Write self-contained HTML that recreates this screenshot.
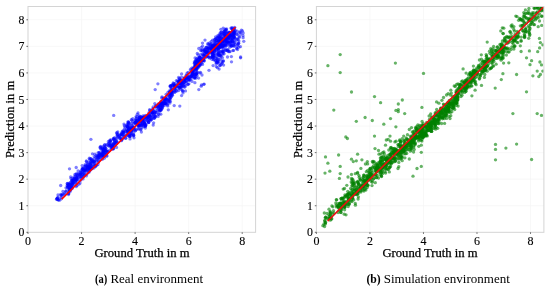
<!DOCTYPE html><html><head><meta charset="utf-8"><title>Prediction vs Ground Truth</title><style>html,body{margin:0;padding:0;background:#fff}svg{display:block}text{font-family:"Liberation Serif",serif;fill:#000;stroke:#000;stroke-width:0.25px}</style></head><body>
<svg width="550" height="289" viewBox="0 0 550 289">
<rect width="550" height="289" fill="#fff"/>
<line x1="81.55" y1="6.5" x2="81.55" y2="232.3" stroke="#f5f5f5" stroke-width="0.7"/>
<line x1="135.11" y1="6.5" x2="135.11" y2="232.3" stroke="#f5f5f5" stroke-width="0.7"/>
<line x1="188.66" y1="6.5" x2="188.66" y2="232.3" stroke="#f5f5f5" stroke-width="0.7"/>
<line x1="242.21" y1="6.5" x2="242.21" y2="232.3" stroke="#f5f5f5" stroke-width="0.7"/>
<line x1="28" y1="205.74" x2="255.6" y2="205.74" stroke="#f5f5f5" stroke-width="0.7"/>
<line x1="28" y1="179.17" x2="255.6" y2="179.17" stroke="#f5f5f5" stroke-width="0.7"/>
<line x1="28" y1="152.61" x2="255.6" y2="152.61" stroke="#f5f5f5" stroke-width="0.7"/>
<line x1="28" y1="126.04" x2="255.6" y2="126.04" stroke="#f5f5f5" stroke-width="0.7"/>
<line x1="28" y1="99.48" x2="255.6" y2="99.48" stroke="#f5f5f5" stroke-width="0.7"/>
<line x1="28" y1="72.91" x2="255.6" y2="72.91" stroke="#f5f5f5" stroke-width="0.7"/>
<line x1="28" y1="46.35" x2="255.6" y2="46.35" stroke="#f5f5f5" stroke-width="0.7"/>
<line x1="28" y1="19.78" x2="255.6" y2="19.78" stroke="#f5f5f5" stroke-width="0.7"/>
<clipPath id="c28"><rect x="28" y="6.5" width="227.6" height="225.8"/></clipPath>
<g clip-path="url(#c28)" fill="#0000ff" fill-opacity="0.5">
<circle cx="58.0" cy="194.9" r="1.65"/>
<circle cx="65.0" cy="193.0" r="1.65"/>
<circle cx="58.3" cy="199.7" r="1.65"/>
<circle cx="57.2" cy="199.5" r="1.65"/>
<circle cx="70.1" cy="191.5" r="1.65"/>
<circle cx="61.5" cy="195.3" r="1.65"/>
<circle cx="65.9" cy="191.1" r="1.65"/>
<circle cx="58.1" cy="197.2" r="1.65"/>
<circle cx="66.0" cy="191.2" r="1.65"/>
<circle cx="68.1" cy="186.7" r="1.65"/>
<circle cx="70.6" cy="190.1" r="1.65"/>
<circle cx="64.3" cy="194.1" r="1.65"/>
<circle cx="61.3" cy="197.4" r="1.65"/>
<circle cx="59.6" cy="200.2" r="1.65"/>
<circle cx="68.9" cy="187.7" r="1.65"/>
<circle cx="63.0" cy="194.2" r="1.65"/>
<circle cx="57.3" cy="198.2" r="1.65"/>
<circle cx="62.4" cy="194.9" r="1.65"/>
<circle cx="66.0" cy="187.8" r="1.65"/>
<circle cx="69.4" cy="189.4" r="1.65"/>
<circle cx="56.6" cy="199.3" r="1.65"/>
<circle cx="61.2" cy="198.8" r="1.65"/>
<circle cx="69.5" cy="189.4" r="1.65"/>
<circle cx="61.1" cy="195.1" r="1.65"/>
<circle cx="58.5" cy="200.0" r="1.65"/>
<circle cx="62.9" cy="191.5" r="1.65"/>
<circle cx="56.9" cy="198.6" r="1.65"/>
<circle cx="68.6" cy="191.6" r="1.65"/>
<circle cx="60.7" cy="194.3" r="1.65"/>
<circle cx="57.4" cy="198.2" r="1.65"/>
<circle cx="68.4" cy="184.4" r="1.65"/>
<circle cx="96.2" cy="160.0" r="1.65"/>
<circle cx="113.3" cy="138.7" r="1.65"/>
<circle cx="70.7" cy="182.7" r="1.65"/>
<circle cx="123.2" cy="131.1" r="1.65"/>
<circle cx="117.5" cy="134.4" r="1.65"/>
<circle cx="72.7" cy="183.9" r="1.65"/>
<circle cx="85.3" cy="165.7" r="1.65"/>
<circle cx="97.9" cy="164.5" r="1.65"/>
<circle cx="80.5" cy="173.6" r="1.65"/>
<circle cx="83.1" cy="176.9" r="1.65"/>
<circle cx="126.0" cy="135.3" r="1.65"/>
<circle cx="94.3" cy="156.6" r="1.65"/>
<circle cx="113.8" cy="143.6" r="1.65"/>
<circle cx="71.1" cy="183.8" r="1.65"/>
<circle cx="82.2" cy="165.6" r="1.65"/>
<circle cx="113.5" cy="145.0" r="1.65"/>
<circle cx="108.4" cy="141.4" r="1.65"/>
<circle cx="116.0" cy="143.2" r="1.65"/>
<circle cx="76.2" cy="179.7" r="1.65"/>
<circle cx="75.9" cy="183.0" r="1.65"/>
<circle cx="116.3" cy="138.7" r="1.65"/>
<circle cx="114.6" cy="142.5" r="1.65"/>
<circle cx="89.4" cy="168.5" r="1.65"/>
<circle cx="129.7" cy="127.4" r="1.65"/>
<circle cx="82.2" cy="168.4" r="1.65"/>
<circle cx="70.7" cy="176.8" r="1.65"/>
<circle cx="106.9" cy="151.1" r="1.65"/>
<circle cx="98.2" cy="152.6" r="1.65"/>
<circle cx="105.3" cy="154.1" r="1.65"/>
<circle cx="69.3" cy="184.2" r="1.65"/>
<circle cx="101.8" cy="155.4" r="1.65"/>
<circle cx="87.3" cy="168.0" r="1.65"/>
<circle cx="89.0" cy="166.9" r="1.65"/>
<circle cx="86.7" cy="171.0" r="1.65"/>
<circle cx="72.2" cy="180.4" r="1.65"/>
<circle cx="127.4" cy="126.5" r="1.65"/>
<circle cx="110.9" cy="140.0" r="1.65"/>
<circle cx="117.6" cy="134.6" r="1.65"/>
<circle cx="75.9" cy="182.8" r="1.65"/>
<circle cx="69.9" cy="187.9" r="1.65"/>
<circle cx="112.0" cy="146.3" r="1.65"/>
<circle cx="114.7" cy="140.5" r="1.65"/>
<circle cx="116.5" cy="147.4" r="1.65"/>
<circle cx="75.5" cy="179.5" r="1.65"/>
<circle cx="98.2" cy="155.6" r="1.65"/>
<circle cx="104.9" cy="154.1" r="1.65"/>
<circle cx="81.9" cy="171.0" r="1.65"/>
<circle cx="89.3" cy="158.2" r="1.65"/>
<circle cx="85.1" cy="169.3" r="1.65"/>
<circle cx="92.9" cy="160.9" r="1.65"/>
<circle cx="109.2" cy="146.2" r="1.65"/>
<circle cx="83.0" cy="178.9" r="1.65"/>
<circle cx="72.9" cy="178.5" r="1.65"/>
<circle cx="101.4" cy="154.2" r="1.65"/>
<circle cx="76.6" cy="176.9" r="1.65"/>
<circle cx="116.1" cy="138.8" r="1.65"/>
<circle cx="123.6" cy="132.3" r="1.65"/>
<circle cx="85.6" cy="171.0" r="1.65"/>
<circle cx="88.2" cy="166.2" r="1.65"/>
<circle cx="122.0" cy="132.0" r="1.65"/>
<circle cx="113.7" cy="139.0" r="1.65"/>
<circle cx="116.1" cy="143.0" r="1.65"/>
<circle cx="102.4" cy="155.9" r="1.65"/>
<circle cx="101.8" cy="156.6" r="1.65"/>
<circle cx="111.2" cy="148.3" r="1.65"/>
<circle cx="98.0" cy="157.9" r="1.65"/>
<circle cx="73.6" cy="182.2" r="1.65"/>
<circle cx="90.2" cy="158.7" r="1.65"/>
<circle cx="105.8" cy="148.4" r="1.65"/>
<circle cx="93.8" cy="168.0" r="1.65"/>
<circle cx="75.5" cy="176.4" r="1.65"/>
<circle cx="92.9" cy="162.1" r="1.65"/>
<circle cx="98.3" cy="157.5" r="1.65"/>
<circle cx="99.0" cy="155.7" r="1.65"/>
<circle cx="67.5" cy="185.8" r="1.65"/>
<circle cx="95.8" cy="157.1" r="1.65"/>
<circle cx="69.6" cy="190.6" r="1.65"/>
<circle cx="100.6" cy="148.8" r="1.65"/>
<circle cx="93.2" cy="164.9" r="1.65"/>
<circle cx="111.8" cy="146.2" r="1.65"/>
<circle cx="84.9" cy="170.7" r="1.65"/>
<circle cx="121.4" cy="134.1" r="1.65"/>
<circle cx="94.3" cy="164.5" r="1.65"/>
<circle cx="113.2" cy="149.0" r="1.65"/>
<circle cx="71.8" cy="180.7" r="1.65"/>
<circle cx="89.6" cy="166.5" r="1.65"/>
<circle cx="71.3" cy="185.6" r="1.65"/>
<circle cx="80.6" cy="174.7" r="1.65"/>
<circle cx="113.3" cy="144.6" r="1.65"/>
<circle cx="68.7" cy="184.9" r="1.65"/>
<circle cx="95.3" cy="166.7" r="1.65"/>
<circle cx="122.7" cy="134.4" r="1.65"/>
<circle cx="92.4" cy="159.7" r="1.65"/>
<circle cx="89.8" cy="167.9" r="1.65"/>
<circle cx="103.0" cy="149.3" r="1.65"/>
<circle cx="108.6" cy="143.4" r="1.65"/>
<circle cx="124.4" cy="128.9" r="1.65"/>
<circle cx="74.2" cy="178.5" r="1.65"/>
<circle cx="104.2" cy="149.5" r="1.65"/>
<circle cx="90.3" cy="164.2" r="1.65"/>
<circle cx="85.2" cy="164.6" r="1.65"/>
<circle cx="87.3" cy="166.7" r="1.65"/>
<circle cx="98.4" cy="162.4" r="1.65"/>
<circle cx="127.7" cy="127.2" r="1.65"/>
<circle cx="97.5" cy="156.2" r="1.65"/>
<circle cx="125.8" cy="138.1" r="1.65"/>
<circle cx="87.7" cy="167.2" r="1.65"/>
<circle cx="104.2" cy="151.3" r="1.65"/>
<circle cx="74.8" cy="179.2" r="1.65"/>
<circle cx="91.4" cy="159.9" r="1.65"/>
<circle cx="99.5" cy="155.4" r="1.65"/>
<circle cx="124.2" cy="136.3" r="1.65"/>
<circle cx="117.1" cy="133.0" r="1.65"/>
<circle cx="99.8" cy="157.4" r="1.65"/>
<circle cx="92.0" cy="166.0" r="1.65"/>
<circle cx="117.1" cy="141.8" r="1.65"/>
<circle cx="68.7" cy="193.5" r="1.65"/>
<circle cx="112.0" cy="146.2" r="1.65"/>
<circle cx="89.7" cy="167.2" r="1.65"/>
<circle cx="77.1" cy="178.2" r="1.65"/>
<circle cx="104.1" cy="150.4" r="1.65"/>
<circle cx="121.3" cy="140.0" r="1.65"/>
<circle cx="116.3" cy="141.2" r="1.65"/>
<circle cx="68.5" cy="194.5" r="1.65"/>
<circle cx="81.1" cy="173.0" r="1.65"/>
<circle cx="74.9" cy="174.5" r="1.65"/>
<circle cx="102.3" cy="153.1" r="1.65"/>
<circle cx="89.8" cy="169.2" r="1.65"/>
<circle cx="103.2" cy="153.1" r="1.65"/>
<circle cx="91.0" cy="161.6" r="1.65"/>
<circle cx="91.2" cy="167.8" r="1.65"/>
<circle cx="108.1" cy="151.5" r="1.65"/>
<circle cx="80.4" cy="176.3" r="1.65"/>
<circle cx="113.8" cy="138.7" r="1.65"/>
<circle cx="118.5" cy="137.0" r="1.65"/>
<circle cx="74.9" cy="179.7" r="1.65"/>
<circle cx="79.3" cy="174.5" r="1.65"/>
<circle cx="110.1" cy="141.0" r="1.65"/>
<circle cx="99.1" cy="157.3" r="1.65"/>
<circle cx="71.3" cy="186.8" r="1.65"/>
<circle cx="109.8" cy="144.1" r="1.65"/>
<circle cx="85.4" cy="166.4" r="1.65"/>
<circle cx="84.1" cy="170.4" r="1.65"/>
<circle cx="82.4" cy="174.5" r="1.65"/>
<circle cx="117.8" cy="132.0" r="1.65"/>
<circle cx="128.1" cy="122.5" r="1.65"/>
<circle cx="86.2" cy="169.6" r="1.65"/>
<circle cx="73.4" cy="183.0" r="1.65"/>
<circle cx="68.4" cy="193.4" r="1.65"/>
<circle cx="124.1" cy="134.0" r="1.65"/>
<circle cx="83.9" cy="170.3" r="1.65"/>
<circle cx="122.4" cy="132.6" r="1.65"/>
<circle cx="90.5" cy="162.5" r="1.65"/>
<circle cx="116.7" cy="141.7" r="1.65"/>
<circle cx="78.1" cy="170.9" r="1.65"/>
<circle cx="114.5" cy="137.7" r="1.65"/>
<circle cx="123.2" cy="135.3" r="1.65"/>
<circle cx="93.3" cy="162.2" r="1.65"/>
<circle cx="122.9" cy="131.0" r="1.65"/>
<circle cx="103.1" cy="155.4" r="1.65"/>
<circle cx="91.1" cy="158.6" r="1.65"/>
<circle cx="103.0" cy="151.3" r="1.65"/>
<circle cx="111.4" cy="143.0" r="1.65"/>
<circle cx="120.1" cy="134.7" r="1.65"/>
<circle cx="90.3" cy="164.3" r="1.65"/>
<circle cx="91.7" cy="162.9" r="1.65"/>
<circle cx="72.7" cy="181.0" r="1.65"/>
<circle cx="99.3" cy="160.0" r="1.65"/>
<circle cx="122.0" cy="135.1" r="1.65"/>
<circle cx="105.7" cy="150.6" r="1.65"/>
<circle cx="76.4" cy="173.7" r="1.65"/>
<circle cx="101.7" cy="149.4" r="1.65"/>
<circle cx="78.5" cy="177.8" r="1.65"/>
<circle cx="87.2" cy="169.9" r="1.65"/>
<circle cx="105.1" cy="150.6" r="1.65"/>
<circle cx="87.3" cy="168.9" r="1.65"/>
<circle cx="90.2" cy="165.1" r="1.65"/>
<circle cx="95.9" cy="165.2" r="1.65"/>
<circle cx="83.1" cy="173.2" r="1.65"/>
<circle cx="126.8" cy="126.5" r="1.65"/>
<circle cx="121.5" cy="140.7" r="1.65"/>
<circle cx="128.5" cy="130.5" r="1.65"/>
<circle cx="126.1" cy="130.9" r="1.65"/>
<circle cx="102.6" cy="148.4" r="1.65"/>
<circle cx="112.3" cy="146.9" r="1.65"/>
<circle cx="106.8" cy="155.4" r="1.65"/>
<circle cx="68.2" cy="183.9" r="1.65"/>
<circle cx="96.7" cy="161.1" r="1.65"/>
<circle cx="83.4" cy="168.3" r="1.65"/>
<circle cx="128.9" cy="129.2" r="1.65"/>
<circle cx="127.5" cy="127.0" r="1.65"/>
<circle cx="77.2" cy="179.9" r="1.65"/>
<circle cx="89.6" cy="159.7" r="1.65"/>
<circle cx="76.3" cy="180.4" r="1.65"/>
<circle cx="125.6" cy="138.3" r="1.65"/>
<circle cx="106.2" cy="154.1" r="1.65"/>
<circle cx="113.6" cy="139.7" r="1.65"/>
<circle cx="90.9" cy="165.9" r="1.65"/>
<circle cx="73.0" cy="180.1" r="1.65"/>
<circle cx="80.8" cy="178.0" r="1.65"/>
<circle cx="87.2" cy="165.9" r="1.65"/>
<circle cx="87.8" cy="164.5" r="1.65"/>
<circle cx="119.1" cy="136.2" r="1.65"/>
<circle cx="67.2" cy="185.5" r="1.65"/>
<circle cx="121.3" cy="134.6" r="1.65"/>
<circle cx="112.6" cy="148.5" r="1.65"/>
<circle cx="80.5" cy="177.1" r="1.65"/>
<circle cx="82.1" cy="174.3" r="1.65"/>
<circle cx="109.7" cy="145.2" r="1.65"/>
<circle cx="82.4" cy="169.3" r="1.65"/>
<circle cx="69.7" cy="184.7" r="1.65"/>
<circle cx="128.6" cy="129.0" r="1.65"/>
<circle cx="103.5" cy="151.8" r="1.65"/>
<circle cx="123.6" cy="137.7" r="1.65"/>
<circle cx="128.5" cy="124.9" r="1.65"/>
<circle cx="76.8" cy="178.1" r="1.65"/>
<circle cx="104.2" cy="156.0" r="1.65"/>
<circle cx="109.0" cy="145.7" r="1.65"/>
<circle cx="107.0" cy="152.1" r="1.65"/>
<circle cx="109.0" cy="144.0" r="1.65"/>
<circle cx="99.0" cy="152.9" r="1.65"/>
<circle cx="75.7" cy="180.7" r="1.65"/>
<circle cx="94.3" cy="161.9" r="1.65"/>
<circle cx="87.0" cy="174.0" r="1.65"/>
<circle cx="111.6" cy="147.7" r="1.65"/>
<circle cx="127.9" cy="135.2" r="1.65"/>
<circle cx="73.2" cy="180.2" r="1.65"/>
<circle cx="126.9" cy="125.1" r="1.65"/>
<circle cx="86.3" cy="175.9" r="1.65"/>
<circle cx="95.0" cy="162.9" r="1.65"/>
<circle cx="96.3" cy="155.3" r="1.65"/>
<circle cx="84.0" cy="172.1" r="1.65"/>
<circle cx="85.0" cy="174.8" r="1.65"/>
<circle cx="88.8" cy="170.7" r="1.65"/>
<circle cx="76.9" cy="177.7" r="1.65"/>
<circle cx="125.1" cy="126.9" r="1.65"/>
<circle cx="119.9" cy="138.6" r="1.65"/>
<circle cx="122.7" cy="138.9" r="1.65"/>
<circle cx="78.2" cy="173.7" r="1.65"/>
<circle cx="129.1" cy="122.9" r="1.65"/>
<circle cx="114.2" cy="142.9" r="1.65"/>
<circle cx="128.9" cy="128.9" r="1.65"/>
<circle cx="75.9" cy="174.7" r="1.65"/>
<circle cx="91.7" cy="166.7" r="1.65"/>
<circle cx="98.3" cy="155.3" r="1.65"/>
<circle cx="68.0" cy="187.2" r="1.65"/>
<circle cx="104.3" cy="158.2" r="1.65"/>
<circle cx="126.0" cy="129.6" r="1.65"/>
<circle cx="113.0" cy="148.5" r="1.65"/>
<circle cx="72.0" cy="187.6" r="1.65"/>
<circle cx="114.7" cy="145.6" r="1.65"/>
<circle cx="116.5" cy="132.9" r="1.65"/>
<circle cx="67.3" cy="183.5" r="1.65"/>
<circle cx="94.7" cy="165.8" r="1.65"/>
<circle cx="83.3" cy="176.6" r="1.65"/>
<circle cx="88.6" cy="172.0" r="1.65"/>
<circle cx="77.4" cy="176.3" r="1.65"/>
<circle cx="105.0" cy="148.0" r="1.65"/>
<circle cx="74.1" cy="185.0" r="1.65"/>
<circle cx="78.9" cy="184.2" r="1.65"/>
<circle cx="77.1" cy="185.5" r="1.65"/>
<circle cx="80.0" cy="183.0" r="1.65"/>
<circle cx="97.0" cy="157.5" r="1.65"/>
<circle cx="89.7" cy="168.7" r="1.65"/>
<circle cx="72.8" cy="182.6" r="1.65"/>
<circle cx="77.6" cy="175.9" r="1.65"/>
<circle cx="121.6" cy="139.5" r="1.65"/>
<circle cx="79.6" cy="174.9" r="1.65"/>
<circle cx="71.1" cy="178.3" r="1.65"/>
<circle cx="89.7" cy="170.1" r="1.65"/>
<circle cx="72.1" cy="183.5" r="1.65"/>
<circle cx="110.0" cy="140.2" r="1.65"/>
<circle cx="99.3" cy="155.5" r="1.65"/>
<circle cx="74.0" cy="176.8" r="1.65"/>
<circle cx="102.4" cy="159.3" r="1.65"/>
<circle cx="128.5" cy="123.3" r="1.65"/>
<circle cx="103.8" cy="151.7" r="1.65"/>
<circle cx="110.7" cy="146.2" r="1.65"/>
<circle cx="104.7" cy="144.9" r="1.65"/>
<circle cx="89.4" cy="167.1" r="1.65"/>
<circle cx="67.4" cy="183.7" r="1.65"/>
<circle cx="111.9" cy="144.4" r="1.65"/>
<circle cx="84.9" cy="168.9" r="1.65"/>
<circle cx="77.9" cy="179.9" r="1.65"/>
<circle cx="119.6" cy="138.1" r="1.65"/>
<circle cx="125.6" cy="131.1" r="1.65"/>
<circle cx="111.0" cy="145.3" r="1.65"/>
<circle cx="100.6" cy="146.5" r="1.65"/>
<circle cx="100.8" cy="154.0" r="1.65"/>
<circle cx="111.6" cy="149.3" r="1.65"/>
<circle cx="92.5" cy="153.8" r="1.65"/>
<circle cx="84.6" cy="166.6" r="1.65"/>
<circle cx="128.0" cy="121.8" r="1.65"/>
<circle cx="80.5" cy="174.6" r="1.65"/>
<circle cx="110.6" cy="141.1" r="1.65"/>
<circle cx="126.9" cy="124.8" r="1.65"/>
<circle cx="112.8" cy="146.5" r="1.65"/>
<circle cx="80.3" cy="172.3" r="1.65"/>
<circle cx="87.5" cy="165.0" r="1.65"/>
<circle cx="70.0" cy="182.7" r="1.65"/>
<circle cx="106.7" cy="151.2" r="1.65"/>
<circle cx="119.8" cy="135.5" r="1.65"/>
<circle cx="120.2" cy="137.2" r="1.65"/>
<circle cx="83.4" cy="169.9" r="1.65"/>
<circle cx="95.0" cy="154.2" r="1.65"/>
<circle cx="91.7" cy="168.9" r="1.65"/>
<circle cx="103.3" cy="146.2" r="1.65"/>
<circle cx="91.4" cy="168.2" r="1.65"/>
<circle cx="98.4" cy="160.4" r="1.65"/>
<circle cx="124.4" cy="125.7" r="1.65"/>
<circle cx="94.2" cy="161.3" r="1.65"/>
<circle cx="124.2" cy="132.3" r="1.65"/>
<circle cx="117.1" cy="135.6" r="1.65"/>
<circle cx="94.3" cy="161.3" r="1.65"/>
<circle cx="82.3" cy="172.0" r="1.65"/>
<circle cx="100.7" cy="147.2" r="1.65"/>
<circle cx="90.5" cy="169.9" r="1.65"/>
<circle cx="109.2" cy="150.6" r="1.65"/>
<circle cx="68.6" cy="185.9" r="1.65"/>
<circle cx="115.2" cy="144.1" r="1.65"/>
<circle cx="100.6" cy="157.8" r="1.65"/>
<circle cx="102.7" cy="156.3" r="1.65"/>
<circle cx="124.0" cy="124.1" r="1.65"/>
<circle cx="102.4" cy="147.8" r="1.65"/>
<circle cx="103.5" cy="153.3" r="1.65"/>
<circle cx="74.3" cy="179.8" r="1.65"/>
<circle cx="77.5" cy="174.5" r="1.65"/>
<circle cx="106.8" cy="144.5" r="1.65"/>
<circle cx="104.0" cy="156.3" r="1.65"/>
<circle cx="72.8" cy="182.4" r="1.65"/>
<circle cx="71.8" cy="185.3" r="1.65"/>
<circle cx="71.8" cy="180.2" r="1.65"/>
<circle cx="73.4" cy="182.2" r="1.65"/>
<circle cx="114.8" cy="142.1" r="1.65"/>
<circle cx="113.5" cy="148.5" r="1.65"/>
<circle cx="84.9" cy="174.8" r="1.65"/>
<circle cx="71.5" cy="186.7" r="1.65"/>
<circle cx="103.5" cy="149.6" r="1.65"/>
<circle cx="70.4" cy="188.2" r="1.65"/>
<circle cx="102.7" cy="155.3" r="1.65"/>
<circle cx="70.0" cy="185.3" r="1.65"/>
<circle cx="84.3" cy="173.0" r="1.65"/>
<circle cx="100.7" cy="154.5" r="1.65"/>
<circle cx="104.7" cy="145.0" r="1.65"/>
<circle cx="81.4" cy="176.8" r="1.65"/>
<circle cx="103.1" cy="152.1" r="1.65"/>
<circle cx="106.3" cy="152.1" r="1.65"/>
<circle cx="88.0" cy="167.2" r="1.65"/>
<circle cx="72.1" cy="187.4" r="1.65"/>
<circle cx="95.3" cy="165.2" r="1.65"/>
<circle cx="102.6" cy="151.5" r="1.65"/>
<circle cx="74.7" cy="178.4" r="1.65"/>
<circle cx="70.7" cy="189.2" r="1.65"/>
<circle cx="72.0" cy="188.7" r="1.65"/>
<circle cx="95.0" cy="166.7" r="1.65"/>
<circle cx="68.9" cy="189.6" r="1.65"/>
<circle cx="80.8" cy="180.1" r="1.65"/>
<circle cx="89.0" cy="162.3" r="1.65"/>
<circle cx="96.7" cy="165.3" r="1.65"/>
<circle cx="104.5" cy="147.2" r="1.65"/>
<circle cx="83.7" cy="175.5" r="1.65"/>
<circle cx="82.8" cy="168.4" r="1.65"/>
<circle cx="105.0" cy="152.6" r="1.65"/>
<circle cx="86.4" cy="160.9" r="1.65"/>
<circle cx="104.4" cy="148.0" r="1.65"/>
<circle cx="99.4" cy="154.1" r="1.65"/>
<circle cx="106.0" cy="149.0" r="1.65"/>
<circle cx="89.2" cy="172.1" r="1.65"/>
<circle cx="72.5" cy="184.7" r="1.65"/>
<circle cx="94.3" cy="159.0" r="1.65"/>
<circle cx="91.6" cy="168.2" r="1.65"/>
<circle cx="102.2" cy="154.4" r="1.65"/>
<circle cx="121.2" cy="138.7" r="1.65"/>
<circle cx="90.3" cy="163.7" r="1.65"/>
<circle cx="100.0" cy="147.5" r="1.65"/>
<circle cx="69.6" cy="187.0" r="1.65"/>
<circle cx="92.4" cy="161.6" r="1.65"/>
<circle cx="112.8" cy="145.5" r="1.65"/>
<circle cx="67.6" cy="187.5" r="1.65"/>
<circle cx="92.4" cy="168.1" r="1.65"/>
<circle cx="106.5" cy="145.7" r="1.65"/>
<circle cx="86.1" cy="167.9" r="1.65"/>
<circle cx="91.6" cy="160.3" r="1.65"/>
<circle cx="96.9" cy="159.0" r="1.65"/>
<circle cx="99.6" cy="152.3" r="1.65"/>
<circle cx="121.3" cy="133.7" r="1.65"/>
<circle cx="123.4" cy="132.5" r="1.65"/>
<circle cx="109.6" cy="142.1" r="1.65"/>
<circle cx="76.2" cy="186.5" r="1.65"/>
<circle cx="106.7" cy="156.3" r="1.65"/>
<circle cx="87.0" cy="168.9" r="1.65"/>
<circle cx="80.6" cy="171.1" r="1.65"/>
<circle cx="129.5" cy="125.8" r="1.65"/>
<circle cx="87.3" cy="162.9" r="1.65"/>
<circle cx="127.8" cy="127.6" r="1.65"/>
<circle cx="75.3" cy="180.8" r="1.65"/>
<circle cx="82.5" cy="169.3" r="1.65"/>
<circle cx="117.5" cy="136.6" r="1.65"/>
<circle cx="114.7" cy="140.5" r="1.65"/>
<circle cx="131.9" cy="120.2" r="1.65"/>
<circle cx="132.4" cy="127.2" r="1.65"/>
<circle cx="129.6" cy="128.5" r="1.65"/>
<circle cx="127.5" cy="131.4" r="1.65"/>
<circle cx="129.8" cy="136.7" r="1.65"/>
<circle cx="129.1" cy="136.3" r="1.65"/>
<circle cx="131.4" cy="133.9" r="1.65"/>
<circle cx="140.1" cy="120.8" r="1.65"/>
<circle cx="139.0" cy="119.3" r="1.65"/>
<circle cx="135.8" cy="119.2" r="1.65"/>
<circle cx="130.0" cy="138.9" r="1.65"/>
<circle cx="133.6" cy="128.0" r="1.65"/>
<circle cx="128.2" cy="123.8" r="1.65"/>
<circle cx="128.7" cy="122.0" r="1.65"/>
<circle cx="138.9" cy="118.4" r="1.65"/>
<circle cx="138.0" cy="112.9" r="1.65"/>
<circle cx="133.3" cy="129.2" r="1.65"/>
<circle cx="135.3" cy="130.8" r="1.65"/>
<circle cx="138.3" cy="122.7" r="1.65"/>
<circle cx="140.1" cy="119.0" r="1.65"/>
<circle cx="134.9" cy="120.4" r="1.65"/>
<circle cx="136.3" cy="120.8" r="1.65"/>
<circle cx="138.8" cy="120.3" r="1.65"/>
<circle cx="142.2" cy="118.2" r="1.65"/>
<circle cx="133.8" cy="135.5" r="1.65"/>
<circle cx="140.4" cy="119.9" r="1.65"/>
<circle cx="130.0" cy="136.4" r="1.65"/>
<circle cx="138.9" cy="125.2" r="1.65"/>
<circle cx="131.3" cy="131.7" r="1.65"/>
<circle cx="140.6" cy="116.6" r="1.65"/>
<circle cx="135.9" cy="121.7" r="1.65"/>
<circle cx="130.6" cy="129.7" r="1.65"/>
<circle cx="141.3" cy="125.0" r="1.65"/>
<circle cx="138.1" cy="122.1" r="1.65"/>
<circle cx="136.4" cy="118.5" r="1.65"/>
<circle cx="136.1" cy="121.0" r="1.65"/>
<circle cx="134.9" cy="122.8" r="1.65"/>
<circle cx="134.4" cy="127.7" r="1.65"/>
<circle cx="138.7" cy="125.0" r="1.65"/>
<circle cx="139.4" cy="119.6" r="1.65"/>
<circle cx="128.4" cy="126.9" r="1.65"/>
<circle cx="132.3" cy="129.0" r="1.65"/>
<circle cx="132.4" cy="126.1" r="1.65"/>
<circle cx="139.4" cy="115.8" r="1.65"/>
<circle cx="138.2" cy="125.4" r="1.65"/>
<circle cx="140.7" cy="120.9" r="1.65"/>
<circle cx="138.0" cy="128.7" r="1.65"/>
<circle cx="139.1" cy="125.2" r="1.65"/>
<circle cx="139.0" cy="129.2" r="1.65"/>
<circle cx="129.0" cy="132.1" r="1.65"/>
<circle cx="139.3" cy="116.9" r="1.65"/>
<circle cx="141.5" cy="117.0" r="1.65"/>
<circle cx="140.5" cy="119.4" r="1.65"/>
<circle cx="128.0" cy="130.5" r="1.65"/>
<circle cx="135.5" cy="130.6" r="1.65"/>
<circle cx="130.8" cy="133.8" r="1.65"/>
<circle cx="143.0" cy="116.0" r="1.65"/>
<circle cx="133.6" cy="135.0" r="1.65"/>
<circle cx="143.1" cy="120.1" r="1.65"/>
<circle cx="138.2" cy="124.8" r="1.65"/>
<circle cx="133.5" cy="127.7" r="1.65"/>
<circle cx="134.6" cy="129.5" r="1.65"/>
<circle cx="133.4" cy="126.9" r="1.65"/>
<circle cx="137.3" cy="114.3" r="1.65"/>
<circle cx="136.1" cy="124.0" r="1.65"/>
<circle cx="142.5" cy="119.6" r="1.65"/>
<circle cx="127.8" cy="130.5" r="1.65"/>
<circle cx="131.3" cy="127.7" r="1.65"/>
<circle cx="133.3" cy="134.8" r="1.65"/>
<circle cx="132.8" cy="118.6" r="1.65"/>
<circle cx="131.7" cy="129.1" r="1.65"/>
<circle cx="130.5" cy="135.1" r="1.65"/>
<circle cx="134.0" cy="137.8" r="1.65"/>
<circle cx="139.6" cy="117.6" r="1.65"/>
<circle cx="135.3" cy="122.3" r="1.65"/>
<circle cx="131.3" cy="119.7" r="1.65"/>
<circle cx="136.3" cy="129.7" r="1.65"/>
<circle cx="131.5" cy="123.4" r="1.65"/>
<circle cx="131.3" cy="125.1" r="1.65"/>
<circle cx="139.8" cy="125.5" r="1.65"/>
<circle cx="132.7" cy="121.7" r="1.65"/>
<circle cx="140.9" cy="121.5" r="1.65"/>
<circle cx="138.7" cy="126.6" r="1.65"/>
<circle cx="139.6" cy="118.7" r="1.65"/>
<circle cx="133.6" cy="132.7" r="1.65"/>
<circle cx="127.6" cy="132.9" r="1.65"/>
<circle cx="137.2" cy="123.5" r="1.65"/>
<circle cx="135.4" cy="122.8" r="1.65"/>
<circle cx="127.5" cy="132.1" r="1.65"/>
<circle cx="128.0" cy="131.0" r="1.65"/>
<circle cx="133.3" cy="135.8" r="1.65"/>
<circle cx="128.1" cy="133.5" r="1.65"/>
<circle cx="142.1" cy="119.2" r="1.65"/>
<circle cx="131.2" cy="128.5" r="1.65"/>
<circle cx="127.1" cy="135.3" r="1.65"/>
<circle cx="136.8" cy="116.5" r="1.65"/>
<circle cx="136.9" cy="125.1" r="1.65"/>
<circle cx="136.9" cy="122.2" r="1.65"/>
<circle cx="137.6" cy="120.0" r="1.65"/>
<circle cx="130.6" cy="128.8" r="1.65"/>
<circle cx="130.9" cy="133.7" r="1.65"/>
<circle cx="131.6" cy="130.5" r="1.65"/>
<circle cx="139.9" cy="119.6" r="1.65"/>
<circle cx="140.8" cy="122.7" r="1.65"/>
<circle cx="133.8" cy="123.9" r="1.65"/>
<circle cx="136.0" cy="116.8" r="1.65"/>
<circle cx="142.3" cy="117.5" r="1.65"/>
<circle cx="139.4" cy="120.4" r="1.65"/>
<circle cx="130.1" cy="135.9" r="1.65"/>
<circle cx="131.1" cy="130.2" r="1.65"/>
<circle cx="141.8" cy="120.6" r="1.65"/>
<circle cx="134.9" cy="122.9" r="1.65"/>
<circle cx="142.8" cy="120.3" r="1.65"/>
<circle cx="130.0" cy="131.7" r="1.65"/>
<circle cx="131.7" cy="130.3" r="1.65"/>
<circle cx="139.3" cy="117.5" r="1.65"/>
<circle cx="129.3" cy="135.2" r="1.65"/>
<circle cx="132.3" cy="130.9" r="1.65"/>
<circle cx="139.4" cy="125.9" r="1.65"/>
<circle cx="137.3" cy="120.5" r="1.65"/>
<circle cx="168.7" cy="101.4" r="1.65"/>
<circle cx="163.4" cy="102.8" r="1.65"/>
<circle cx="169.6" cy="94.0" r="1.65"/>
<circle cx="145.5" cy="126.0" r="1.65"/>
<circle cx="152.4" cy="113.1" r="1.65"/>
<circle cx="166.3" cy="99.3" r="1.65"/>
<circle cx="162.3" cy="105.5" r="1.65"/>
<circle cx="145.0" cy="117.7" r="1.65"/>
<circle cx="153.2" cy="125.1" r="1.65"/>
<circle cx="161.3" cy="104.1" r="1.65"/>
<circle cx="160.5" cy="103.6" r="1.65"/>
<circle cx="172.5" cy="89.0" r="1.65"/>
<circle cx="168.1" cy="95.1" r="1.65"/>
<circle cx="164.3" cy="99.3" r="1.65"/>
<circle cx="143.0" cy="125.5" r="1.65"/>
<circle cx="170.1" cy="95.1" r="1.65"/>
<circle cx="150.3" cy="116.8" r="1.65"/>
<circle cx="160.9" cy="105.0" r="1.65"/>
<circle cx="166.1" cy="98.5" r="1.65"/>
<circle cx="164.4" cy="103.4" r="1.65"/>
<circle cx="162.6" cy="105.8" r="1.65"/>
<circle cx="160.5" cy="108.8" r="1.65"/>
<circle cx="163.3" cy="103.3" r="1.65"/>
<circle cx="140.7" cy="125.5" r="1.65"/>
<circle cx="160.5" cy="110.3" r="1.65"/>
<circle cx="158.2" cy="114.1" r="1.65"/>
<circle cx="149.9" cy="116.1" r="1.65"/>
<circle cx="148.2" cy="117.6" r="1.65"/>
<circle cx="150.4" cy="120.6" r="1.65"/>
<circle cx="168.9" cy="99.3" r="1.65"/>
<circle cx="144.4" cy="122.8" r="1.65"/>
<circle cx="143.8" cy="117.8" r="1.65"/>
<circle cx="167.9" cy="92.5" r="1.65"/>
<circle cx="156.5" cy="112.4" r="1.65"/>
<circle cx="149.6" cy="109.7" r="1.65"/>
<circle cx="171.9" cy="93.2" r="1.65"/>
<circle cx="157.9" cy="105.4" r="1.65"/>
<circle cx="142.5" cy="117.6" r="1.65"/>
<circle cx="145.5" cy="125.7" r="1.65"/>
<circle cx="164.5" cy="103.7" r="1.65"/>
<circle cx="159.6" cy="105.6" r="1.65"/>
<circle cx="165.0" cy="103.0" r="1.65"/>
<circle cx="162.6" cy="105.1" r="1.65"/>
<circle cx="158.9" cy="114.3" r="1.65"/>
<circle cx="167.3" cy="104.9" r="1.65"/>
<circle cx="165.2" cy="103.8" r="1.65"/>
<circle cx="154.9" cy="115.7" r="1.65"/>
<circle cx="151.4" cy="116.0" r="1.65"/>
<circle cx="162.9" cy="106.3" r="1.65"/>
<circle cx="153.6" cy="117.0" r="1.65"/>
<circle cx="172.4" cy="95.3" r="1.65"/>
<circle cx="153.9" cy="118.3" r="1.65"/>
<circle cx="148.5" cy="122.6" r="1.65"/>
<circle cx="164.7" cy="100.7" r="1.65"/>
<circle cx="149.8" cy="115.1" r="1.65"/>
<circle cx="170.0" cy="93.5" r="1.65"/>
<circle cx="169.8" cy="95.7" r="1.65"/>
<circle cx="164.3" cy="103.6" r="1.65"/>
<circle cx="143.0" cy="121.2" r="1.65"/>
<circle cx="148.3" cy="121.7" r="1.65"/>
<circle cx="170.5" cy="93.1" r="1.65"/>
<circle cx="160.8" cy="114.2" r="1.65"/>
<circle cx="162.0" cy="97.0" r="1.65"/>
<circle cx="144.4" cy="124.3" r="1.65"/>
<circle cx="156.7" cy="108.1" r="1.65"/>
<circle cx="150.1" cy="116.3" r="1.65"/>
<circle cx="151.5" cy="112.4" r="1.65"/>
<circle cx="170.4" cy="101.4" r="1.65"/>
<circle cx="153.1" cy="112.5" r="1.65"/>
<circle cx="148.6" cy="116.1" r="1.65"/>
<circle cx="170.9" cy="93.9" r="1.65"/>
<circle cx="145.2" cy="126.4" r="1.65"/>
<circle cx="145.9" cy="115.5" r="1.65"/>
<circle cx="156.0" cy="110.8" r="1.65"/>
<circle cx="152.7" cy="108.6" r="1.65"/>
<circle cx="152.4" cy="113.0" r="1.65"/>
<circle cx="162.6" cy="107.0" r="1.65"/>
<circle cx="141.9" cy="127.7" r="1.65"/>
<circle cx="142.7" cy="124.3" r="1.65"/>
<circle cx="158.1" cy="116.4" r="1.65"/>
<circle cx="146.6" cy="118.8" r="1.65"/>
<circle cx="144.6" cy="123.4" r="1.65"/>
<circle cx="161.5" cy="102.7" r="1.65"/>
<circle cx="159.3" cy="110.4" r="1.65"/>
<circle cx="144.5" cy="123.3" r="1.65"/>
<circle cx="154.1" cy="118.2" r="1.65"/>
<circle cx="140.8" cy="129.0" r="1.65"/>
<circle cx="160.4" cy="106.7" r="1.65"/>
<circle cx="153.4" cy="114.7" r="1.65"/>
<circle cx="151.5" cy="118.6" r="1.65"/>
<circle cx="145.1" cy="124.4" r="1.65"/>
<circle cx="165.4" cy="101.5" r="1.65"/>
<circle cx="155.6" cy="116.3" r="1.65"/>
<circle cx="144.6" cy="116.0" r="1.65"/>
<circle cx="146.9" cy="120.4" r="1.65"/>
<circle cx="153.6" cy="122.8" r="1.65"/>
<circle cx="161.0" cy="101.4" r="1.65"/>
<circle cx="141.4" cy="132.0" r="1.65"/>
<circle cx="170.9" cy="95.6" r="1.65"/>
<circle cx="167.2" cy="96.2" r="1.65"/>
<circle cx="162.1" cy="103.1" r="1.65"/>
<circle cx="164.0" cy="98.6" r="1.65"/>
<circle cx="145.2" cy="117.4" r="1.65"/>
<circle cx="154.6" cy="113.1" r="1.65"/>
<circle cx="164.9" cy="105.2" r="1.65"/>
<circle cx="172.2" cy="95.1" r="1.65"/>
<circle cx="160.9" cy="109.9" r="1.65"/>
<circle cx="144.1" cy="122.2" r="1.65"/>
<circle cx="149.5" cy="120.0" r="1.65"/>
<circle cx="147.8" cy="115.9" r="1.65"/>
<circle cx="154.2" cy="112.9" r="1.65"/>
<circle cx="169.4" cy="98.4" r="1.65"/>
<circle cx="165.2" cy="103.4" r="1.65"/>
<circle cx="164.1" cy="99.7" r="1.65"/>
<circle cx="171.4" cy="96.7" r="1.65"/>
<circle cx="169.3" cy="96.5" r="1.65"/>
<circle cx="151.3" cy="110.8" r="1.65"/>
<circle cx="153.3" cy="110.5" r="1.65"/>
<circle cx="166.4" cy="103.4" r="1.65"/>
<circle cx="147.9" cy="117.4" r="1.65"/>
<circle cx="142.9" cy="119.4" r="1.65"/>
<circle cx="141.8" cy="125.1" r="1.65"/>
<circle cx="145.3" cy="128.0" r="1.65"/>
<circle cx="170.0" cy="99.2" r="1.65"/>
<circle cx="168.5" cy="100.7" r="1.65"/>
<circle cx="163.3" cy="103.3" r="1.65"/>
<circle cx="154.8" cy="103.6" r="1.65"/>
<circle cx="151.7" cy="112.6" r="1.65"/>
<circle cx="159.4" cy="109.3" r="1.65"/>
<circle cx="172.5" cy="90.4" r="1.65"/>
<circle cx="148.7" cy="122.4" r="1.65"/>
<circle cx="147.0" cy="121.0" r="1.65"/>
<circle cx="148.5" cy="116.0" r="1.65"/>
<circle cx="144.1" cy="123.5" r="1.65"/>
<circle cx="149.9" cy="110.5" r="1.65"/>
<circle cx="156.0" cy="105.3" r="1.65"/>
<circle cx="154.8" cy="117.8" r="1.65"/>
<circle cx="158.6" cy="106.8" r="1.65"/>
<circle cx="140.8" cy="129.8" r="1.65"/>
<circle cx="159.3" cy="111.5" r="1.65"/>
<circle cx="148.6" cy="122.4" r="1.65"/>
<circle cx="150.4" cy="118.5" r="1.65"/>
<circle cx="160.3" cy="107.5" r="1.65"/>
<circle cx="149.0" cy="112.6" r="1.65"/>
<circle cx="157.7" cy="106.7" r="1.65"/>
<circle cx="142.2" cy="123.1" r="1.65"/>
<circle cx="141.4" cy="124.5" r="1.65"/>
<circle cx="145.8" cy="124.6" r="1.65"/>
<circle cx="165.4" cy="103.1" r="1.65"/>
<circle cx="159.1" cy="104.2" r="1.65"/>
<circle cx="163.2" cy="101.1" r="1.65"/>
<circle cx="161.4" cy="103.5" r="1.65"/>
<circle cx="155.4" cy="116.7" r="1.65"/>
<circle cx="147.6" cy="117.3" r="1.65"/>
<circle cx="167.8" cy="105.9" r="1.65"/>
<circle cx="146.0" cy="124.9" r="1.65"/>
<circle cx="149.5" cy="114.8" r="1.65"/>
<circle cx="155.7" cy="112.3" r="1.65"/>
<circle cx="155.6" cy="106.7" r="1.65"/>
<circle cx="169.9" cy="103.0" r="1.65"/>
<circle cx="165.7" cy="98.7" r="1.65"/>
<circle cx="144.2" cy="117.0" r="1.65"/>
<circle cx="142.2" cy="118.0" r="1.65"/>
<circle cx="160.4" cy="105.5" r="1.65"/>
<circle cx="169.3" cy="91.0" r="1.65"/>
<circle cx="168.3" cy="109.8" r="1.65"/>
<circle cx="160.5" cy="109.5" r="1.65"/>
<circle cx="167.7" cy="100.8" r="1.65"/>
<circle cx="140.7" cy="123.4" r="1.65"/>
<circle cx="161.7" cy="108.5" r="1.65"/>
<circle cx="144.5" cy="120.6" r="1.65"/>
<circle cx="160.6" cy="103.4" r="1.65"/>
<circle cx="161.7" cy="97.9" r="1.65"/>
<circle cx="161.5" cy="103.7" r="1.65"/>
<circle cx="154.9" cy="115.0" r="1.65"/>
<circle cx="164.1" cy="101.7" r="1.65"/>
<circle cx="163.6" cy="98.0" r="1.65"/>
<circle cx="169.5" cy="101.2" r="1.65"/>
<circle cx="142.1" cy="121.2" r="1.65"/>
<circle cx="152.5" cy="112.8" r="1.65"/>
<circle cx="155.8" cy="106.4" r="1.65"/>
<circle cx="166.1" cy="98.4" r="1.65"/>
<circle cx="147.0" cy="116.7" r="1.65"/>
<circle cx="171.6" cy="91.1" r="1.65"/>
<circle cx="143.3" cy="118.8" r="1.65"/>
<circle cx="160.3" cy="109.8" r="1.65"/>
<circle cx="146.8" cy="117.2" r="1.65"/>
<circle cx="166.2" cy="99.9" r="1.65"/>
<circle cx="153.3" cy="111.1" r="1.65"/>
<circle cx="166.1" cy="94.3" r="1.65"/>
<circle cx="152.6" cy="113.2" r="1.65"/>
<circle cx="167.9" cy="103.7" r="1.65"/>
<circle cx="151.5" cy="119.5" r="1.65"/>
<circle cx="152.9" cy="109.8" r="1.65"/>
<circle cx="166.0" cy="102.5" r="1.65"/>
<circle cx="166.9" cy="99.3" r="1.65"/>
<circle cx="158.8" cy="106.2" r="1.65"/>
<circle cx="163.2" cy="102.2" r="1.65"/>
<circle cx="158.5" cy="108.0" r="1.65"/>
<circle cx="153.2" cy="106.8" r="1.65"/>
<circle cx="160.7" cy="103.0" r="1.65"/>
<circle cx="148.6" cy="119.7" r="1.65"/>
<circle cx="161.7" cy="108.0" r="1.65"/>
<circle cx="152.6" cy="116.3" r="1.65"/>
<circle cx="158.3" cy="103.8" r="1.65"/>
<circle cx="169.9" cy="92.6" r="1.65"/>
<circle cx="149.6" cy="113.8" r="1.65"/>
<circle cx="143.8" cy="122.2" r="1.65"/>
<circle cx="171.9" cy="91.7" r="1.65"/>
<circle cx="158.9" cy="106.9" r="1.65"/>
<circle cx="151.1" cy="119.8" r="1.65"/>
<circle cx="146.0" cy="119.0" r="1.65"/>
<circle cx="170.3" cy="98.0" r="1.65"/>
<circle cx="158.0" cy="110.0" r="1.65"/>
<circle cx="160.9" cy="110.3" r="1.65"/>
<circle cx="155.0" cy="112.0" r="1.65"/>
<circle cx="143.7" cy="126.5" r="1.65"/>
<circle cx="162.1" cy="108.5" r="1.65"/>
<circle cx="149.4" cy="118.9" r="1.65"/>
<circle cx="144.8" cy="125.5" r="1.65"/>
<circle cx="179.8" cy="80.6" r="1.65"/>
<circle cx="180.9" cy="82.8" r="1.65"/>
<circle cx="179.8" cy="81.7" r="1.65"/>
<circle cx="170.2" cy="86.4" r="1.65"/>
<circle cx="180.9" cy="79.8" r="1.65"/>
<circle cx="174.8" cy="88.1" r="1.65"/>
<circle cx="171.2" cy="88.4" r="1.65"/>
<circle cx="177.7" cy="84.2" r="1.65"/>
<circle cx="169.9" cy="92.1" r="1.65"/>
<circle cx="179.8" cy="81.3" r="1.65"/>
<circle cx="170.8" cy="91.4" r="1.65"/>
<circle cx="170.9" cy="92.5" r="1.65"/>
<circle cx="179.8" cy="83.3" r="1.65"/>
<circle cx="174.8" cy="85.6" r="1.65"/>
<circle cx="174.7" cy="88.9" r="1.65"/>
<circle cx="176.4" cy="80.6" r="1.65"/>
<circle cx="179.5" cy="81.1" r="1.65"/>
<circle cx="174.2" cy="85.9" r="1.65"/>
<circle cx="178.4" cy="82.1" r="1.65"/>
<circle cx="181.6" cy="73.9" r="1.65"/>
<circle cx="174.0" cy="84.0" r="1.65"/>
<circle cx="170.7" cy="97.6" r="1.65"/>
<circle cx="173.4" cy="83.8" r="1.65"/>
<circle cx="181.8" cy="86.2" r="1.65"/>
<circle cx="172.2" cy="94.0" r="1.65"/>
<circle cx="175.1" cy="89.3" r="1.65"/>
<circle cx="175.6" cy="86.2" r="1.65"/>
<circle cx="180.9" cy="82.5" r="1.65"/>
<circle cx="178.2" cy="81.6" r="1.65"/>
<circle cx="172.0" cy="85.1" r="1.65"/>
<circle cx="175.3" cy="87.8" r="1.65"/>
<circle cx="170.2" cy="86.1" r="1.65"/>
<circle cx="171.0" cy="90.2" r="1.65"/>
<circle cx="174.3" cy="85.7" r="1.65"/>
<circle cx="181.5" cy="77.1" r="1.65"/>
<circle cx="174.8" cy="85.2" r="1.65"/>
<circle cx="178.4" cy="83.9" r="1.65"/>
<circle cx="178.6" cy="90.5" r="1.65"/>
<circle cx="172.0" cy="85.2" r="1.65"/>
<circle cx="181.0" cy="83.5" r="1.65"/>
<circle cx="179.5" cy="79.0" r="1.65"/>
<circle cx="179.5" cy="80.1" r="1.65"/>
<circle cx="176.7" cy="85.9" r="1.65"/>
<circle cx="177.5" cy="80.9" r="1.65"/>
<circle cx="170.6" cy="92.8" r="1.65"/>
<circle cx="179.8" cy="86.7" r="1.65"/>
<circle cx="173.8" cy="86.5" r="1.65"/>
<circle cx="171.5" cy="91.2" r="1.65"/>
<circle cx="173.0" cy="92.5" r="1.65"/>
<circle cx="178.9" cy="86.8" r="1.65"/>
<circle cx="174.8" cy="92.3" r="1.65"/>
<circle cx="170.7" cy="86.2" r="1.65"/>
<circle cx="171.5" cy="88.6" r="1.65"/>
<circle cx="178.6" cy="77.4" r="1.65"/>
<circle cx="176.0" cy="90.5" r="1.65"/>
<circle cx="176.7" cy="86.8" r="1.65"/>
<circle cx="175.4" cy="86.3" r="1.65"/>
<circle cx="170.1" cy="91.6" r="1.65"/>
<circle cx="179.8" cy="87.7" r="1.65"/>
<circle cx="179.6" cy="83.1" r="1.65"/>
<circle cx="177.7" cy="86.2" r="1.65"/>
<circle cx="178.7" cy="87.9" r="1.65"/>
<circle cx="174.1" cy="90.9" r="1.65"/>
<circle cx="179.3" cy="88.0" r="1.65"/>
<circle cx="171.1" cy="92.4" r="1.65"/>
<circle cx="170.1" cy="92.3" r="1.65"/>
<circle cx="180.9" cy="83.3" r="1.65"/>
<circle cx="179.0" cy="82.1" r="1.65"/>
<circle cx="173.2" cy="83.0" r="1.65"/>
<circle cx="180.6" cy="81.1" r="1.65"/>
<circle cx="175.2" cy="83.5" r="1.65"/>
<circle cx="176.8" cy="91.0" r="1.65"/>
<circle cx="178.6" cy="81.5" r="1.65"/>
<circle cx="179.5" cy="78.3" r="1.65"/>
<circle cx="180.5" cy="87.0" r="1.65"/>
<circle cx="170.4" cy="85.7" r="1.65"/>
<circle cx="175.0" cy="91.8" r="1.65"/>
<circle cx="172.4" cy="85.3" r="1.65"/>
<circle cx="179.7" cy="83.7" r="1.65"/>
<circle cx="181.0" cy="80.2" r="1.65"/>
<circle cx="191.0" cy="70.2" r="1.65"/>
<circle cx="198.7" cy="65.4" r="1.65"/>
<circle cx="190.0" cy="79.4" r="1.65"/>
<circle cx="189.7" cy="80.2" r="1.65"/>
<circle cx="186.4" cy="82.1" r="1.65"/>
<circle cx="183.1" cy="83.5" r="1.65"/>
<circle cx="198.9" cy="67.1" r="1.65"/>
<circle cx="199.7" cy="65.5" r="1.65"/>
<circle cx="180.9" cy="89.1" r="1.65"/>
<circle cx="191.3" cy="78.6" r="1.65"/>
<circle cx="198.5" cy="63.0" r="1.65"/>
<circle cx="197.8" cy="67.7" r="1.65"/>
<circle cx="195.3" cy="74.9" r="1.65"/>
<circle cx="186.6" cy="78.4" r="1.65"/>
<circle cx="186.1" cy="75.4" r="1.65"/>
<circle cx="192.6" cy="71.2" r="1.65"/>
<circle cx="184.1" cy="86.4" r="1.65"/>
<circle cx="191.3" cy="76.5" r="1.65"/>
<circle cx="194.9" cy="77.5" r="1.65"/>
<circle cx="194.2" cy="74.1" r="1.65"/>
<circle cx="196.8" cy="74.1" r="1.65"/>
<circle cx="192.0" cy="81.4" r="1.65"/>
<circle cx="189.2" cy="77.7" r="1.65"/>
<circle cx="184.5" cy="84.7" r="1.65"/>
<circle cx="197.1" cy="75.5" r="1.65"/>
<circle cx="189.3" cy="76.3" r="1.65"/>
<circle cx="184.3" cy="78.5" r="1.65"/>
<circle cx="189.0" cy="80.4" r="1.65"/>
<circle cx="193.0" cy="68.7" r="1.65"/>
<circle cx="197.9" cy="72.5" r="1.65"/>
<circle cx="181.0" cy="81.5" r="1.65"/>
<circle cx="183.0" cy="92.9" r="1.65"/>
<circle cx="183.4" cy="80.4" r="1.65"/>
<circle cx="187.1" cy="77.7" r="1.65"/>
<circle cx="195.8" cy="67.8" r="1.65"/>
<circle cx="184.1" cy="80.7" r="1.65"/>
<circle cx="199.6" cy="64.6" r="1.65"/>
<circle cx="186.4" cy="81.4" r="1.65"/>
<circle cx="182.0" cy="90.1" r="1.65"/>
<circle cx="193.0" cy="69.1" r="1.65"/>
<circle cx="196.9" cy="72.2" r="1.65"/>
<circle cx="192.1" cy="67.8" r="1.65"/>
<circle cx="196.6" cy="73.3" r="1.65"/>
<circle cx="195.9" cy="70.1" r="1.65"/>
<circle cx="196.2" cy="74.1" r="1.65"/>
<circle cx="192.3" cy="71.8" r="1.65"/>
<circle cx="188.9" cy="83.8" r="1.65"/>
<circle cx="184.0" cy="82.5" r="1.65"/>
<circle cx="191.8" cy="76.1" r="1.65"/>
<circle cx="188.9" cy="77.0" r="1.65"/>
<circle cx="194.9" cy="82.7" r="1.65"/>
<circle cx="188.0" cy="84.3" r="1.65"/>
<circle cx="196.4" cy="68.7" r="1.65"/>
<circle cx="191.9" cy="74.6" r="1.65"/>
<circle cx="192.1" cy="75.4" r="1.65"/>
<circle cx="184.5" cy="87.3" r="1.65"/>
<circle cx="184.9" cy="80.0" r="1.65"/>
<circle cx="184.6" cy="77.3" r="1.65"/>
<circle cx="197.2" cy="64.2" r="1.65"/>
<circle cx="185.5" cy="90.9" r="1.65"/>
<circle cx="181.6" cy="84.9" r="1.65"/>
<circle cx="192.2" cy="74.8" r="1.65"/>
<circle cx="198.8" cy="65.0" r="1.65"/>
<circle cx="195.8" cy="78.2" r="1.65"/>
<circle cx="188.2" cy="72.5" r="1.65"/>
<circle cx="193.0" cy="76.4" r="1.65"/>
<circle cx="185.7" cy="85.9" r="1.65"/>
<circle cx="194.2" cy="71.9" r="1.65"/>
<circle cx="182.2" cy="82.9" r="1.65"/>
<circle cx="194.4" cy="77.0" r="1.65"/>
<circle cx="195.7" cy="66.3" r="1.65"/>
<circle cx="186.3" cy="78.2" r="1.65"/>
<circle cx="192.8" cy="74.5" r="1.65"/>
<circle cx="192.5" cy="72.3" r="1.65"/>
<circle cx="200.1" cy="64.2" r="1.65"/>
<circle cx="184.8" cy="78.3" r="1.65"/>
<circle cx="184.9" cy="79.4" r="1.65"/>
<circle cx="192.1" cy="73.2" r="1.65"/>
<circle cx="194.9" cy="66.2" r="1.65"/>
<circle cx="193.3" cy="70.3" r="1.65"/>
<circle cx="186.6" cy="75.4" r="1.65"/>
<circle cx="188.6" cy="79.7" r="1.65"/>
<circle cx="183.3" cy="83.1" r="1.65"/>
<circle cx="181.0" cy="83.2" r="1.65"/>
<circle cx="194.1" cy="74.7" r="1.65"/>
<circle cx="196.0" cy="68.3" r="1.65"/>
<circle cx="192.7" cy="73.8" r="1.65"/>
<circle cx="199.4" cy="61.5" r="1.65"/>
<circle cx="200.1" cy="73.1" r="1.65"/>
<circle cx="193.4" cy="72.5" r="1.65"/>
<circle cx="182.5" cy="90.9" r="1.65"/>
<circle cx="184.9" cy="81.8" r="1.65"/>
<circle cx="189.9" cy="77.4" r="1.65"/>
<circle cx="180.9" cy="80.6" r="1.65"/>
<circle cx="193.4" cy="68.5" r="1.65"/>
<circle cx="188.3" cy="79.4" r="1.65"/>
<circle cx="181.1" cy="86.9" r="1.65"/>
<circle cx="196.0" cy="64.7" r="1.65"/>
<circle cx="200.5" cy="72.3" r="1.65"/>
<circle cx="195.7" cy="63.7" r="1.65"/>
<circle cx="194.5" cy="66.3" r="1.65"/>
<circle cx="183.0" cy="85.9" r="1.65"/>
<circle cx="198.6" cy="78.1" r="1.65"/>
<circle cx="183.7" cy="79.9" r="1.65"/>
<circle cx="183.1" cy="91.1" r="1.65"/>
<circle cx="187.8" cy="77.3" r="1.65"/>
<circle cx="187.7" cy="84.3" r="1.65"/>
<circle cx="189.6" cy="75.7" r="1.65"/>
<circle cx="194.3" cy="78.1" r="1.65"/>
<circle cx="191.4" cy="76.4" r="1.65"/>
<circle cx="196.1" cy="70.6" r="1.65"/>
<circle cx="195.3" cy="66.5" r="1.65"/>
<circle cx="198.4" cy="64.5" r="1.65"/>
<circle cx="195.5" cy="74.5" r="1.65"/>
<circle cx="194.7" cy="69.2" r="1.65"/>
<circle cx="200.1" cy="65.2" r="1.65"/>
<circle cx="184.2" cy="82.8" r="1.65"/>
<circle cx="192.1" cy="76.2" r="1.65"/>
<circle cx="186.4" cy="77.8" r="1.65"/>
<circle cx="187.1" cy="73.2" r="1.65"/>
<circle cx="182.9" cy="85.2" r="1.65"/>
<circle cx="194.7" cy="77.9" r="1.65"/>
<circle cx="193.8" cy="69.9" r="1.65"/>
<circle cx="196.1" cy="66.3" r="1.65"/>
<circle cx="181.9" cy="81.0" r="1.65"/>
<circle cx="191.3" cy="76.1" r="1.65"/>
<circle cx="196.5" cy="69.4" r="1.65"/>
<circle cx="195.9" cy="76.5" r="1.65"/>
<circle cx="187.3" cy="78.4" r="1.65"/>
<circle cx="181.2" cy="81.5" r="1.65"/>
<circle cx="181.6" cy="95.6" r="1.65"/>
<circle cx="193.2" cy="71.4" r="1.65"/>
<circle cx="181.5" cy="87.1" r="1.65"/>
<circle cx="191.0" cy="73.0" r="1.65"/>
<circle cx="180.9" cy="85.6" r="1.65"/>
<circle cx="196.2" cy="73.5" r="1.65"/>
<circle cx="195.0" cy="74.3" r="1.65"/>
<circle cx="186.0" cy="80.9" r="1.65"/>
<circle cx="184.6" cy="78.8" r="1.65"/>
<circle cx="190.6" cy="69.2" r="1.65"/>
<circle cx="200.0" cy="60.4" r="1.65"/>
<circle cx="198.2" cy="66.4" r="1.65"/>
<circle cx="194.4" cy="61.8" r="1.65"/>
<circle cx="195.2" cy="68.2" r="1.65"/>
<circle cx="208.0" cy="43.5" r="1.65"/>
<circle cx="208.7" cy="56.9" r="1.65"/>
<circle cx="197.5" cy="61.0" r="1.65"/>
<circle cx="212.2" cy="46.4" r="1.65"/>
<circle cx="202.7" cy="55.0" r="1.65"/>
<circle cx="206.9" cy="47.5" r="1.65"/>
<circle cx="199.7" cy="57.7" r="1.65"/>
<circle cx="200.4" cy="60.9" r="1.65"/>
<circle cx="197.5" cy="64.6" r="1.65"/>
<circle cx="210.6" cy="51.5" r="1.65"/>
<circle cx="196.4" cy="64.5" r="1.65"/>
<circle cx="200.7" cy="57.7" r="1.65"/>
<circle cx="201.4" cy="50.3" r="1.65"/>
<circle cx="207.8" cy="55.7" r="1.65"/>
<circle cx="212.6" cy="46.3" r="1.65"/>
<circle cx="204.8" cy="51.2" r="1.65"/>
<circle cx="202.2" cy="60.3" r="1.65"/>
<circle cx="198.6" cy="58.9" r="1.65"/>
<circle cx="196.5" cy="67.0" r="1.65"/>
<circle cx="202.2" cy="58.7" r="1.65"/>
<circle cx="198.3" cy="59.6" r="1.65"/>
<circle cx="204.0" cy="58.4" r="1.65"/>
<circle cx="205.6" cy="57.5" r="1.65"/>
<circle cx="200.3" cy="57.3" r="1.65"/>
<circle cx="196.8" cy="61.8" r="1.65"/>
<circle cx="204.0" cy="54.8" r="1.65"/>
<circle cx="197.2" cy="68.7" r="1.65"/>
<circle cx="206.8" cy="56.5" r="1.65"/>
<circle cx="196.6" cy="59.1" r="1.65"/>
<circle cx="198.8" cy="48.5" r="1.65"/>
<circle cx="198.4" cy="63.7" r="1.65"/>
<circle cx="205.9" cy="47.4" r="1.65"/>
<circle cx="201.8" cy="63.3" r="1.65"/>
<circle cx="202.8" cy="60.1" r="1.65"/>
<circle cx="196.9" cy="58.3" r="1.65"/>
<circle cx="195.3" cy="65.6" r="1.65"/>
<circle cx="211.2" cy="48.7" r="1.65"/>
<circle cx="197.1" cy="65.9" r="1.65"/>
<circle cx="196.6" cy="66.9" r="1.65"/>
<circle cx="200.8" cy="50.7" r="1.65"/>
<circle cx="200.4" cy="54.7" r="1.65"/>
<circle cx="206.7" cy="52.5" r="1.65"/>
<circle cx="203.9" cy="61.2" r="1.65"/>
<circle cx="197.2" cy="64.8" r="1.65"/>
<circle cx="208.4" cy="57.1" r="1.65"/>
<circle cx="204.8" cy="51.0" r="1.65"/>
<circle cx="206.7" cy="56.2" r="1.65"/>
<circle cx="209.2" cy="44.7" r="1.65"/>
<circle cx="196.9" cy="60.9" r="1.65"/>
<circle cx="201.2" cy="62.5" r="1.65"/>
<circle cx="209.5" cy="58.0" r="1.65"/>
<circle cx="210.7" cy="48.7" r="1.65"/>
<circle cx="212.5" cy="45.2" r="1.65"/>
<circle cx="197.5" cy="61.3" r="1.65"/>
<circle cx="199.8" cy="57.3" r="1.65"/>
<circle cx="211.6" cy="46.6" r="1.65"/>
<circle cx="210.3" cy="45.1" r="1.65"/>
<circle cx="195.1" cy="57.9" r="1.65"/>
<circle cx="208.6" cy="52.6" r="1.65"/>
<circle cx="199.5" cy="57.3" r="1.65"/>
<circle cx="202.9" cy="51.2" r="1.65"/>
<circle cx="194.4" cy="63.6" r="1.65"/>
<circle cx="205.3" cy="55.3" r="1.65"/>
<circle cx="210.9" cy="44.3" r="1.65"/>
<circle cx="212.3" cy="48.3" r="1.65"/>
<circle cx="201.8" cy="59.3" r="1.65"/>
<circle cx="210.7" cy="57.6" r="1.65"/>
<circle cx="200.2" cy="60.0" r="1.65"/>
<circle cx="194.4" cy="62.9" r="1.65"/>
<circle cx="202.6" cy="46.1" r="1.65"/>
<circle cx="205.9" cy="52.2" r="1.65"/>
<circle cx="207.2" cy="48.9" r="1.65"/>
<circle cx="199.5" cy="60.6" r="1.65"/>
<circle cx="204.0" cy="49.1" r="1.65"/>
<circle cx="194.2" cy="68.1" r="1.65"/>
<circle cx="209.8" cy="47.5" r="1.65"/>
<circle cx="201.2" cy="47.5" r="1.65"/>
<circle cx="203.7" cy="55.5" r="1.65"/>
<circle cx="195.4" cy="64.6" r="1.65"/>
<circle cx="204.4" cy="53.4" r="1.65"/>
<circle cx="211.2" cy="48.4" r="1.65"/>
<circle cx="208.5" cy="48.3" r="1.65"/>
<circle cx="204.3" cy="50.8" r="1.65"/>
<circle cx="199.1" cy="57.1" r="1.65"/>
<circle cx="196.7" cy="62.8" r="1.65"/>
<circle cx="202.5" cy="64.4" r="1.65"/>
<circle cx="205.0" cy="40.1" r="1.65"/>
<circle cx="202.2" cy="49.9" r="1.65"/>
<circle cx="205.6" cy="51.5" r="1.65"/>
<circle cx="207.9" cy="44.4" r="1.65"/>
<circle cx="212.1" cy="52.2" r="1.65"/>
<circle cx="212.1" cy="43.6" r="1.65"/>
<circle cx="206.3" cy="52.5" r="1.65"/>
<circle cx="206.0" cy="51.0" r="1.65"/>
<circle cx="207.2" cy="51.1" r="1.65"/>
<circle cx="212.6" cy="40.1" r="1.65"/>
<circle cx="212.8" cy="45.4" r="1.65"/>
<circle cx="203.0" cy="58.4" r="1.65"/>
<circle cx="198.9" cy="62.1" r="1.65"/>
<circle cx="206.4" cy="52.6" r="1.65"/>
<circle cx="211.2" cy="52.4" r="1.65"/>
<circle cx="212.1" cy="49.3" r="1.65"/>
<circle cx="205.4" cy="54.1" r="1.65"/>
<circle cx="195.6" cy="61.4" r="1.65"/>
<circle cx="209.4" cy="53.5" r="1.65"/>
<circle cx="211.3" cy="41.5" r="1.65"/>
<circle cx="200.9" cy="61.6" r="1.65"/>
<circle cx="203.7" cy="60.3" r="1.65"/>
<circle cx="212.5" cy="53.5" r="1.65"/>
<circle cx="208.6" cy="47.5" r="1.65"/>
<circle cx="197.8" cy="59.4" r="1.65"/>
<circle cx="195.4" cy="60.5" r="1.65"/>
<circle cx="212.1" cy="49.8" r="1.65"/>
<circle cx="211.3" cy="49.2" r="1.65"/>
<circle cx="196.7" cy="60.6" r="1.65"/>
<circle cx="209.8" cy="42.8" r="1.65"/>
<circle cx="204.1" cy="55.2" r="1.65"/>
<circle cx="208.8" cy="48.2" r="1.65"/>
<circle cx="199.7" cy="59.1" r="1.65"/>
<circle cx="195.6" cy="62.0" r="1.65"/>
<circle cx="211.9" cy="59.3" r="1.65"/>
<circle cx="208.7" cy="51.5" r="1.65"/>
<circle cx="196.4" cy="65.2" r="1.65"/>
<circle cx="212.7" cy="45.8" r="1.65"/>
<circle cx="202.6" cy="53.8" r="1.65"/>
<circle cx="197.3" cy="53.4" r="1.65"/>
<circle cx="198.4" cy="63.4" r="1.65"/>
<circle cx="204.2" cy="60.5" r="1.65"/>
<circle cx="207.9" cy="49.4" r="1.65"/>
<circle cx="209.2" cy="50.2" r="1.65"/>
<circle cx="196.7" cy="64.8" r="1.65"/>
<circle cx="202.5" cy="43.1" r="1.65"/>
<circle cx="205.1" cy="49.3" r="1.65"/>
<circle cx="203.7" cy="56.7" r="1.65"/>
<circle cx="196.2" cy="64.1" r="1.65"/>
<circle cx="207.9" cy="52.7" r="1.65"/>
<circle cx="208.2" cy="48.2" r="1.65"/>
<circle cx="210.4" cy="46.0" r="1.65"/>
<circle cx="206.8" cy="52.5" r="1.65"/>
<circle cx="203.2" cy="60.0" r="1.65"/>
<circle cx="198.0" cy="55.0" r="1.65"/>
<circle cx="204.8" cy="49.6" r="1.65"/>
<circle cx="207.4" cy="50.9" r="1.65"/>
<circle cx="198.1" cy="66.6" r="1.65"/>
<circle cx="206.4" cy="47.4" r="1.65"/>
<circle cx="196.3" cy="67.2" r="1.65"/>
<circle cx="230.0" cy="35.5" r="1.65"/>
<circle cx="216.8" cy="49.9" r="1.65"/>
<circle cx="229.0" cy="38.5" r="1.65"/>
<circle cx="234.4" cy="33.7" r="1.65"/>
<circle cx="217.3" cy="51.2" r="1.65"/>
<circle cx="228.9" cy="43.2" r="1.65"/>
<circle cx="224.8" cy="36.4" r="1.65"/>
<circle cx="234.6" cy="37.3" r="1.65"/>
<circle cx="214.9" cy="52.9" r="1.65"/>
<circle cx="217.9" cy="44.7" r="1.65"/>
<circle cx="229.8" cy="44.8" r="1.65"/>
<circle cx="217.9" cy="48.1" r="1.65"/>
<circle cx="225.3" cy="46.9" r="1.65"/>
<circle cx="231.2" cy="36.5" r="1.65"/>
<circle cx="215.3" cy="47.6" r="1.65"/>
<circle cx="227.1" cy="32.1" r="1.65"/>
<circle cx="216.9" cy="42.0" r="1.65"/>
<circle cx="213.8" cy="59.8" r="1.65"/>
<circle cx="234.2" cy="29.8" r="1.65"/>
<circle cx="226.0" cy="36.6" r="1.65"/>
<circle cx="227.4" cy="45.2" r="1.65"/>
<circle cx="232.1" cy="39.1" r="1.65"/>
<circle cx="225.8" cy="40.4" r="1.65"/>
<circle cx="221.6" cy="46.5" r="1.65"/>
<circle cx="232.4" cy="27.9" r="1.65"/>
<circle cx="221.0" cy="56.6" r="1.65"/>
<circle cx="212.6" cy="51.5" r="1.65"/>
<circle cx="226.7" cy="36.8" r="1.65"/>
<circle cx="231.6" cy="39.1" r="1.65"/>
<circle cx="233.9" cy="34.6" r="1.65"/>
<circle cx="215.5" cy="47.5" r="1.65"/>
<circle cx="212.8" cy="46.8" r="1.65"/>
<circle cx="216.3" cy="47.5" r="1.65"/>
<circle cx="212.6" cy="50.6" r="1.65"/>
<circle cx="215.8" cy="46.9" r="1.65"/>
<circle cx="212.7" cy="55.6" r="1.65"/>
<circle cx="230.0" cy="35.3" r="1.65"/>
<circle cx="214.2" cy="57.0" r="1.65"/>
<circle cx="220.4" cy="46.5" r="1.65"/>
<circle cx="231.4" cy="37.1" r="1.65"/>
<circle cx="217.3" cy="44.3" r="1.65"/>
<circle cx="231.6" cy="35.8" r="1.65"/>
<circle cx="226.7" cy="34.0" r="1.65"/>
<circle cx="228.1" cy="41.4" r="1.65"/>
<circle cx="216.9" cy="46.5" r="1.65"/>
<circle cx="231.8" cy="27.9" r="1.65"/>
<circle cx="214.7" cy="46.1" r="1.65"/>
<circle cx="224.1" cy="39.0" r="1.65"/>
<circle cx="213.9" cy="49.1" r="1.65"/>
<circle cx="220.4" cy="43.7" r="1.65"/>
<circle cx="217.4" cy="48.0" r="1.65"/>
<circle cx="219.1" cy="43.3" r="1.65"/>
<circle cx="228.8" cy="42.1" r="1.65"/>
<circle cx="213.2" cy="56.1" r="1.65"/>
<circle cx="212.5" cy="52.6" r="1.65"/>
<circle cx="233.0" cy="45.4" r="1.65"/>
<circle cx="225.9" cy="40.5" r="1.65"/>
<circle cx="219.4" cy="40.6" r="1.65"/>
<circle cx="230.9" cy="28.1" r="1.65"/>
<circle cx="228.4" cy="38.4" r="1.65"/>
<circle cx="220.3" cy="40.4" r="1.65"/>
<circle cx="221.8" cy="51.8" r="1.65"/>
<circle cx="212.9" cy="48.8" r="1.65"/>
<circle cx="211.8" cy="52.2" r="1.65"/>
<circle cx="212.5" cy="57.2" r="1.65"/>
<circle cx="211.9" cy="56.6" r="1.65"/>
<circle cx="223.2" cy="51.4" r="1.65"/>
<circle cx="213.1" cy="54.2" r="1.65"/>
<circle cx="217.8" cy="55.1" r="1.65"/>
<circle cx="228.8" cy="32.1" r="1.65"/>
<circle cx="220.7" cy="47.1" r="1.65"/>
<circle cx="235.2" cy="30.3" r="1.65"/>
<circle cx="212.4" cy="46.4" r="1.65"/>
<circle cx="232.5" cy="29.7" r="1.65"/>
<circle cx="212.5" cy="56.7" r="1.65"/>
<circle cx="225.2" cy="39.2" r="1.65"/>
<circle cx="217.8" cy="45.6" r="1.65"/>
<circle cx="220.2" cy="41.1" r="1.65"/>
<circle cx="219.0" cy="48.0" r="1.65"/>
<circle cx="229.3" cy="32.6" r="1.65"/>
<circle cx="214.5" cy="45.9" r="1.65"/>
<circle cx="225.4" cy="39.5" r="1.65"/>
<circle cx="230.5" cy="42.0" r="1.65"/>
<circle cx="219.6" cy="56.2" r="1.65"/>
<circle cx="220.2" cy="55.2" r="1.65"/>
<circle cx="217.6" cy="45.8" r="1.65"/>
<circle cx="228.6" cy="36.5" r="1.65"/>
<circle cx="218.6" cy="47.8" r="1.65"/>
<circle cx="218.4" cy="48.4" r="1.65"/>
<circle cx="220.6" cy="41.5" r="1.65"/>
<circle cx="212.3" cy="51.0" r="1.65"/>
<circle cx="215.7" cy="56.9" r="1.65"/>
<circle cx="223.6" cy="37.6" r="1.65"/>
<circle cx="225.3" cy="35.4" r="1.65"/>
<circle cx="215.7" cy="46.1" r="1.65"/>
<circle cx="223.7" cy="39.7" r="1.65"/>
<circle cx="234.7" cy="38.2" r="1.65"/>
<circle cx="227.8" cy="42.7" r="1.65"/>
<circle cx="226.4" cy="37.0" r="1.65"/>
<circle cx="222.5" cy="41.6" r="1.65"/>
<circle cx="227.5" cy="41.5" r="1.65"/>
<circle cx="221.7" cy="45.3" r="1.65"/>
<circle cx="223.1" cy="40.9" r="1.65"/>
<circle cx="214.9" cy="51.2" r="1.65"/>
<circle cx="223.6" cy="41.3" r="1.65"/>
<circle cx="230.7" cy="33.0" r="1.65"/>
<circle cx="222.0" cy="47.8" r="1.65"/>
<circle cx="231.8" cy="35.7" r="1.65"/>
<circle cx="216.5" cy="44.9" r="1.65"/>
<circle cx="214.5" cy="50.9" r="1.65"/>
<circle cx="232.9" cy="30.8" r="1.65"/>
<circle cx="226.0" cy="38.0" r="1.65"/>
<circle cx="222.4" cy="45.3" r="1.65"/>
<circle cx="221.7" cy="45.0" r="1.65"/>
<circle cx="224.1" cy="45.7" r="1.65"/>
<circle cx="217.1" cy="45.4" r="1.65"/>
<circle cx="226.2" cy="36.3" r="1.65"/>
<circle cx="227.8" cy="35.5" r="1.65"/>
<circle cx="217.4" cy="42.5" r="1.65"/>
<circle cx="214.5" cy="49.0" r="1.65"/>
<circle cx="219.6" cy="47.6" r="1.65"/>
<circle cx="228.2" cy="39.2" r="1.65"/>
<circle cx="212.3" cy="54.8" r="1.65"/>
<circle cx="234.4" cy="28.4" r="1.65"/>
<circle cx="233.8" cy="34.4" r="1.65"/>
<circle cx="230.3" cy="33.0" r="1.65"/>
<circle cx="214.2" cy="53.7" r="1.65"/>
<circle cx="226.3" cy="42.1" r="1.65"/>
<circle cx="232.5" cy="35.5" r="1.65"/>
<circle cx="214.5" cy="55.4" r="1.65"/>
<circle cx="219.7" cy="55.1" r="1.65"/>
<circle cx="211.8" cy="57.0" r="1.65"/>
<circle cx="234.4" cy="32.6" r="1.65"/>
<circle cx="214.6" cy="46.2" r="1.65"/>
<circle cx="214.3" cy="50.9" r="1.65"/>
<circle cx="217.2" cy="48.1" r="1.65"/>
<circle cx="214.9" cy="49.8" r="1.65"/>
<circle cx="225.1" cy="34.7" r="1.65"/>
<circle cx="224.0" cy="40.0" r="1.65"/>
<circle cx="231.9" cy="28.8" r="1.65"/>
<circle cx="229.1" cy="33.2" r="1.65"/>
<circle cx="233.3" cy="30.7" r="1.65"/>
<circle cx="233.7" cy="35.8" r="1.65"/>
<circle cx="222.7" cy="42.1" r="1.65"/>
<circle cx="221.4" cy="44.9" r="1.65"/>
<circle cx="224.2" cy="40.6" r="1.65"/>
<circle cx="222.7" cy="46.7" r="1.65"/>
<circle cx="215.2" cy="45.5" r="1.65"/>
<circle cx="222.8" cy="46.9" r="1.65"/>
<circle cx="225.7" cy="38.6" r="1.65"/>
<circle cx="218.7" cy="48.8" r="1.65"/>
<circle cx="226.9" cy="38.4" r="1.65"/>
<circle cx="213.0" cy="52.6" r="1.65"/>
<circle cx="229.4" cy="35.5" r="1.65"/>
<circle cx="212.1" cy="47.8" r="1.65"/>
<circle cx="219.6" cy="46.6" r="1.65"/>
<circle cx="220.4" cy="42.5" r="1.65"/>
<circle cx="213.1" cy="65.6" r="1.65"/>
<circle cx="225.6" cy="37.8" r="1.65"/>
<circle cx="215.7" cy="60.7" r="1.65"/>
<circle cx="229.3" cy="35.4" r="1.65"/>
<circle cx="223.2" cy="38.3" r="1.65"/>
<circle cx="234.1" cy="46.3" r="1.65"/>
<circle cx="218.7" cy="46.7" r="1.65"/>
<circle cx="223.3" cy="39.6" r="1.65"/>
<circle cx="220.6" cy="43.1" r="1.65"/>
<circle cx="218.9" cy="44.4" r="1.65"/>
<circle cx="220.8" cy="51.2" r="1.65"/>
<circle cx="225.3" cy="38.9" r="1.65"/>
<circle cx="217.0" cy="47.3" r="1.65"/>
<circle cx="220.5" cy="47.1" r="1.65"/>
<circle cx="218.9" cy="46.4" r="1.65"/>
<circle cx="228.4" cy="38.4" r="1.65"/>
<circle cx="214.5" cy="44.5" r="1.65"/>
<circle cx="228.0" cy="36.5" r="1.65"/>
<circle cx="234.7" cy="27.3" r="1.65"/>
<circle cx="233.6" cy="31.9" r="1.65"/>
<circle cx="230.1" cy="35.6" r="1.65"/>
<circle cx="222.9" cy="45.4" r="1.65"/>
<circle cx="223.8" cy="44.8" r="1.65"/>
<circle cx="222.4" cy="42.6" r="1.65"/>
<circle cx="214.1" cy="47.0" r="1.65"/>
<circle cx="215.7" cy="44.8" r="1.65"/>
<circle cx="225.5" cy="44.8" r="1.65"/>
<circle cx="211.8" cy="48.9" r="1.65"/>
<circle cx="222.4" cy="39.4" r="1.65"/>
<circle cx="215.2" cy="44.9" r="1.65"/>
<circle cx="232.7" cy="37.9" r="1.65"/>
<circle cx="219.8" cy="45.6" r="1.65"/>
<circle cx="214.2" cy="49.5" r="1.65"/>
<circle cx="213.2" cy="48.8" r="1.65"/>
<circle cx="232.7" cy="33.6" r="1.65"/>
<circle cx="231.1" cy="40.0" r="1.65"/>
<circle cx="217.0" cy="57.9" r="1.65"/>
<circle cx="219.5" cy="43.7" r="1.65"/>
<circle cx="224.4" cy="43.8" r="1.65"/>
<circle cx="225.9" cy="39.2" r="1.65"/>
<circle cx="223.5" cy="35.2" r="1.65"/>
<circle cx="229.9" cy="35.7" r="1.65"/>
<circle cx="220.5" cy="42.9" r="1.65"/>
<circle cx="227.1" cy="33.2" r="1.65"/>
<circle cx="234.4" cy="34.9" r="1.65"/>
<circle cx="217.6" cy="46.8" r="1.65"/>
<circle cx="214.6" cy="48.3" r="1.65"/>
<circle cx="213.5" cy="57.3" r="1.65"/>
<circle cx="224.3" cy="42.4" r="1.65"/>
<circle cx="214.7" cy="48.2" r="1.65"/>
<circle cx="221.1" cy="44.2" r="1.65"/>
<circle cx="224.7" cy="35.4" r="1.65"/>
<circle cx="229.7" cy="32.5" r="1.65"/>
<circle cx="226.1" cy="38.2" r="1.65"/>
<circle cx="225.7" cy="43.5" r="1.65"/>
<circle cx="218.9" cy="54.2" r="1.65"/>
<circle cx="218.4" cy="52.0" r="1.65"/>
<circle cx="234.8" cy="32.1" r="1.65"/>
<circle cx="227.2" cy="42.1" r="1.65"/>
<circle cx="232.6" cy="33.2" r="1.65"/>
<circle cx="226.4" cy="33.3" r="1.65"/>
<circle cx="223.0" cy="45.7" r="1.65"/>
<circle cx="233.9" cy="38.9" r="1.65"/>
<circle cx="232.8" cy="41.0" r="1.65"/>
<circle cx="212.7" cy="54.3" r="1.65"/>
<circle cx="213.2" cy="58.1" r="1.65"/>
<circle cx="217.1" cy="48.9" r="1.65"/>
<circle cx="234.8" cy="32.0" r="1.65"/>
<circle cx="213.9" cy="55.1" r="1.65"/>
<circle cx="228.1" cy="49.7" r="1.65"/>
<circle cx="222.2" cy="40.3" r="1.65"/>
<circle cx="228.8" cy="37.2" r="1.65"/>
<circle cx="213.8" cy="59.7" r="1.65"/>
<circle cx="221.6" cy="37.3" r="1.65"/>
<circle cx="225.0" cy="31.7" r="1.65"/>
<circle cx="224.3" cy="33.3" r="1.65"/>
<circle cx="214.8" cy="41.9" r="1.65"/>
<circle cx="225.8" cy="29.9" r="1.65"/>
<circle cx="214.1" cy="44.4" r="1.65"/>
<circle cx="218.6" cy="40.5" r="1.65"/>
<circle cx="219.8" cy="38.2" r="1.65"/>
<circle cx="224.3" cy="31.0" r="1.65"/>
<circle cx="218.0" cy="35.3" r="1.65"/>
<circle cx="220.9" cy="29.3" r="1.65"/>
<circle cx="221.0" cy="37.1" r="1.65"/>
<circle cx="223.2" cy="28.1" r="1.65"/>
<circle cx="222.0" cy="34.5" r="1.65"/>
<circle cx="221.4" cy="32.1" r="1.65"/>
<circle cx="223.7" cy="33.6" r="1.65"/>
<circle cx="217.3" cy="37.2" r="1.65"/>
<circle cx="220.7" cy="38.3" r="1.65"/>
<circle cx="218.6" cy="41.5" r="1.65"/>
<circle cx="219.6" cy="34.1" r="1.65"/>
<circle cx="226.3" cy="29.6" r="1.65"/>
<circle cx="214.3" cy="39.7" r="1.65"/>
<circle cx="220.4" cy="40.2" r="1.65"/>
<circle cx="215.7" cy="39.1" r="1.65"/>
<circle cx="222.3" cy="40.7" r="1.65"/>
<circle cx="220.4" cy="32.6" r="1.65"/>
<circle cx="224.6" cy="32.8" r="1.65"/>
<circle cx="218.8" cy="37.3" r="1.65"/>
<circle cx="220.1" cy="37.9" r="1.65"/>
<circle cx="217.0" cy="40.7" r="1.65"/>
<circle cx="223.8" cy="32.0" r="1.65"/>
<circle cx="216.1" cy="38.6" r="1.65"/>
<circle cx="216.4" cy="40.1" r="1.65"/>
<circle cx="217.9" cy="40.6" r="1.65"/>
<circle cx="214.9" cy="42.1" r="1.65"/>
<circle cx="225.8" cy="30.5" r="1.65"/>
<circle cx="220.3" cy="34.8" r="1.65"/>
<circle cx="225.0" cy="29.1" r="1.65"/>
<circle cx="214.8" cy="41.8" r="1.65"/>
<circle cx="223.0" cy="33.8" r="1.65"/>
<circle cx="221.3" cy="32.5" r="1.65"/>
<circle cx="215.1" cy="39.3" r="1.65"/>
<circle cx="226.6" cy="28.8" r="1.65"/>
<circle cx="223.8" cy="31.3" r="1.65"/>
<circle cx="219.1" cy="36.2" r="1.65"/>
<circle cx="215.6" cy="36.9" r="1.65"/>
<circle cx="218.3" cy="36.9" r="1.65"/>
<circle cx="220.7" cy="35.4" r="1.65"/>
<circle cx="217.7" cy="38.5" r="1.65"/>
<circle cx="218.7" cy="38.9" r="1.65"/>
<circle cx="238.7" cy="42.9" r="1.65"/>
<circle cx="229.7" cy="41.4" r="1.65"/>
<circle cx="218.5" cy="50.1" r="1.65"/>
<circle cx="236.6" cy="48.7" r="1.65"/>
<circle cx="221.0" cy="64.5" r="1.65"/>
<circle cx="239.3" cy="37.4" r="1.65"/>
<circle cx="233.8" cy="37.3" r="1.65"/>
<circle cx="222.6" cy="46.4" r="1.65"/>
<circle cx="220.0" cy="65.7" r="1.65"/>
<circle cx="218.1" cy="61.0" r="1.65"/>
<circle cx="234.2" cy="45.7" r="1.65"/>
<circle cx="231.0" cy="42.3" r="1.65"/>
<circle cx="238.2" cy="43.9" r="1.65"/>
<circle cx="216.3" cy="62.6" r="1.65"/>
<circle cx="232.9" cy="50.6" r="1.65"/>
<circle cx="226.4" cy="41.4" r="1.65"/>
<circle cx="232.3" cy="40.4" r="1.65"/>
<circle cx="216.1" cy="63.8" r="1.65"/>
<circle cx="233.4" cy="32.3" r="1.65"/>
<circle cx="215.9" cy="61.0" r="1.65"/>
<circle cx="224.2" cy="45.8" r="1.65"/>
<circle cx="220.5" cy="46.6" r="1.65"/>
<circle cx="217.5" cy="67.7" r="1.65"/>
<circle cx="229.3" cy="37.6" r="1.65"/>
<circle cx="218.7" cy="55.2" r="1.65"/>
<circle cx="221.7" cy="63.2" r="1.65"/>
<circle cx="231.1" cy="44.8" r="1.65"/>
<circle cx="238.8" cy="47.2" r="1.65"/>
<circle cx="237.1" cy="31.1" r="1.65"/>
<circle cx="240.3" cy="32.3" r="1.65"/>
<circle cx="226.0" cy="50.4" r="1.65"/>
<circle cx="243.2" cy="33.0" r="1.65"/>
<circle cx="223.5" cy="49.4" r="1.65"/>
<circle cx="217.6" cy="62.5" r="1.65"/>
<circle cx="237.1" cy="34.0" r="1.65"/>
<circle cx="226.9" cy="37.9" r="1.65"/>
<circle cx="220.1" cy="46.4" r="1.65"/>
<circle cx="232.7" cy="34.4" r="1.65"/>
<circle cx="222.3" cy="62.9" r="1.65"/>
<circle cx="234.0" cy="42.8" r="1.65"/>
<circle cx="216.3" cy="58.8" r="1.65"/>
<circle cx="217.3" cy="54.2" r="1.65"/>
<circle cx="223.2" cy="61.1" r="1.65"/>
<circle cx="234.1" cy="40.9" r="1.65"/>
<circle cx="228.4" cy="36.6" r="1.65"/>
<circle cx="237.4" cy="45.9" r="1.65"/>
<circle cx="217.3" cy="58.9" r="1.65"/>
<circle cx="226.2" cy="50.6" r="1.65"/>
<circle cx="237.3" cy="38.9" r="1.65"/>
<circle cx="237.2" cy="34.5" r="1.65"/>
<circle cx="231.4" cy="56.6" r="1.65"/>
<circle cx="239.2" cy="36.4" r="1.65"/>
<circle cx="238.6" cy="43.3" r="1.65"/>
<circle cx="231.6" cy="45.5" r="1.65"/>
<circle cx="240.4" cy="46.7" r="1.65"/>
<circle cx="228.1" cy="43.0" r="1.65"/>
<circle cx="236.8" cy="48.1" r="1.65"/>
<circle cx="232.4" cy="41.8" r="1.65"/>
<circle cx="237.6" cy="49.5" r="1.65"/>
<circle cx="231.8" cy="46.0" r="1.65"/>
<circle cx="226.7" cy="41.9" r="1.65"/>
<circle cx="218.6" cy="61.8" r="1.65"/>
<circle cx="220.0" cy="65.3" r="1.65"/>
<circle cx="234.4" cy="36.7" r="1.65"/>
<circle cx="217.3" cy="60.8" r="1.65"/>
<circle cx="223.4" cy="52.2" r="1.65"/>
<circle cx="230.1" cy="51.6" r="1.65"/>
<circle cx="230.6" cy="41.9" r="1.65"/>
<circle cx="223.0" cy="51.0" r="1.65"/>
<circle cx="227.8" cy="50.7" r="1.65"/>
<circle cx="223.6" cy="42.2" r="1.65"/>
<circle cx="239.6" cy="31.9" r="1.65"/>
<circle cx="221.9" cy="54.6" r="1.65"/>
<circle cx="223.5" cy="60.9" r="1.65"/>
<circle cx="233.9" cy="43.9" r="1.65"/>
<circle cx="233.5" cy="36.8" r="1.65"/>
<circle cx="216.3" cy="66.7" r="1.65"/>
<circle cx="222.8" cy="51.9" r="1.65"/>
<circle cx="220.2" cy="55.5" r="1.65"/>
<circle cx="232.4" cy="42.4" r="1.65"/>
<circle cx="231.4" cy="46.2" r="1.65"/>
<circle cx="233.9" cy="33.6" r="1.65"/>
<circle cx="236.5" cy="39.5" r="1.65"/>
<circle cx="222.9" cy="53.9" r="1.65"/>
<circle cx="229.8" cy="47.2" r="1.65"/>
<circle cx="215.8" cy="47.9" r="1.65"/>
<circle cx="218.6" cy="53.2" r="1.65"/>
<circle cx="223.6" cy="65.1" r="1.65"/>
<circle cx="222.2" cy="45.7" r="1.65"/>
<circle cx="219.1" cy="69.1" r="1.65"/>
<circle cx="237.8" cy="44.4" r="1.65"/>
<circle cx="218.9" cy="59.5" r="1.65"/>
<circle cx="235.3" cy="44.3" r="1.65"/>
<circle cx="221.8" cy="44.5" r="1.65"/>
<circle cx="224.8" cy="39.3" r="1.65"/>
<circle cx="222.4" cy="57.7" r="1.65"/>
<circle cx="220.3" cy="51.7" r="1.65"/>
<circle cx="227.4" cy="49.9" r="1.65"/>
<circle cx="229.1" cy="37.1" r="1.65"/>
<circle cx="238.1" cy="39.5" r="1.65"/>
<circle cx="219.4" cy="53.2" r="1.65"/>
<circle cx="217.9" cy="53.7" r="1.65"/>
<circle cx="226.2" cy="45.6" r="1.65"/>
<circle cx="230.9" cy="38.8" r="1.65"/>
<circle cx="216.8" cy="62.2" r="1.65"/>
<circle cx="243.1" cy="37.7" r="1.65"/>
<circle cx="242.5" cy="30.9" r="1.65"/>
<circle cx="228.3" cy="51.6" r="1.65"/>
<circle cx="235.4" cy="42.0" r="1.65"/>
<circle cx="225.5" cy="49.4" r="1.65"/>
<circle cx="224.1" cy="53.8" r="1.65"/>
<circle cx="229.3" cy="51.7" r="1.65"/>
<circle cx="240.7" cy="34.0" r="1.65"/>
<circle cx="238.9" cy="40.9" r="1.65"/>
<circle cx="218.1" cy="54.8" r="1.65"/>
<circle cx="233.6" cy="50.4" r="1.65"/>
<circle cx="220.3" cy="59.3" r="1.65"/>
<circle cx="218.1" cy="63.2" r="1.65"/>
<circle cx="230.2" cy="45.0" r="1.65"/>
<circle cx="226.0" cy="44.3" r="1.65"/>
<circle cx="60.7" cy="185.5" r="1.65"/>
<circle cx="69.5" cy="168.8" r="1.65"/>
<circle cx="76.2" cy="167.5" r="1.65"/>
<circle cx="86.4" cy="161.6" r="1.65"/>
<circle cx="90.9" cy="139.3" r="1.65"/>
<circle cx="113.7" cy="115.4" r="1.65"/>
<circle cx="157.9" cy="83.8" r="1.65"/>
<circle cx="155.2" cy="89.6" r="1.65"/>
<circle cx="179.8" cy="106.1" r="1.65"/>
<circle cx="174.2" cy="105.6" r="1.65"/>
<circle cx="198.8" cy="89.6" r="1.65"/>
<circle cx="201.5" cy="84.9" r="1.65"/>
<circle cx="204.2" cy="84.1" r="1.65"/>
<circle cx="243.8" cy="41.3" r="1.65"/>
<circle cx="240.6" cy="57.8" r="1.65"/>
<circle cx="243.0" cy="35.7" r="1.65"/>
<circle cx="241.4" cy="30.1" r="1.65"/>
<circle cx="222.1" cy="61.2" r="1.65"/>
<circle cx="231.5" cy="61.8" r="1.65"/>
<circle cx="227.5" cy="57.0" r="1.65"/>
<circle cx="202.0" cy="75.0" r="1.65"/>
<circle cx="209.0" cy="70.3" r="1.65"/>
<circle cx="203.7" cy="84.3" r="1.65"/>
<circle cx="201.2" cy="86.2" r="1.65"/>
<circle cx="240.6" cy="57.0" r="1.65"/>
</g>
<g clip-path="url(#c28)"><line x1="61.7" y1="199.1" x2="235.5" y2="27.2" stroke="#ff0000" stroke-width="1.5"/></g>
<rect x="28" y="6.5" width="227.6" height="225.8" fill="none" stroke="#d4d4d4" stroke-width="1"/>
<line x1="28.00" y1="232.3" x2="28.00" y2="233.9" stroke="#444" stroke-width="0.8"/>
<text x="28.00" y="244.7" font-size="12" style="stroke-width:0.12px" text-anchor="middle">0</text>
<line x1="81.55" y1="232.3" x2="81.55" y2="233.9" stroke="#444" stroke-width="0.8"/>
<text x="81.55" y="244.7" font-size="12" style="stroke-width:0.12px" text-anchor="middle">2</text>
<line x1="135.11" y1="232.3" x2="135.11" y2="233.9" stroke="#444" stroke-width="0.8"/>
<text x="135.11" y="244.7" font-size="12" style="stroke-width:0.12px" text-anchor="middle">4</text>
<line x1="188.66" y1="232.3" x2="188.66" y2="233.9" stroke="#444" stroke-width="0.8"/>
<text x="188.66" y="244.7" font-size="12" style="stroke-width:0.12px" text-anchor="middle">6</text>
<line x1="242.21" y1="232.3" x2="242.21" y2="233.9" stroke="#444" stroke-width="0.8"/>
<text x="242.21" y="244.7" font-size="12" style="stroke-width:0.12px" text-anchor="middle">8</text>
<line x1="26.4" y1="232.30" x2="28" y2="232.30" stroke="#444" stroke-width="0.8"/>
<text x="24.4" y="236.40" font-size="11.8" style="stroke-width:0.12px" text-anchor="end">0</text>
<line x1="26.4" y1="205.74" x2="28" y2="205.74" stroke="#444" stroke-width="0.8"/>
<text x="24.4" y="209.84" font-size="11.8" style="stroke-width:0.12px" text-anchor="end">1</text>
<line x1="26.4" y1="179.17" x2="28" y2="179.17" stroke="#444" stroke-width="0.8"/>
<text x="24.4" y="183.27" font-size="11.8" style="stroke-width:0.12px" text-anchor="end">2</text>
<line x1="26.4" y1="152.61" x2="28" y2="152.61" stroke="#444" stroke-width="0.8"/>
<text x="24.4" y="156.71" font-size="11.8" style="stroke-width:0.12px" text-anchor="end">3</text>
<line x1="26.4" y1="126.04" x2="28" y2="126.04" stroke="#444" stroke-width="0.8"/>
<text x="24.4" y="130.14" font-size="11.8" style="stroke-width:0.12px" text-anchor="end">4</text>
<line x1="26.4" y1="99.48" x2="28" y2="99.48" stroke="#444" stroke-width="0.8"/>
<text x="24.4" y="103.58" font-size="11.8" style="stroke-width:0.12px" text-anchor="end">5</text>
<line x1="26.4" y1="72.91" x2="28" y2="72.91" stroke="#444" stroke-width="0.8"/>
<text x="24.4" y="77.01" font-size="11.8" style="stroke-width:0.12px" text-anchor="end">6</text>
<line x1="26.4" y1="46.35" x2="28" y2="46.35" stroke="#444" stroke-width="0.8"/>
<text x="24.4" y="50.45" font-size="11.8" style="stroke-width:0.12px" text-anchor="end">7</text>
<line x1="26.4" y1="19.78" x2="28" y2="19.78" stroke="#444" stroke-width="0.8"/>
<text x="24.4" y="23.88" font-size="11.8" style="stroke-width:0.12px" text-anchor="end">8</text>
<text x="142" y="257.4" font-size="12.65" text-anchor="middle">Ground Truth in m</text>
<text transform="translate(13.8,119.4) rotate(-90)" font-size="12.5" text-anchor="middle">Prediction in m</text>
<text y="282.9" font-size="12.2" fill="#111" style="stroke:none"><tspan x="95" font-weight="bold" textLength="12.3" lengthAdjust="spacingAndGlyphs">(a)</tspan> <tspan x="110.4" textLength="92.6" lengthAdjust="spacingAndGlyphs">Real environment</tspan></text>
<line x1="369.93" y1="6.5" x2="369.93" y2="232.3" stroke="#f5f5f5" stroke-width="0.7"/>
<line x1="423.46" y1="6.5" x2="423.46" y2="232.3" stroke="#f5f5f5" stroke-width="0.7"/>
<line x1="476.99" y1="6.5" x2="476.99" y2="232.3" stroke="#f5f5f5" stroke-width="0.7"/>
<line x1="530.52" y1="6.5" x2="530.52" y2="232.3" stroke="#f5f5f5" stroke-width="0.7"/>
<line x1="316.4" y1="205.74" x2="543.9" y2="205.74" stroke="#f5f5f5" stroke-width="0.7"/>
<line x1="316.4" y1="179.17" x2="543.9" y2="179.17" stroke="#f5f5f5" stroke-width="0.7"/>
<line x1="316.4" y1="152.61" x2="543.9" y2="152.61" stroke="#f5f5f5" stroke-width="0.7"/>
<line x1="316.4" y1="126.04" x2="543.9" y2="126.04" stroke="#f5f5f5" stroke-width="0.7"/>
<line x1="316.4" y1="99.48" x2="543.9" y2="99.48" stroke="#f5f5f5" stroke-width="0.7"/>
<line x1="316.4" y1="72.91" x2="543.9" y2="72.91" stroke="#f5f5f5" stroke-width="0.7"/>
<line x1="316.4" y1="46.35" x2="543.9" y2="46.35" stroke="#f5f5f5" stroke-width="0.7"/>
<line x1="316.4" y1="19.78" x2="543.9" y2="19.78" stroke="#f5f5f5" stroke-width="0.7"/>
<clipPath id="c316"><rect x="316.4" y="6.5" width="227.5" height="225.8"/></clipPath>
<g clip-path="url(#c316)" fill="#008000" fill-opacity="0.6">
<circle cx="342.1" cy="203.1" r="1.65"/>
<circle cx="324.6" cy="226.5" r="1.65"/>
<circle cx="329.6" cy="217.6" r="1.65"/>
<circle cx="341.3" cy="198.4" r="1.65"/>
<circle cx="336.1" cy="205.1" r="1.65"/>
<circle cx="338.7" cy="205.4" r="1.65"/>
<circle cx="340.4" cy="203.3" r="1.65"/>
<circle cx="324.9" cy="220.5" r="1.65"/>
<circle cx="339.2" cy="210.4" r="1.65"/>
<circle cx="337.7" cy="206.4" r="1.65"/>
<circle cx="322.9" cy="225.7" r="1.65"/>
<circle cx="325.4" cy="222.7" r="1.65"/>
<circle cx="331.9" cy="205.9" r="1.65"/>
<circle cx="330.5" cy="218.1" r="1.65"/>
<circle cx="324.3" cy="213.0" r="1.65"/>
<circle cx="331.4" cy="219.2" r="1.65"/>
<circle cx="338.8" cy="208.0" r="1.65"/>
<circle cx="330.3" cy="220.2" r="1.65"/>
<circle cx="342.9" cy="204.6" r="1.65"/>
<circle cx="330.4" cy="215.2" r="1.65"/>
<circle cx="324.0" cy="224.0" r="1.65"/>
<circle cx="338.1" cy="203.7" r="1.65"/>
<circle cx="333.5" cy="210.7" r="1.65"/>
<circle cx="330.2" cy="213.0" r="1.65"/>
<circle cx="339.5" cy="203.7" r="1.65"/>
<circle cx="325.6" cy="222.5" r="1.65"/>
<circle cx="331.7" cy="218.5" r="1.65"/>
<circle cx="336.3" cy="199.7" r="1.65"/>
<circle cx="341.4" cy="207.2" r="1.65"/>
<circle cx="330.5" cy="214.0" r="1.65"/>
<circle cx="338.7" cy="207.7" r="1.65"/>
<circle cx="325.2" cy="217.8" r="1.65"/>
<circle cx="329.0" cy="209.2" r="1.65"/>
<circle cx="325.6" cy="217.2" r="1.65"/>
<circle cx="330.0" cy="211.7" r="1.65"/>
<circle cx="336.7" cy="199.8" r="1.65"/>
<circle cx="332.9" cy="206.8" r="1.65"/>
<circle cx="342.7" cy="198.7" r="1.65"/>
<circle cx="333.6" cy="212.8" r="1.65"/>
<circle cx="325.4" cy="223.9" r="1.65"/>
<circle cx="327.0" cy="213.4" r="1.65"/>
<circle cx="340.8" cy="204.1" r="1.65"/>
<circle cx="329.5" cy="218.6" r="1.65"/>
<circle cx="338.0" cy="212.6" r="1.65"/>
<circle cx="337.7" cy="205.8" r="1.65"/>
<circle cx="324.7" cy="221.0" r="1.65"/>
<circle cx="339.9" cy="203.2" r="1.65"/>
<circle cx="335.8" cy="203.0" r="1.65"/>
<circle cx="328.9" cy="214.8" r="1.65"/>
<circle cx="330.4" cy="211.9" r="1.65"/>
<circle cx="329.1" cy="216.3" r="1.65"/>
<circle cx="325.9" cy="217.2" r="1.65"/>
<circle cx="326.8" cy="218.5" r="1.65"/>
<circle cx="338.6" cy="207.2" r="1.65"/>
<circle cx="338.1" cy="206.2" r="1.65"/>
<circle cx="336.4" cy="206.9" r="1.65"/>
<circle cx="332.6" cy="213.6" r="1.65"/>
<circle cx="331.2" cy="216.6" r="1.65"/>
<circle cx="340.7" cy="203.1" r="1.65"/>
<circle cx="328.7" cy="218.7" r="1.65"/>
<circle cx="360.4" cy="187.3" r="1.65"/>
<circle cx="370.4" cy="176.1" r="1.65"/>
<circle cx="374.3" cy="161.8" r="1.65"/>
<circle cx="351.2" cy="194.9" r="1.65"/>
<circle cx="343.8" cy="203.3" r="1.65"/>
<circle cx="346.6" cy="203.1" r="1.65"/>
<circle cx="363.5" cy="180.5" r="1.65"/>
<circle cx="358.5" cy="190.9" r="1.65"/>
<circle cx="351.2" cy="200.8" r="1.65"/>
<circle cx="381.2" cy="157.2" r="1.65"/>
<circle cx="371.2" cy="174.4" r="1.65"/>
<circle cx="376.2" cy="169.0" r="1.65"/>
<circle cx="361.9" cy="186.1" r="1.65"/>
<circle cx="356.2" cy="187.0" r="1.65"/>
<circle cx="382.9" cy="165.9" r="1.65"/>
<circle cx="341.8" cy="207.3" r="1.65"/>
<circle cx="341.7" cy="208.8" r="1.65"/>
<circle cx="365.3" cy="179.8" r="1.65"/>
<circle cx="350.7" cy="188.5" r="1.65"/>
<circle cx="340.8" cy="205.2" r="1.65"/>
<circle cx="347.7" cy="197.0" r="1.65"/>
<circle cx="372.0" cy="185.6" r="1.65"/>
<circle cx="350.9" cy="195.5" r="1.65"/>
<circle cx="372.3" cy="172.2" r="1.65"/>
<circle cx="341.1" cy="212.5" r="1.65"/>
<circle cx="365.9" cy="182.5" r="1.65"/>
<circle cx="367.3" cy="180.0" r="1.65"/>
<circle cx="378.8" cy="172.1" r="1.65"/>
<circle cx="381.0" cy="173.0" r="1.65"/>
<circle cx="376.1" cy="171.9" r="1.65"/>
<circle cx="381.1" cy="175.7" r="1.65"/>
<circle cx="361.5" cy="185.8" r="1.65"/>
<circle cx="346.5" cy="204.6" r="1.65"/>
<circle cx="348.2" cy="206.5" r="1.65"/>
<circle cx="344.2" cy="203.8" r="1.65"/>
<circle cx="376.0" cy="166.6" r="1.65"/>
<circle cx="356.1" cy="192.1" r="1.65"/>
<circle cx="347.8" cy="193.6" r="1.65"/>
<circle cx="378.6" cy="167.6" r="1.65"/>
<circle cx="353.3" cy="193.9" r="1.65"/>
<circle cx="344.3" cy="207.5" r="1.65"/>
<circle cx="370.0" cy="169.5" r="1.65"/>
<circle cx="366.7" cy="175.7" r="1.65"/>
<circle cx="352.7" cy="189.5" r="1.65"/>
<circle cx="343.8" cy="201.7" r="1.65"/>
<circle cx="349.0" cy="199.6" r="1.65"/>
<circle cx="354.3" cy="193.3" r="1.65"/>
<circle cx="372.2" cy="182.3" r="1.65"/>
<circle cx="344.9" cy="196.5" r="1.65"/>
<circle cx="358.4" cy="196.8" r="1.65"/>
<circle cx="355.0" cy="190.5" r="1.65"/>
<circle cx="352.0" cy="199.1" r="1.65"/>
<circle cx="360.0" cy="187.6" r="1.65"/>
<circle cx="377.3" cy="175.8" r="1.65"/>
<circle cx="376.3" cy="171.6" r="1.65"/>
<circle cx="358.9" cy="191.9" r="1.65"/>
<circle cx="382.7" cy="152.6" r="1.65"/>
<circle cx="353.2" cy="183.9" r="1.65"/>
<circle cx="365.0" cy="181.8" r="1.65"/>
<circle cx="380.7" cy="163.5" r="1.65"/>
<circle cx="375.7" cy="174.4" r="1.65"/>
<circle cx="359.9" cy="188.6" r="1.65"/>
<circle cx="352.7" cy="198.1" r="1.65"/>
<circle cx="363.9" cy="191.0" r="1.65"/>
<circle cx="347.6" cy="200.8" r="1.65"/>
<circle cx="367.9" cy="185.0" r="1.65"/>
<circle cx="345.3" cy="204.8" r="1.65"/>
<circle cx="370.0" cy="175.4" r="1.65"/>
<circle cx="344.4" cy="200.8" r="1.65"/>
<circle cx="369.7" cy="176.8" r="1.65"/>
<circle cx="377.7" cy="167.0" r="1.65"/>
<circle cx="381.1" cy="168.8" r="1.65"/>
<circle cx="372.4" cy="180.9" r="1.65"/>
<circle cx="357.3" cy="191.3" r="1.65"/>
<circle cx="376.7" cy="177.6" r="1.65"/>
<circle cx="371.1" cy="173.2" r="1.65"/>
<circle cx="377.3" cy="168.7" r="1.65"/>
<circle cx="367.2" cy="187.5" r="1.65"/>
<circle cx="362.5" cy="187.5" r="1.65"/>
<circle cx="370.6" cy="178.8" r="1.65"/>
<circle cx="371.0" cy="181.1" r="1.65"/>
<circle cx="354.7" cy="189.8" r="1.65"/>
<circle cx="366.6" cy="182.6" r="1.65"/>
<circle cx="375.2" cy="169.8" r="1.65"/>
<circle cx="367.9" cy="185.6" r="1.65"/>
<circle cx="382.4" cy="170.7" r="1.65"/>
<circle cx="377.4" cy="164.9" r="1.65"/>
<circle cx="364.4" cy="184.7" r="1.65"/>
<circle cx="348.2" cy="194.6" r="1.65"/>
<circle cx="367.1" cy="176.8" r="1.65"/>
<circle cx="349.4" cy="204.0" r="1.65"/>
<circle cx="367.7" cy="178.2" r="1.65"/>
<circle cx="361.1" cy="185.9" r="1.65"/>
<circle cx="369.5" cy="177.9" r="1.65"/>
<circle cx="347.8" cy="191.3" r="1.65"/>
<circle cx="364.6" cy="180.6" r="1.65"/>
<circle cx="346.3" cy="196.1" r="1.65"/>
<circle cx="358.1" cy="193.7" r="1.65"/>
<circle cx="360.7" cy="180.0" r="1.65"/>
<circle cx="381.8" cy="161.9" r="1.65"/>
<circle cx="367.7" cy="170.5" r="1.65"/>
<circle cx="369.9" cy="170.7" r="1.65"/>
<circle cx="354.8" cy="194.5" r="1.65"/>
<circle cx="371.6" cy="175.0" r="1.65"/>
<circle cx="357.3" cy="187.4" r="1.65"/>
<circle cx="380.3" cy="174.3" r="1.65"/>
<circle cx="353.8" cy="186.3" r="1.65"/>
<circle cx="365.7" cy="181.6" r="1.65"/>
<circle cx="365.9" cy="190.1" r="1.65"/>
<circle cx="363.3" cy="177.6" r="1.65"/>
<circle cx="357.2" cy="194.3" r="1.65"/>
<circle cx="349.0" cy="198.6" r="1.65"/>
<circle cx="381.8" cy="172.8" r="1.65"/>
<circle cx="342.9" cy="202.2" r="1.65"/>
<circle cx="352.1" cy="191.9" r="1.65"/>
<circle cx="378.1" cy="170.1" r="1.65"/>
<circle cx="369.3" cy="173.2" r="1.65"/>
<circle cx="343.0" cy="205.6" r="1.65"/>
<circle cx="357.1" cy="189.1" r="1.65"/>
<circle cx="364.7" cy="189.4" r="1.65"/>
<circle cx="382.8" cy="173.6" r="1.65"/>
<circle cx="372.6" cy="168.1" r="1.65"/>
<circle cx="342.1" cy="206.3" r="1.65"/>
<circle cx="348.4" cy="201.3" r="1.65"/>
<circle cx="368.6" cy="179.9" r="1.65"/>
<circle cx="344.6" cy="209.8" r="1.65"/>
<circle cx="368.7" cy="175.6" r="1.65"/>
<circle cx="340.9" cy="210.2" r="1.65"/>
<circle cx="347.4" cy="196.0" r="1.65"/>
<circle cx="367.5" cy="185.2" r="1.65"/>
<circle cx="369.0" cy="178.3" r="1.65"/>
<circle cx="376.1" cy="177.5" r="1.65"/>
<circle cx="355.3" cy="203.4" r="1.65"/>
<circle cx="362.4" cy="186.0" r="1.65"/>
<circle cx="376.1" cy="167.9" r="1.65"/>
<circle cx="360.3" cy="180.0" r="1.65"/>
<circle cx="359.3" cy="177.2" r="1.65"/>
<circle cx="371.4" cy="176.1" r="1.65"/>
<circle cx="369.8" cy="176.3" r="1.65"/>
<circle cx="380.1" cy="161.5" r="1.65"/>
<circle cx="358.4" cy="184.1" r="1.65"/>
<circle cx="381.8" cy="157.8" r="1.65"/>
<circle cx="349.2" cy="198.1" r="1.65"/>
<circle cx="368.2" cy="176.7" r="1.65"/>
<circle cx="346.1" cy="202.0" r="1.65"/>
<circle cx="377.6" cy="166.9" r="1.65"/>
<circle cx="360.8" cy="190.2" r="1.65"/>
<circle cx="357.0" cy="192.2" r="1.65"/>
<circle cx="352.5" cy="195.9" r="1.65"/>
<circle cx="362.5" cy="186.7" r="1.65"/>
<circle cx="349.6" cy="193.7" r="1.65"/>
<circle cx="374.3" cy="175.6" r="1.65"/>
<circle cx="366.0" cy="178.1" r="1.65"/>
<circle cx="349.6" cy="192.4" r="1.65"/>
<circle cx="344.3" cy="205.0" r="1.65"/>
<circle cx="355.4" cy="205.2" r="1.65"/>
<circle cx="347.0" cy="194.6" r="1.65"/>
<circle cx="357.1" cy="193.9" r="1.65"/>
<circle cx="381.6" cy="176.5" r="1.65"/>
<circle cx="366.0" cy="180.6" r="1.65"/>
<circle cx="369.0" cy="178.0" r="1.65"/>
<circle cx="362.5" cy="183.0" r="1.65"/>
<circle cx="360.4" cy="188.1" r="1.65"/>
<circle cx="368.5" cy="180.1" r="1.65"/>
<circle cx="344.2" cy="214.2" r="1.65"/>
<circle cx="348.1" cy="194.5" r="1.65"/>
<circle cx="382.4" cy="160.8" r="1.65"/>
<circle cx="376.5" cy="167.4" r="1.65"/>
<circle cx="352.2" cy="192.1" r="1.65"/>
<circle cx="355.9" cy="189.7" r="1.65"/>
<circle cx="373.5" cy="179.0" r="1.65"/>
<circle cx="380.5" cy="160.7" r="1.65"/>
<circle cx="354.3" cy="188.3" r="1.65"/>
<circle cx="376.3" cy="171.4" r="1.65"/>
<circle cx="366.6" cy="185.4" r="1.65"/>
<circle cx="352.9" cy="192.7" r="1.65"/>
<circle cx="345.0" cy="194.8" r="1.65"/>
<circle cx="370.1" cy="168.4" r="1.65"/>
<circle cx="371.3" cy="177.9" r="1.65"/>
<circle cx="362.4" cy="188.4" r="1.65"/>
<circle cx="365.5" cy="183.0" r="1.65"/>
<circle cx="357.6" cy="182.0" r="1.65"/>
<circle cx="349.5" cy="193.6" r="1.65"/>
<circle cx="357.1" cy="190.9" r="1.65"/>
<circle cx="366.5" cy="182.2" r="1.65"/>
<circle cx="360.9" cy="187.7" r="1.65"/>
<circle cx="358.4" cy="184.3" r="1.65"/>
<circle cx="360.9" cy="192.1" r="1.65"/>
<circle cx="351.7" cy="195.0" r="1.65"/>
<circle cx="358.1" cy="199.0" r="1.65"/>
<circle cx="375.9" cy="168.2" r="1.65"/>
<circle cx="380.2" cy="172.0" r="1.65"/>
<circle cx="368.6" cy="177.2" r="1.65"/>
<circle cx="376.1" cy="174.6" r="1.65"/>
<circle cx="350.4" cy="197.8" r="1.65"/>
<circle cx="345.6" cy="196.1" r="1.65"/>
<circle cx="348.7" cy="199.5" r="1.65"/>
<circle cx="341.5" cy="199.7" r="1.65"/>
<circle cx="366.5" cy="182.9" r="1.65"/>
<circle cx="358.3" cy="185.9" r="1.65"/>
<circle cx="344.6" cy="206.8" r="1.65"/>
<circle cx="374.0" cy="178.3" r="1.65"/>
<circle cx="379.9" cy="162.1" r="1.65"/>
<circle cx="346.0" cy="214.8" r="1.65"/>
<circle cx="364.4" cy="176.2" r="1.65"/>
<circle cx="344.3" cy="197.7" r="1.65"/>
<circle cx="383.2" cy="156.2" r="1.65"/>
<circle cx="374.4" cy="167.4" r="1.65"/>
<circle cx="373.4" cy="174.7" r="1.65"/>
<circle cx="380.3" cy="158.1" r="1.65"/>
<circle cx="351.9" cy="195.8" r="1.65"/>
<circle cx="351.2" cy="181.9" r="1.65"/>
<circle cx="375.7" cy="168.7" r="1.65"/>
<circle cx="378.1" cy="167.9" r="1.65"/>
<circle cx="348.3" cy="194.5" r="1.65"/>
<circle cx="340.7" cy="204.8" r="1.65"/>
<circle cx="367.7" cy="175.3" r="1.65"/>
<circle cx="371.1" cy="175.0" r="1.65"/>
<circle cx="380.0" cy="162.4" r="1.65"/>
<circle cx="349.4" cy="202.9" r="1.65"/>
<circle cx="369.3" cy="179.6" r="1.65"/>
<circle cx="366.5" cy="180.5" r="1.65"/>
<circle cx="364.1" cy="186.5" r="1.65"/>
<circle cx="369.0" cy="172.4" r="1.65"/>
<circle cx="360.8" cy="190.9" r="1.65"/>
<circle cx="379.1" cy="164.5" r="1.65"/>
<circle cx="365.0" cy="184.6" r="1.65"/>
<circle cx="348.0" cy="198.2" r="1.65"/>
<circle cx="341.2" cy="210.0" r="1.65"/>
<circle cx="377.8" cy="165.4" r="1.65"/>
<circle cx="364.1" cy="186.7" r="1.65"/>
<circle cx="367.3" cy="177.7" r="1.65"/>
<circle cx="363.1" cy="181.4" r="1.65"/>
<circle cx="352.8" cy="194.6" r="1.65"/>
<circle cx="352.6" cy="182.5" r="1.65"/>
<circle cx="355.3" cy="193.5" r="1.65"/>
<circle cx="342.3" cy="197.8" r="1.65"/>
<circle cx="375.8" cy="164.6" r="1.65"/>
<circle cx="356.7" cy="191.3" r="1.65"/>
<circle cx="359.2" cy="184.1" r="1.65"/>
<circle cx="370.3" cy="168.3" r="1.65"/>
<circle cx="383.2" cy="159.7" r="1.65"/>
<circle cx="375.3" cy="182.7" r="1.65"/>
<circle cx="379.9" cy="168.0" r="1.65"/>
<circle cx="352.0" cy="201.5" r="1.65"/>
<circle cx="369.1" cy="178.9" r="1.65"/>
<circle cx="377.7" cy="169.8" r="1.65"/>
<circle cx="362.1" cy="185.6" r="1.65"/>
<circle cx="363.3" cy="184.0" r="1.65"/>
<circle cx="345.1" cy="207.1" r="1.65"/>
<circle cx="351.8" cy="189.9" r="1.65"/>
<circle cx="364.0" cy="185.6" r="1.65"/>
<circle cx="378.5" cy="178.1" r="1.65"/>
<circle cx="353.1" cy="195.7" r="1.65"/>
<circle cx="341.6" cy="206.9" r="1.65"/>
<circle cx="363.0" cy="190.2" r="1.65"/>
<circle cx="368.8" cy="176.9" r="1.65"/>
<circle cx="348.8" cy="204.4" r="1.65"/>
<circle cx="357.7" cy="181.3" r="1.65"/>
<circle cx="363.6" cy="175.1" r="1.65"/>
<circle cx="365.9" cy="183.5" r="1.65"/>
<circle cx="340.6" cy="212.4" r="1.65"/>
<circle cx="370.0" cy="173.1" r="1.65"/>
<circle cx="370.2" cy="173.3" r="1.65"/>
<circle cx="376.3" cy="169.6" r="1.65"/>
<circle cx="363.0" cy="177.5" r="1.65"/>
<circle cx="348.3" cy="204.0" r="1.65"/>
<circle cx="378.0" cy="162.9" r="1.65"/>
<circle cx="352.0" cy="196.0" r="1.65"/>
<circle cx="375.3" cy="171.1" r="1.65"/>
<circle cx="383.3" cy="169.1" r="1.65"/>
<circle cx="345.1" cy="202.8" r="1.65"/>
<circle cx="364.1" cy="180.4" r="1.65"/>
<circle cx="345.3" cy="204.7" r="1.65"/>
<circle cx="356.6" cy="192.3" r="1.65"/>
<circle cx="356.3" cy="194.6" r="1.65"/>
<circle cx="348.5" cy="196.9" r="1.65"/>
<circle cx="353.7" cy="199.9" r="1.65"/>
<circle cx="379.5" cy="167.8" r="1.65"/>
<circle cx="352.7" cy="198.1" r="1.65"/>
<circle cx="362.7" cy="179.8" r="1.65"/>
<circle cx="365.5" cy="188.3" r="1.65"/>
<circle cx="360.6" cy="186.0" r="1.65"/>
<circle cx="343.1" cy="198.5" r="1.65"/>
<circle cx="371.9" cy="170.5" r="1.65"/>
<circle cx="349.0" cy="200.2" r="1.65"/>
<circle cx="366.3" cy="171.7" r="1.65"/>
<circle cx="382.4" cy="160.7" r="1.65"/>
<circle cx="380.2" cy="169.6" r="1.65"/>
<circle cx="382.2" cy="157.4" r="1.65"/>
<circle cx="358.3" cy="189.1" r="1.65"/>
<circle cx="344.6" cy="202.6" r="1.65"/>
<circle cx="344.7" cy="207.0" r="1.65"/>
<circle cx="352.1" cy="186.1" r="1.65"/>
<circle cx="354.2" cy="183.4" r="1.65"/>
<circle cx="354.4" cy="190.1" r="1.65"/>
<circle cx="377.9" cy="165.5" r="1.65"/>
<circle cx="379.8" cy="169.8" r="1.65"/>
<circle cx="359.9" cy="178.9" r="1.65"/>
<circle cx="380.7" cy="170.1" r="1.65"/>
<circle cx="358.6" cy="182.8" r="1.65"/>
<circle cx="364.1" cy="175.2" r="1.65"/>
<circle cx="372.4" cy="161.4" r="1.65"/>
<circle cx="355.3" cy="173.7" r="1.65"/>
<circle cx="379.0" cy="154.2" r="1.65"/>
<circle cx="340.9" cy="198.6" r="1.65"/>
<circle cx="344.5" cy="188.5" r="1.65"/>
<circle cx="390.5" cy="141.2" r="1.65"/>
<circle cx="367.6" cy="163.9" r="1.65"/>
<circle cx="376.2" cy="163.7" r="1.65"/>
<circle cx="373.3" cy="161.4" r="1.65"/>
<circle cx="358.9" cy="175.3" r="1.65"/>
<circle cx="390.0" cy="136.1" r="1.65"/>
<circle cx="343.2" cy="189.1" r="1.65"/>
<circle cx="346.8" cy="185.3" r="1.65"/>
<circle cx="388.2" cy="139.4" r="1.65"/>
<circle cx="352.1" cy="185.4" r="1.65"/>
<circle cx="360.9" cy="168.4" r="1.65"/>
<circle cx="354.0" cy="183.6" r="1.65"/>
<circle cx="373.0" cy="162.6" r="1.65"/>
<circle cx="354.6" cy="185.5" r="1.65"/>
<circle cx="391.2" cy="147.5" r="1.65"/>
<circle cx="352.0" cy="179.9" r="1.65"/>
<circle cx="353.2" cy="180.8" r="1.65"/>
<circle cx="352.2" cy="183.3" r="1.65"/>
<circle cx="354.6" cy="182.1" r="1.65"/>
<circle cx="380.8" cy="159.7" r="1.65"/>
<circle cx="372.4" cy="167.2" r="1.65"/>
<circle cx="390.6" cy="147.6" r="1.65"/>
<circle cx="373.7" cy="165.7" r="1.65"/>
<circle cx="357.5" cy="182.5" r="1.65"/>
<circle cx="357.5" cy="173.2" r="1.65"/>
<circle cx="386.3" cy="140.0" r="1.65"/>
<circle cx="352.7" cy="179.2" r="1.65"/>
<circle cx="385.5" cy="145.2" r="1.65"/>
<circle cx="391.2" cy="164.1" r="1.65"/>
<circle cx="384.9" cy="164.1" r="1.65"/>
<circle cx="391.5" cy="157.5" r="1.65"/>
<circle cx="392.0" cy="160.8" r="1.65"/>
<circle cx="398.8" cy="152.6" r="1.65"/>
<circle cx="384.4" cy="159.4" r="1.65"/>
<circle cx="393.2" cy="150.4" r="1.65"/>
<circle cx="390.7" cy="154.4" r="1.65"/>
<circle cx="388.1" cy="159.8" r="1.65"/>
<circle cx="398.3" cy="156.0" r="1.65"/>
<circle cx="400.8" cy="141.1" r="1.65"/>
<circle cx="391.1" cy="154.9" r="1.65"/>
<circle cx="383.5" cy="164.1" r="1.65"/>
<circle cx="393.6" cy="152.3" r="1.65"/>
<circle cx="398.4" cy="150.6" r="1.65"/>
<circle cx="385.4" cy="166.8" r="1.65"/>
<circle cx="400.6" cy="153.9" r="1.65"/>
<circle cx="395.4" cy="157.4" r="1.65"/>
<circle cx="394.6" cy="150.5" r="1.65"/>
<circle cx="398.3" cy="153.9" r="1.65"/>
<circle cx="399.1" cy="145.0" r="1.65"/>
<circle cx="385.4" cy="156.8" r="1.65"/>
<circle cx="395.6" cy="159.2" r="1.65"/>
<circle cx="401.4" cy="146.0" r="1.65"/>
<circle cx="389.3" cy="171.9" r="1.65"/>
<circle cx="390.2" cy="159.9" r="1.65"/>
<circle cx="387.6" cy="163.6" r="1.65"/>
<circle cx="386.2" cy="166.6" r="1.65"/>
<circle cx="380.7" cy="171.0" r="1.65"/>
<circle cx="394.0" cy="153.7" r="1.65"/>
<circle cx="390.4" cy="163.1" r="1.65"/>
<circle cx="388.6" cy="161.9" r="1.65"/>
<circle cx="385.0" cy="171.7" r="1.65"/>
<circle cx="398.1" cy="159.1" r="1.65"/>
<circle cx="394.0" cy="153.5" r="1.65"/>
<circle cx="389.5" cy="163.2" r="1.65"/>
<circle cx="386.7" cy="161.7" r="1.65"/>
<circle cx="395.5" cy="153.8" r="1.65"/>
<circle cx="392.7" cy="153.8" r="1.65"/>
<circle cx="385.7" cy="159.1" r="1.65"/>
<circle cx="386.1" cy="168.9" r="1.65"/>
<circle cx="392.8" cy="158.2" r="1.65"/>
<circle cx="393.5" cy="148.6" r="1.65"/>
<circle cx="393.0" cy="162.0" r="1.65"/>
<circle cx="399.7" cy="140.8" r="1.65"/>
<circle cx="391.9" cy="162.7" r="1.65"/>
<circle cx="388.5" cy="169.3" r="1.65"/>
<circle cx="391.0" cy="156.6" r="1.65"/>
<circle cx="385.7" cy="159.8" r="1.65"/>
<circle cx="386.7" cy="166.0" r="1.65"/>
<circle cx="387.2" cy="164.5" r="1.65"/>
<circle cx="382.1" cy="172.0" r="1.65"/>
<circle cx="384.2" cy="158.0" r="1.65"/>
<circle cx="385.6" cy="168.8" r="1.65"/>
<circle cx="399.0" cy="144.6" r="1.65"/>
<circle cx="390.7" cy="149.1" r="1.65"/>
<circle cx="393.3" cy="152.4" r="1.65"/>
<circle cx="385.6" cy="173.0" r="1.65"/>
<circle cx="395.6" cy="151.5" r="1.65"/>
<circle cx="391.5" cy="156.8" r="1.65"/>
<circle cx="397.3" cy="153.4" r="1.65"/>
<circle cx="396.2" cy="150.0" r="1.65"/>
<circle cx="383.4" cy="167.1" r="1.65"/>
<circle cx="393.4" cy="157.4" r="1.65"/>
<circle cx="396.6" cy="154.3" r="1.65"/>
<circle cx="397.9" cy="144.6" r="1.65"/>
<circle cx="393.5" cy="158.2" r="1.65"/>
<circle cx="386.0" cy="159.0" r="1.65"/>
<circle cx="397.7" cy="151.5" r="1.65"/>
<circle cx="382.9" cy="166.4" r="1.65"/>
<circle cx="380.9" cy="153.9" r="1.65"/>
<circle cx="389.7" cy="154.4" r="1.65"/>
<circle cx="394.5" cy="161.7" r="1.65"/>
<circle cx="395.4" cy="149.5" r="1.65"/>
<circle cx="382.4" cy="167.8" r="1.65"/>
<circle cx="383.1" cy="167.3" r="1.65"/>
<circle cx="394.5" cy="158.3" r="1.65"/>
<circle cx="400.5" cy="152.1" r="1.65"/>
<circle cx="400.4" cy="145.6" r="1.65"/>
<circle cx="388.8" cy="150.0" r="1.65"/>
<circle cx="384.0" cy="163.8" r="1.65"/>
<circle cx="402.0" cy="147.9" r="1.65"/>
<circle cx="400.5" cy="148.0" r="1.65"/>
<circle cx="393.5" cy="153.1" r="1.65"/>
<circle cx="395.8" cy="150.2" r="1.65"/>
<circle cx="390.0" cy="160.0" r="1.65"/>
<circle cx="387.8" cy="155.3" r="1.65"/>
<circle cx="390.4" cy="161.0" r="1.65"/>
<circle cx="401.7" cy="146.5" r="1.65"/>
<circle cx="383.8" cy="162.8" r="1.65"/>
<circle cx="387.2" cy="162.8" r="1.65"/>
<circle cx="385.1" cy="165.0" r="1.65"/>
<circle cx="386.8" cy="160.9" r="1.65"/>
<circle cx="383.9" cy="151.9" r="1.65"/>
<circle cx="389.8" cy="158.6" r="1.65"/>
<circle cx="395.7" cy="153.4" r="1.65"/>
<circle cx="390.5" cy="166.4" r="1.65"/>
<circle cx="387.2" cy="157.4" r="1.65"/>
<circle cx="395.1" cy="155.1" r="1.65"/>
<circle cx="389.4" cy="160.2" r="1.65"/>
<circle cx="387.6" cy="161.7" r="1.65"/>
<circle cx="395.4" cy="160.9" r="1.65"/>
<circle cx="381.0" cy="164.1" r="1.65"/>
<circle cx="394.9" cy="141.9" r="1.65"/>
<circle cx="393.1" cy="158.0" r="1.65"/>
<circle cx="398.6" cy="153.3" r="1.65"/>
<circle cx="389.9" cy="167.0" r="1.65"/>
<circle cx="384.4" cy="154.0" r="1.65"/>
<circle cx="391.8" cy="152.6" r="1.65"/>
<circle cx="385.1" cy="164.7" r="1.65"/>
<circle cx="385.7" cy="164.4" r="1.65"/>
<circle cx="401.2" cy="149.1" r="1.65"/>
<circle cx="386.1" cy="158.7" r="1.65"/>
<circle cx="398.2" cy="158.0" r="1.65"/>
<circle cx="383.1" cy="167.1" r="1.65"/>
<circle cx="388.7" cy="156.8" r="1.65"/>
<circle cx="390.0" cy="162.7" r="1.65"/>
<circle cx="396.4" cy="151.5" r="1.65"/>
<circle cx="390.3" cy="153.8" r="1.65"/>
<circle cx="389.6" cy="158.1" r="1.65"/>
<circle cx="401.6" cy="149.3" r="1.65"/>
<circle cx="388.9" cy="161.2" r="1.65"/>
<circle cx="400.6" cy="142.0" r="1.65"/>
<circle cx="401.1" cy="141.7" r="1.65"/>
<circle cx="391.8" cy="148.4" r="1.65"/>
<circle cx="398.3" cy="146.5" r="1.65"/>
<circle cx="389.3" cy="167.3" r="1.65"/>
<circle cx="393.8" cy="154.5" r="1.65"/>
<circle cx="389.6" cy="159.6" r="1.65"/>
<circle cx="389.6" cy="167.7" r="1.65"/>
<circle cx="401.2" cy="146.7" r="1.65"/>
<circle cx="391.9" cy="158.8" r="1.65"/>
<circle cx="381.4" cy="176.1" r="1.65"/>
<circle cx="394.1" cy="159.1" r="1.65"/>
<circle cx="392.9" cy="151.3" r="1.65"/>
<circle cx="386.5" cy="160.5" r="1.65"/>
<circle cx="387.2" cy="158.3" r="1.65"/>
<circle cx="395.9" cy="149.9" r="1.65"/>
<circle cx="394.7" cy="150.4" r="1.65"/>
<circle cx="398.3" cy="151.0" r="1.65"/>
<circle cx="394.3" cy="148.4" r="1.65"/>
<circle cx="396.1" cy="141.2" r="1.65"/>
<circle cx="385.4" cy="164.0" r="1.65"/>
<circle cx="393.6" cy="158.5" r="1.65"/>
<circle cx="393.9" cy="149.2" r="1.65"/>
<circle cx="398.8" cy="156.1" r="1.65"/>
<circle cx="381.0" cy="164.3" r="1.65"/>
<circle cx="383.0" cy="164.7" r="1.65"/>
<circle cx="395.9" cy="149.0" r="1.65"/>
<circle cx="392.0" cy="157.7" r="1.65"/>
<circle cx="401.3" cy="146.4" r="1.65"/>
<circle cx="386.7" cy="168.9" r="1.65"/>
<circle cx="395.2" cy="157.9" r="1.65"/>
<circle cx="386.5" cy="158.4" r="1.65"/>
<circle cx="391.5" cy="151.7" r="1.65"/>
<circle cx="390.4" cy="154.8" r="1.65"/>
<circle cx="387.8" cy="169.3" r="1.65"/>
<circle cx="387.6" cy="161.0" r="1.65"/>
<circle cx="395.6" cy="161.0" r="1.65"/>
<circle cx="391.1" cy="163.2" r="1.65"/>
<circle cx="380.9" cy="167.0" r="1.65"/>
<circle cx="397.2" cy="150.2" r="1.65"/>
<circle cx="398.1" cy="151.7" r="1.65"/>
<circle cx="393.8" cy="158.6" r="1.65"/>
<circle cx="382.4" cy="165.7" r="1.65"/>
<circle cx="387.0" cy="160.2" r="1.65"/>
<circle cx="397.1" cy="154.6" r="1.65"/>
<circle cx="386.8" cy="159.5" r="1.65"/>
<circle cx="385.9" cy="165.0" r="1.65"/>
<circle cx="380.8" cy="165.8" r="1.65"/>
<circle cx="400.9" cy="156.9" r="1.65"/>
<circle cx="414.6" cy="134.1" r="1.65"/>
<circle cx="413.4" cy="146.2" r="1.65"/>
<circle cx="418.8" cy="146.3" r="1.65"/>
<circle cx="405.1" cy="142.7" r="1.65"/>
<circle cx="408.2" cy="143.1" r="1.65"/>
<circle cx="403.9" cy="145.9" r="1.65"/>
<circle cx="405.1" cy="140.4" r="1.65"/>
<circle cx="417.5" cy="129.3" r="1.65"/>
<circle cx="418.1" cy="136.4" r="1.65"/>
<circle cx="419.9" cy="135.3" r="1.65"/>
<circle cx="399.7" cy="140.0" r="1.65"/>
<circle cx="419.2" cy="137.1" r="1.65"/>
<circle cx="411.7" cy="143.2" r="1.65"/>
<circle cx="415.2" cy="144.5" r="1.65"/>
<circle cx="401.1" cy="158.7" r="1.65"/>
<circle cx="419.8" cy="130.4" r="1.65"/>
<circle cx="402.2" cy="138.6" r="1.65"/>
<circle cx="401.9" cy="156.1" r="1.65"/>
<circle cx="413.0" cy="141.9" r="1.65"/>
<circle cx="416.2" cy="137.6" r="1.65"/>
<circle cx="418.5" cy="139.3" r="1.65"/>
<circle cx="419.2" cy="135.2" r="1.65"/>
<circle cx="405.5" cy="153.8" r="1.65"/>
<circle cx="420.6" cy="128.7" r="1.65"/>
<circle cx="409.0" cy="149.4" r="1.65"/>
<circle cx="412.6" cy="135.4" r="1.65"/>
<circle cx="415.5" cy="142.8" r="1.65"/>
<circle cx="409.7" cy="142.1" r="1.65"/>
<circle cx="420.0" cy="138.9" r="1.65"/>
<circle cx="414.1" cy="133.4" r="1.65"/>
<circle cx="406.7" cy="138.8" r="1.65"/>
<circle cx="404.1" cy="153.8" r="1.65"/>
<circle cx="400.8" cy="150.6" r="1.65"/>
<circle cx="406.2" cy="137.9" r="1.65"/>
<circle cx="415.8" cy="128.4" r="1.65"/>
<circle cx="414.8" cy="139.2" r="1.65"/>
<circle cx="403.4" cy="149.3" r="1.65"/>
<circle cx="401.8" cy="150.5" r="1.65"/>
<circle cx="408.9" cy="145.8" r="1.65"/>
<circle cx="402.2" cy="160.7" r="1.65"/>
<circle cx="400.6" cy="156.2" r="1.65"/>
<circle cx="404.0" cy="151.6" r="1.65"/>
<circle cx="400.2" cy="159.1" r="1.65"/>
<circle cx="421.8" cy="131.5" r="1.65"/>
<circle cx="400.3" cy="143.2" r="1.65"/>
<circle cx="418.6" cy="140.9" r="1.65"/>
<circle cx="402.4" cy="150.4" r="1.65"/>
<circle cx="410.1" cy="139.0" r="1.65"/>
<circle cx="404.5" cy="149.8" r="1.65"/>
<circle cx="416.4" cy="128.7" r="1.65"/>
<circle cx="415.6" cy="127.5" r="1.65"/>
<circle cx="413.5" cy="137.0" r="1.65"/>
<circle cx="401.8" cy="148.9" r="1.65"/>
<circle cx="408.1" cy="140.6" r="1.65"/>
<circle cx="423.4" cy="127.5" r="1.65"/>
<circle cx="414.8" cy="139.8" r="1.65"/>
<circle cx="422.4" cy="133.7" r="1.65"/>
<circle cx="419.4" cy="127.0" r="1.65"/>
<circle cx="407.7" cy="144.0" r="1.65"/>
<circle cx="421.6" cy="136.9" r="1.65"/>
<circle cx="422.0" cy="134.2" r="1.65"/>
<circle cx="411.1" cy="141.8" r="1.65"/>
<circle cx="411.9" cy="140.8" r="1.65"/>
<circle cx="407.8" cy="139.5" r="1.65"/>
<circle cx="412.2" cy="139.9" r="1.65"/>
<circle cx="411.0" cy="143.9" r="1.65"/>
<circle cx="416.4" cy="137.7" r="1.65"/>
<circle cx="422.8" cy="137.9" r="1.65"/>
<circle cx="413.8" cy="147.1" r="1.65"/>
<circle cx="402.3" cy="157.5" r="1.65"/>
<circle cx="404.6" cy="147.7" r="1.65"/>
<circle cx="420.4" cy="131.8" r="1.65"/>
<circle cx="422.0" cy="133.6" r="1.65"/>
<circle cx="401.2" cy="157.2" r="1.65"/>
<circle cx="404.1" cy="146.7" r="1.65"/>
<circle cx="422.5" cy="126.3" r="1.65"/>
<circle cx="419.6" cy="135.7" r="1.65"/>
<circle cx="414.6" cy="143.8" r="1.65"/>
<circle cx="414.3" cy="130.8" r="1.65"/>
<circle cx="414.2" cy="141.6" r="1.65"/>
<circle cx="417.2" cy="127.8" r="1.65"/>
<circle cx="415.6" cy="134.1" r="1.65"/>
<circle cx="400.9" cy="152.8" r="1.65"/>
<circle cx="418.0" cy="130.1" r="1.65"/>
<circle cx="411.2" cy="136.9" r="1.65"/>
<circle cx="403.4" cy="149.8" r="1.65"/>
<circle cx="421.4" cy="129.9" r="1.65"/>
<circle cx="416.0" cy="135.7" r="1.65"/>
<circle cx="419.8" cy="136.7" r="1.65"/>
<circle cx="402.0" cy="145.9" r="1.65"/>
<circle cx="406.4" cy="147.6" r="1.65"/>
<circle cx="411.4" cy="137.1" r="1.65"/>
<circle cx="407.7" cy="143.6" r="1.65"/>
<circle cx="423.2" cy="125.6" r="1.65"/>
<circle cx="403.2" cy="150.7" r="1.65"/>
<circle cx="401.4" cy="153.8" r="1.65"/>
<circle cx="420.7" cy="126.9" r="1.65"/>
<circle cx="403.7" cy="151.4" r="1.65"/>
<circle cx="410.2" cy="136.1" r="1.65"/>
<circle cx="422.8" cy="129.6" r="1.65"/>
<circle cx="400.0" cy="146.7" r="1.65"/>
<circle cx="400.7" cy="150.6" r="1.65"/>
<circle cx="414.7" cy="138.9" r="1.65"/>
<circle cx="403.8" cy="151.4" r="1.65"/>
<circle cx="412.4" cy="141.2" r="1.65"/>
<circle cx="421.8" cy="130.1" r="1.65"/>
<circle cx="419.7" cy="125.5" r="1.65"/>
<circle cx="411.4" cy="144.9" r="1.65"/>
<circle cx="415.4" cy="136.3" r="1.65"/>
<circle cx="405.6" cy="147.1" r="1.65"/>
<circle cx="411.5" cy="145.6" r="1.65"/>
<circle cx="407.8" cy="149.5" r="1.65"/>
<circle cx="412.3" cy="132.0" r="1.65"/>
<circle cx="419.4" cy="132.8" r="1.65"/>
<circle cx="417.5" cy="137.6" r="1.65"/>
<circle cx="407.3" cy="145.9" r="1.65"/>
<circle cx="416.9" cy="137.4" r="1.65"/>
<circle cx="415.4" cy="134.5" r="1.65"/>
<circle cx="406.2" cy="147.2" r="1.65"/>
<circle cx="402.2" cy="149.0" r="1.65"/>
<circle cx="411.8" cy="142.6" r="1.65"/>
<circle cx="402.0" cy="146.2" r="1.65"/>
<circle cx="404.1" cy="150.4" r="1.65"/>
<circle cx="418.0" cy="132.6" r="1.65"/>
<circle cx="400.9" cy="147.4" r="1.65"/>
<circle cx="422.3" cy="125.4" r="1.65"/>
<circle cx="410.3" cy="151.2" r="1.65"/>
<circle cx="421.2" cy="133.0" r="1.65"/>
<circle cx="416.2" cy="130.5" r="1.65"/>
<circle cx="412.6" cy="139.8" r="1.65"/>
<circle cx="420.2" cy="132.1" r="1.65"/>
<circle cx="416.4" cy="130.7" r="1.65"/>
<circle cx="407.5" cy="134.7" r="1.65"/>
<circle cx="413.3" cy="131.9" r="1.65"/>
<circle cx="404.7" cy="145.1" r="1.65"/>
<circle cx="417.1" cy="137.8" r="1.65"/>
<circle cx="409.4" cy="143.5" r="1.65"/>
<circle cx="421.8" cy="133.6" r="1.65"/>
<circle cx="412.6" cy="137.7" r="1.65"/>
<circle cx="403.5" cy="148.3" r="1.65"/>
<circle cx="406.7" cy="153.4" r="1.65"/>
<circle cx="423.3" cy="134.4" r="1.65"/>
<circle cx="406.2" cy="149.3" r="1.65"/>
<circle cx="413.8" cy="141.9" r="1.65"/>
<circle cx="406.7" cy="143.7" r="1.65"/>
<circle cx="410.9" cy="140.2" r="1.65"/>
<circle cx="410.3" cy="142.4" r="1.65"/>
<circle cx="415.9" cy="137.2" r="1.65"/>
<circle cx="416.0" cy="138.0" r="1.65"/>
<circle cx="405.9" cy="144.3" r="1.65"/>
<circle cx="411.3" cy="149.9" r="1.65"/>
<circle cx="406.2" cy="146.3" r="1.65"/>
<circle cx="411.5" cy="139.5" r="1.65"/>
<circle cx="399.6" cy="154.6" r="1.65"/>
<circle cx="418.0" cy="130.8" r="1.65"/>
<circle cx="415.6" cy="136.4" r="1.65"/>
<circle cx="422.9" cy="128.1" r="1.65"/>
<circle cx="413.2" cy="142.3" r="1.65"/>
<circle cx="414.6" cy="136.9" r="1.65"/>
<circle cx="404.4" cy="143.2" r="1.65"/>
<circle cx="409.6" cy="144.1" r="1.65"/>
<circle cx="417.5" cy="135.8" r="1.65"/>
<circle cx="417.4" cy="132.5" r="1.65"/>
<circle cx="418.5" cy="137.8" r="1.65"/>
<circle cx="410.5" cy="145.9" r="1.65"/>
<circle cx="421.4" cy="129.8" r="1.65"/>
<circle cx="423.1" cy="133.4" r="1.65"/>
<circle cx="415.4" cy="135.7" r="1.65"/>
<circle cx="404.0" cy="141.3" r="1.65"/>
<circle cx="414.7" cy="138.5" r="1.65"/>
<circle cx="411.0" cy="148.1" r="1.65"/>
<circle cx="405.9" cy="151.0" r="1.65"/>
<circle cx="422.6" cy="137.4" r="1.65"/>
<circle cx="413.5" cy="134.4" r="1.65"/>
<circle cx="421.2" cy="130.4" r="1.65"/>
<circle cx="411.0" cy="140.9" r="1.65"/>
<circle cx="419.5" cy="137.9" r="1.65"/>
<circle cx="418.9" cy="129.1" r="1.65"/>
<circle cx="412.7" cy="143.3" r="1.65"/>
<circle cx="414.9" cy="143.9" r="1.65"/>
<circle cx="416.4" cy="132.1" r="1.65"/>
<circle cx="409.9" cy="142.1" r="1.65"/>
<circle cx="402.7" cy="151.1" r="1.65"/>
<circle cx="413.2" cy="142.0" r="1.65"/>
<circle cx="403.5" cy="146.9" r="1.65"/>
<circle cx="422.3" cy="137.0" r="1.65"/>
<circle cx="402.1" cy="150.0" r="1.65"/>
<circle cx="404.6" cy="144.2" r="1.65"/>
<circle cx="401.5" cy="147.7" r="1.65"/>
<circle cx="414.2" cy="149.5" r="1.65"/>
<circle cx="404.2" cy="140.2" r="1.65"/>
<circle cx="403.2" cy="146.1" r="1.65"/>
<circle cx="402.6" cy="152.5" r="1.65"/>
<circle cx="422.1" cy="132.7" r="1.65"/>
<circle cx="416.9" cy="126.5" r="1.65"/>
<circle cx="411.4" cy="147.1" r="1.65"/>
<circle cx="417.9" cy="124.8" r="1.65"/>
<circle cx="407.3" cy="140.0" r="1.65"/>
<circle cx="411.5" cy="127.6" r="1.65"/>
<circle cx="408.9" cy="147.0" r="1.65"/>
<circle cx="411.4" cy="148.2" r="1.65"/>
<circle cx="410.4" cy="145.4" r="1.65"/>
<circle cx="423.3" cy="129.3" r="1.65"/>
<circle cx="406.8" cy="145.3" r="1.65"/>
<circle cx="404.9" cy="157.8" r="1.65"/>
<circle cx="411.1" cy="139.7" r="1.65"/>
<circle cx="401.2" cy="152.2" r="1.65"/>
<circle cx="410.8" cy="148.7" r="1.65"/>
<circle cx="419.9" cy="133.4" r="1.65"/>
<circle cx="440.4" cy="110.7" r="1.65"/>
<circle cx="444.9" cy="115.3" r="1.65"/>
<circle cx="457.0" cy="97.6" r="1.65"/>
<circle cx="448.4" cy="111.5" r="1.65"/>
<circle cx="427.6" cy="126.1" r="1.65"/>
<circle cx="435.6" cy="129.2" r="1.65"/>
<circle cx="432.2" cy="121.5" r="1.65"/>
<circle cx="448.7" cy="102.5" r="1.65"/>
<circle cx="426.7" cy="129.8" r="1.65"/>
<circle cx="439.2" cy="120.2" r="1.65"/>
<circle cx="445.9" cy="108.1" r="1.65"/>
<circle cx="430.5" cy="121.5" r="1.65"/>
<circle cx="439.5" cy="116.7" r="1.65"/>
<circle cx="435.7" cy="124.6" r="1.65"/>
<circle cx="449.0" cy="110.3" r="1.65"/>
<circle cx="435.6" cy="122.0" r="1.65"/>
<circle cx="446.7" cy="113.3" r="1.65"/>
<circle cx="432.5" cy="122.1" r="1.65"/>
<circle cx="429.6" cy="127.1" r="1.65"/>
<circle cx="432.4" cy="123.3" r="1.65"/>
<circle cx="431.4" cy="128.9" r="1.65"/>
<circle cx="435.2" cy="114.0" r="1.65"/>
<circle cx="430.4" cy="128.3" r="1.65"/>
<circle cx="454.1" cy="106.1" r="1.65"/>
<circle cx="430.6" cy="131.0" r="1.65"/>
<circle cx="439.3" cy="116.9" r="1.65"/>
<circle cx="438.9" cy="122.2" r="1.65"/>
<circle cx="422.1" cy="134.6" r="1.65"/>
<circle cx="455.9" cy="97.0" r="1.65"/>
<circle cx="448.5" cy="103.3" r="1.65"/>
<circle cx="448.6" cy="102.4" r="1.65"/>
<circle cx="449.1" cy="112.0" r="1.65"/>
<circle cx="431.4" cy="124.7" r="1.65"/>
<circle cx="428.5" cy="130.6" r="1.65"/>
<circle cx="426.7" cy="134.9" r="1.65"/>
<circle cx="436.9" cy="111.9" r="1.65"/>
<circle cx="451.0" cy="103.8" r="1.65"/>
<circle cx="433.7" cy="118.6" r="1.65"/>
<circle cx="450.8" cy="115.7" r="1.65"/>
<circle cx="440.9" cy="110.7" r="1.65"/>
<circle cx="429.4" cy="119.5" r="1.65"/>
<circle cx="426.3" cy="134.7" r="1.65"/>
<circle cx="452.3" cy="96.2" r="1.65"/>
<circle cx="457.2" cy="97.0" r="1.65"/>
<circle cx="456.7" cy="102.0" r="1.65"/>
<circle cx="430.4" cy="123.7" r="1.65"/>
<circle cx="454.1" cy="101.5" r="1.65"/>
<circle cx="452.9" cy="107.8" r="1.65"/>
<circle cx="453.1" cy="101.0" r="1.65"/>
<circle cx="454.0" cy="108.1" r="1.65"/>
<circle cx="425.3" cy="133.7" r="1.65"/>
<circle cx="434.1" cy="120.5" r="1.65"/>
<circle cx="434.3" cy="127.0" r="1.65"/>
<circle cx="426.5" cy="131.4" r="1.65"/>
<circle cx="453.7" cy="105.5" r="1.65"/>
<circle cx="439.0" cy="119.0" r="1.65"/>
<circle cx="446.8" cy="106.3" r="1.65"/>
<circle cx="423.5" cy="130.4" r="1.65"/>
<circle cx="455.3" cy="103.1" r="1.65"/>
<circle cx="449.5" cy="106.7" r="1.65"/>
<circle cx="453.5" cy="105.0" r="1.65"/>
<circle cx="435.5" cy="124.3" r="1.65"/>
<circle cx="425.8" cy="132.6" r="1.65"/>
<circle cx="446.6" cy="118.4" r="1.65"/>
<circle cx="446.7" cy="106.2" r="1.65"/>
<circle cx="426.6" cy="129.4" r="1.65"/>
<circle cx="456.4" cy="105.3" r="1.65"/>
<circle cx="431.8" cy="128.9" r="1.65"/>
<circle cx="434.2" cy="119.9" r="1.65"/>
<circle cx="431.4" cy="126.2" r="1.65"/>
<circle cx="423.7" cy="136.6" r="1.65"/>
<circle cx="423.4" cy="123.6" r="1.65"/>
<circle cx="449.4" cy="103.0" r="1.65"/>
<circle cx="442.5" cy="118.8" r="1.65"/>
<circle cx="442.1" cy="114.1" r="1.65"/>
<circle cx="444.0" cy="112.1" r="1.65"/>
<circle cx="430.7" cy="123.6" r="1.65"/>
<circle cx="427.3" cy="123.4" r="1.65"/>
<circle cx="454.4" cy="96.4" r="1.65"/>
<circle cx="431.3" cy="122.7" r="1.65"/>
<circle cx="440.0" cy="112.4" r="1.65"/>
<circle cx="456.0" cy="97.4" r="1.65"/>
<circle cx="428.5" cy="130.3" r="1.65"/>
<circle cx="456.3" cy="103.0" r="1.65"/>
<circle cx="430.3" cy="124.4" r="1.65"/>
<circle cx="443.7" cy="104.8" r="1.65"/>
<circle cx="451.7" cy="103.5" r="1.65"/>
<circle cx="445.3" cy="115.8" r="1.65"/>
<circle cx="437.9" cy="116.1" r="1.65"/>
<circle cx="421.5" cy="135.2" r="1.65"/>
<circle cx="421.3" cy="145.2" r="1.65"/>
<circle cx="434.9" cy="119.9" r="1.65"/>
<circle cx="435.0" cy="125.4" r="1.65"/>
<circle cx="449.0" cy="105.3" r="1.65"/>
<circle cx="434.0" cy="117.8" r="1.65"/>
<circle cx="423.4" cy="132.8" r="1.65"/>
<circle cx="437.8" cy="120.2" r="1.65"/>
<circle cx="453.5" cy="103.2" r="1.65"/>
<circle cx="442.5" cy="109.5" r="1.65"/>
<circle cx="441.1" cy="115.0" r="1.65"/>
<circle cx="438.4" cy="118.8" r="1.65"/>
<circle cx="439.5" cy="116.1" r="1.65"/>
<circle cx="435.0" cy="128.1" r="1.65"/>
<circle cx="437.7" cy="128.3" r="1.65"/>
<circle cx="437.1" cy="114.2" r="1.65"/>
<circle cx="457.9" cy="93.1" r="1.65"/>
<circle cx="445.5" cy="113.7" r="1.65"/>
<circle cx="448.9" cy="104.3" r="1.65"/>
<circle cx="446.7" cy="115.5" r="1.65"/>
<circle cx="443.6" cy="108.1" r="1.65"/>
<circle cx="455.1" cy="99.6" r="1.65"/>
<circle cx="457.1" cy="102.9" r="1.65"/>
<circle cx="446.9" cy="114.1" r="1.65"/>
<circle cx="438.3" cy="123.5" r="1.65"/>
<circle cx="458.1" cy="106.0" r="1.65"/>
<circle cx="453.0" cy="103.7" r="1.65"/>
<circle cx="432.2" cy="117.7" r="1.65"/>
<circle cx="457.4" cy="92.3" r="1.65"/>
<circle cx="450.8" cy="106.3" r="1.65"/>
<circle cx="447.8" cy="102.3" r="1.65"/>
<circle cx="438.1" cy="115.0" r="1.65"/>
<circle cx="431.7" cy="122.7" r="1.65"/>
<circle cx="423.9" cy="131.3" r="1.65"/>
<circle cx="445.2" cy="109.9" r="1.65"/>
<circle cx="452.9" cy="108.2" r="1.65"/>
<circle cx="453.8" cy="106.9" r="1.65"/>
<circle cx="447.2" cy="104.5" r="1.65"/>
<circle cx="430.0" cy="127.5" r="1.65"/>
<circle cx="425.6" cy="127.3" r="1.65"/>
<circle cx="451.5" cy="103.6" r="1.65"/>
<circle cx="440.6" cy="114.4" r="1.65"/>
<circle cx="435.1" cy="119.3" r="1.65"/>
<circle cx="448.3" cy="109.6" r="1.65"/>
<circle cx="423.8" cy="132.6" r="1.65"/>
<circle cx="437.5" cy="116.5" r="1.65"/>
<circle cx="424.9" cy="136.1" r="1.65"/>
<circle cx="456.3" cy="98.7" r="1.65"/>
<circle cx="429.8" cy="123.2" r="1.65"/>
<circle cx="436.6" cy="119.7" r="1.65"/>
<circle cx="450.3" cy="104.4" r="1.65"/>
<circle cx="446.7" cy="108.9" r="1.65"/>
<circle cx="431.4" cy="131.2" r="1.65"/>
<circle cx="443.4" cy="114.3" r="1.65"/>
<circle cx="448.0" cy="106.9" r="1.65"/>
<circle cx="452.5" cy="105.0" r="1.65"/>
<circle cx="445.0" cy="107.9" r="1.65"/>
<circle cx="431.9" cy="119.3" r="1.65"/>
<circle cx="441.6" cy="117.7" r="1.65"/>
<circle cx="429.4" cy="130.2" r="1.65"/>
<circle cx="421.9" cy="141.1" r="1.65"/>
<circle cx="439.2" cy="114.1" r="1.65"/>
<circle cx="431.7" cy="131.4" r="1.65"/>
<circle cx="433.2" cy="121.9" r="1.65"/>
<circle cx="456.2" cy="92.7" r="1.65"/>
<circle cx="445.9" cy="111.2" r="1.65"/>
<circle cx="435.4" cy="122.0" r="1.65"/>
<circle cx="456.6" cy="103.3" r="1.65"/>
<circle cx="444.4" cy="118.5" r="1.65"/>
<circle cx="425.2" cy="125.9" r="1.65"/>
<circle cx="441.6" cy="111.4" r="1.65"/>
<circle cx="448.8" cy="107.4" r="1.65"/>
<circle cx="433.4" cy="123.4" r="1.65"/>
<circle cx="423.2" cy="133.3" r="1.65"/>
<circle cx="435.1" cy="120.6" r="1.65"/>
<circle cx="422.1" cy="135.5" r="1.65"/>
<circle cx="455.5" cy="101.6" r="1.65"/>
<circle cx="454.4" cy="98.2" r="1.65"/>
<circle cx="427.0" cy="129.0" r="1.65"/>
<circle cx="457.8" cy="98.3" r="1.65"/>
<circle cx="457.6" cy="99.7" r="1.65"/>
<circle cx="446.1" cy="110.7" r="1.65"/>
<circle cx="434.0" cy="123.5" r="1.65"/>
<circle cx="436.8" cy="116.1" r="1.65"/>
<circle cx="421.5" cy="135.3" r="1.65"/>
<circle cx="435.4" cy="115.1" r="1.65"/>
<circle cx="448.8" cy="110.3" r="1.65"/>
<circle cx="442.9" cy="117.7" r="1.65"/>
<circle cx="443.1" cy="113.3" r="1.65"/>
<circle cx="445.7" cy="111.6" r="1.65"/>
<circle cx="449.8" cy="102.9" r="1.65"/>
<circle cx="454.0" cy="101.1" r="1.65"/>
<circle cx="446.2" cy="104.2" r="1.65"/>
<circle cx="436.2" cy="127.3" r="1.65"/>
<circle cx="457.3" cy="94.7" r="1.65"/>
<circle cx="422.5" cy="136.3" r="1.65"/>
<circle cx="421.8" cy="127.8" r="1.65"/>
<circle cx="430.9" cy="126.7" r="1.65"/>
<circle cx="442.7" cy="117.8" r="1.65"/>
<circle cx="453.5" cy="102.9" r="1.65"/>
<circle cx="428.2" cy="129.1" r="1.65"/>
<circle cx="424.1" cy="135.9" r="1.65"/>
<circle cx="434.1" cy="124.2" r="1.65"/>
<circle cx="422.0" cy="124.9" r="1.65"/>
<circle cx="425.6" cy="133.8" r="1.65"/>
<circle cx="430.8" cy="128.3" r="1.65"/>
<circle cx="451.6" cy="104.2" r="1.65"/>
<circle cx="423.8" cy="134.8" r="1.65"/>
<circle cx="448.3" cy="108.1" r="1.65"/>
<circle cx="439.9" cy="118.2" r="1.65"/>
<circle cx="445.3" cy="109.1" r="1.65"/>
<circle cx="452.0" cy="107.4" r="1.65"/>
<circle cx="445.9" cy="112.5" r="1.65"/>
<circle cx="426.5" cy="126.4" r="1.65"/>
<circle cx="457.1" cy="100.9" r="1.65"/>
<circle cx="442.8" cy="112.7" r="1.65"/>
<circle cx="452.2" cy="105.3" r="1.65"/>
<circle cx="451.9" cy="111.8" r="1.65"/>
<circle cx="427.9" cy="123.3" r="1.65"/>
<circle cx="437.6" cy="121.8" r="1.65"/>
<circle cx="429.9" cy="121.4" r="1.65"/>
<circle cx="448.5" cy="108.5" r="1.65"/>
<circle cx="444.9" cy="106.0" r="1.65"/>
<circle cx="440.2" cy="117.3" r="1.65"/>
<circle cx="447.7" cy="107.3" r="1.65"/>
<circle cx="457.0" cy="96.8" r="1.65"/>
<circle cx="426.3" cy="135.8" r="1.65"/>
<circle cx="451.6" cy="99.7" r="1.65"/>
<circle cx="435.5" cy="125.8" r="1.65"/>
<circle cx="428.5" cy="124.1" r="1.65"/>
<circle cx="457.8" cy="99.9" r="1.65"/>
<circle cx="437.4" cy="119.8" r="1.65"/>
<circle cx="428.4" cy="124.4" r="1.65"/>
<circle cx="441.8" cy="112.7" r="1.65"/>
<circle cx="438.8" cy="123.7" r="1.65"/>
<circle cx="427.3" cy="135.9" r="1.65"/>
<circle cx="439.8" cy="112.7" r="1.65"/>
<circle cx="448.5" cy="108.4" r="1.65"/>
<circle cx="437.7" cy="120.5" r="1.65"/>
<circle cx="426.6" cy="127.3" r="1.65"/>
<circle cx="448.5" cy="111.2" r="1.65"/>
<circle cx="451.7" cy="109.4" r="1.65"/>
<circle cx="455.2" cy="99.6" r="1.65"/>
<circle cx="432.7" cy="122.5" r="1.65"/>
<circle cx="450.9" cy="100.9" r="1.65"/>
<circle cx="456.2" cy="102.7" r="1.65"/>
<circle cx="421.8" cy="139.3" r="1.65"/>
<circle cx="435.9" cy="119.8" r="1.65"/>
<circle cx="441.8" cy="116.8" r="1.65"/>
<circle cx="429.9" cy="126.8" r="1.65"/>
<circle cx="425.3" cy="135.7" r="1.65"/>
<circle cx="439.6" cy="113.0" r="1.65"/>
<circle cx="425.7" cy="126.8" r="1.65"/>
<circle cx="423.1" cy="137.4" r="1.65"/>
<circle cx="431.8" cy="126.0" r="1.65"/>
<circle cx="430.1" cy="128.2" r="1.65"/>
<circle cx="435.0" cy="123.2" r="1.65"/>
<circle cx="451.6" cy="102.7" r="1.65"/>
<circle cx="439.9" cy="111.4" r="1.65"/>
<circle cx="441.6" cy="108.1" r="1.65"/>
<circle cx="435.1" cy="115.7" r="1.65"/>
<circle cx="428.6" cy="127.9" r="1.65"/>
<circle cx="424.3" cy="125.5" r="1.65"/>
<circle cx="446.3" cy="110.6" r="1.65"/>
<circle cx="449.3" cy="107.6" r="1.65"/>
<circle cx="444.6" cy="110.3" r="1.65"/>
<circle cx="443.9" cy="111.9" r="1.65"/>
<circle cx="426.7" cy="122.5" r="1.65"/>
<circle cx="440.9" cy="108.4" r="1.65"/>
<circle cx="434.4" cy="119.6" r="1.65"/>
<circle cx="457.8" cy="96.8" r="1.65"/>
<circle cx="442.7" cy="117.1" r="1.65"/>
<circle cx="421.2" cy="128.9" r="1.65"/>
<circle cx="431.5" cy="125.9" r="1.65"/>
<circle cx="425.6" cy="133.2" r="1.65"/>
<circle cx="432.9" cy="128.7" r="1.65"/>
<circle cx="452.6" cy="99.0" r="1.65"/>
<circle cx="420.9" cy="140.3" r="1.65"/>
<circle cx="435.3" cy="112.6" r="1.65"/>
<circle cx="438.6" cy="119.3" r="1.65"/>
<circle cx="454.7" cy="98.1" r="1.65"/>
<circle cx="457.8" cy="97.2" r="1.65"/>
<circle cx="423.6" cy="133.7" r="1.65"/>
<circle cx="434.6" cy="119.2" r="1.65"/>
<circle cx="427.5" cy="130.7" r="1.65"/>
<circle cx="432.4" cy="122.1" r="1.65"/>
<circle cx="428.9" cy="125.2" r="1.65"/>
<circle cx="435.1" cy="120.3" r="1.65"/>
<circle cx="434.5" cy="116.4" r="1.65"/>
<circle cx="452.2" cy="102.6" r="1.65"/>
<circle cx="427.2" cy="126.0" r="1.65"/>
<circle cx="424.5" cy="133.6" r="1.65"/>
<circle cx="436.5" cy="114.0" r="1.65"/>
<circle cx="442.7" cy="110.3" r="1.65"/>
<circle cx="449.1" cy="116.6" r="1.65"/>
<circle cx="430.4" cy="126.3" r="1.65"/>
<circle cx="440.7" cy="108.2" r="1.65"/>
<circle cx="431.5" cy="131.4" r="1.65"/>
<circle cx="430.4" cy="126.4" r="1.65"/>
<circle cx="448.3" cy="107.9" r="1.65"/>
<circle cx="448.1" cy="111.6" r="1.65"/>
<circle cx="454.7" cy="109.6" r="1.65"/>
<circle cx="435.1" cy="122.0" r="1.65"/>
<circle cx="433.6" cy="122.9" r="1.65"/>
<circle cx="446.1" cy="110.5" r="1.65"/>
<circle cx="421.0" cy="131.0" r="1.65"/>
<circle cx="441.6" cy="123.5" r="1.65"/>
<circle cx="443.6" cy="109.4" r="1.65"/>
<circle cx="443.8" cy="115.4" r="1.65"/>
<circle cx="440.9" cy="113.2" r="1.65"/>
<circle cx="441.0" cy="111.9" r="1.65"/>
<circle cx="421.6" cy="129.1" r="1.65"/>
<circle cx="450.3" cy="112.6" r="1.65"/>
<circle cx="444.2" cy="116.5" r="1.65"/>
<circle cx="440.0" cy="116.1" r="1.65"/>
<circle cx="425.4" cy="131.5" r="1.65"/>
<circle cx="429.6" cy="126.0" r="1.65"/>
<circle cx="431.6" cy="117.0" r="1.65"/>
<circle cx="423.3" cy="126.3" r="1.65"/>
<circle cx="437.1" cy="123.2" r="1.65"/>
<circle cx="445.9" cy="115.8" r="1.65"/>
<circle cx="443.5" cy="104.1" r="1.65"/>
<circle cx="449.3" cy="100.4" r="1.65"/>
<circle cx="448.2" cy="93.6" r="1.65"/>
<circle cx="436.7" cy="109.4" r="1.65"/>
<circle cx="451.3" cy="93.1" r="1.65"/>
<circle cx="456.5" cy="90.3" r="1.65"/>
<circle cx="438.9" cy="103.2" r="1.65"/>
<circle cx="443.5" cy="97.5" r="1.65"/>
<circle cx="429.1" cy="116.0" r="1.65"/>
<circle cx="431.8" cy="118.8" r="1.65"/>
<circle cx="422.1" cy="121.5" r="1.65"/>
<circle cx="433.2" cy="117.2" r="1.65"/>
<circle cx="450.1" cy="94.9" r="1.65"/>
<circle cx="430.7" cy="114.0" r="1.65"/>
<circle cx="455.3" cy="86.5" r="1.65"/>
<circle cx="492.7" cy="56.1" r="1.65"/>
<circle cx="501.8" cy="48.9" r="1.65"/>
<circle cx="499.9" cy="44.4" r="1.65"/>
<circle cx="489.7" cy="69.1" r="1.65"/>
<circle cx="473.4" cy="73.1" r="1.65"/>
<circle cx="488.9" cy="59.8" r="1.65"/>
<circle cx="464.2" cy="90.4" r="1.65"/>
<circle cx="462.4" cy="92.5" r="1.65"/>
<circle cx="464.2" cy="82.7" r="1.65"/>
<circle cx="488.3" cy="59.9" r="1.65"/>
<circle cx="486.0" cy="69.8" r="1.65"/>
<circle cx="484.7" cy="62.2" r="1.65"/>
<circle cx="486.0" cy="61.2" r="1.65"/>
<circle cx="482.2" cy="62.1" r="1.65"/>
<circle cx="466.2" cy="79.8" r="1.65"/>
<circle cx="462.4" cy="80.9" r="1.65"/>
<circle cx="501.4" cy="44.2" r="1.65"/>
<circle cx="459.6" cy="87.1" r="1.65"/>
<circle cx="471.9" cy="74.2" r="1.65"/>
<circle cx="491.5" cy="67.8" r="1.65"/>
<circle cx="481.3" cy="73.5" r="1.65"/>
<circle cx="501.2" cy="49.6" r="1.65"/>
<circle cx="496.8" cy="56.2" r="1.65"/>
<circle cx="496.5" cy="51.3" r="1.65"/>
<circle cx="498.5" cy="57.6" r="1.65"/>
<circle cx="457.0" cy="94.2" r="1.65"/>
<circle cx="484.0" cy="71.3" r="1.65"/>
<circle cx="492.4" cy="56.4" r="1.65"/>
<circle cx="465.8" cy="87.9" r="1.65"/>
<circle cx="492.9" cy="51.8" r="1.65"/>
<circle cx="499.0" cy="51.8" r="1.65"/>
<circle cx="482.6" cy="71.6" r="1.65"/>
<circle cx="472.3" cy="74.6" r="1.65"/>
<circle cx="486.6" cy="55.9" r="1.65"/>
<circle cx="468.3" cy="78.0" r="1.65"/>
<circle cx="470.3" cy="78.9" r="1.65"/>
<circle cx="458.0" cy="83.9" r="1.65"/>
<circle cx="455.7" cy="103.4" r="1.65"/>
<circle cx="466.8" cy="88.7" r="1.65"/>
<circle cx="460.2" cy="84.7" r="1.65"/>
<circle cx="479.4" cy="60.0" r="1.65"/>
<circle cx="493.6" cy="66.1" r="1.65"/>
<circle cx="490.0" cy="58.3" r="1.65"/>
<circle cx="467.3" cy="85.8" r="1.65"/>
<circle cx="485.1" cy="69.4" r="1.65"/>
<circle cx="455.8" cy="98.7" r="1.65"/>
<circle cx="489.5" cy="51.2" r="1.65"/>
<circle cx="483.0" cy="71.4" r="1.65"/>
<circle cx="480.2" cy="66.6" r="1.65"/>
<circle cx="457.7" cy="89.1" r="1.65"/>
<circle cx="459.5" cy="84.3" r="1.65"/>
<circle cx="497.1" cy="52.0" r="1.65"/>
<circle cx="457.1" cy="92.9" r="1.65"/>
<circle cx="460.9" cy="84.5" r="1.65"/>
<circle cx="470.2" cy="72.7" r="1.65"/>
<circle cx="478.8" cy="69.8" r="1.65"/>
<circle cx="473.1" cy="72.5" r="1.65"/>
<circle cx="474.9" cy="82.8" r="1.65"/>
<circle cx="487.2" cy="66.0" r="1.65"/>
<circle cx="473.8" cy="70.4" r="1.65"/>
<circle cx="497.2" cy="58.4" r="1.65"/>
<circle cx="471.2" cy="77.5" r="1.65"/>
<circle cx="489.8" cy="60.4" r="1.65"/>
<circle cx="465.7" cy="91.5" r="1.65"/>
<circle cx="456.8" cy="96.9" r="1.65"/>
<circle cx="462.6" cy="88.6" r="1.65"/>
<circle cx="482.2" cy="73.2" r="1.65"/>
<circle cx="492.9" cy="60.5" r="1.65"/>
<circle cx="465.7" cy="83.5" r="1.65"/>
<circle cx="474.3" cy="71.3" r="1.65"/>
<circle cx="502.0" cy="43.7" r="1.65"/>
<circle cx="464.5" cy="81.9" r="1.65"/>
<circle cx="469.4" cy="85.4" r="1.65"/>
<circle cx="495.8" cy="54.3" r="1.65"/>
<circle cx="457.4" cy="99.6" r="1.65"/>
<circle cx="485.4" cy="64.9" r="1.65"/>
<circle cx="481.4" cy="59.1" r="1.65"/>
<circle cx="470.0" cy="72.9" r="1.65"/>
<circle cx="473.4" cy="66.1" r="1.65"/>
<circle cx="462.5" cy="87.7" r="1.65"/>
<circle cx="480.5" cy="75.5" r="1.65"/>
<circle cx="484.1" cy="64.0" r="1.65"/>
<circle cx="457.3" cy="95.6" r="1.65"/>
<circle cx="473.4" cy="75.1" r="1.65"/>
<circle cx="472.4" cy="77.1" r="1.65"/>
<circle cx="456.4" cy="96.3" r="1.65"/>
<circle cx="489.9" cy="53.3" r="1.65"/>
<circle cx="468.0" cy="86.5" r="1.65"/>
<circle cx="471.9" cy="86.1" r="1.65"/>
<circle cx="468.9" cy="81.9" r="1.65"/>
<circle cx="476.6" cy="74.4" r="1.65"/>
<circle cx="485.3" cy="70.7" r="1.65"/>
<circle cx="474.6" cy="75.8" r="1.65"/>
<circle cx="493.9" cy="59.3" r="1.65"/>
<circle cx="461.0" cy="96.5" r="1.65"/>
<circle cx="487.5" cy="66.2" r="1.65"/>
<circle cx="456.0" cy="99.9" r="1.65"/>
<circle cx="491.3" cy="67.8" r="1.65"/>
<circle cx="465.5" cy="82.0" r="1.65"/>
<circle cx="473.6" cy="69.8" r="1.65"/>
<circle cx="501.7" cy="47.0" r="1.65"/>
<circle cx="470.4" cy="75.1" r="1.65"/>
<circle cx="484.5" cy="68.5" r="1.65"/>
<circle cx="466.0" cy="84.6" r="1.65"/>
<circle cx="499.7" cy="49.7" r="1.65"/>
<circle cx="464.7" cy="88.7" r="1.65"/>
<circle cx="482.2" cy="67.5" r="1.65"/>
<circle cx="475.0" cy="73.3" r="1.65"/>
<circle cx="476.5" cy="71.2" r="1.65"/>
<circle cx="460.1" cy="89.4" r="1.65"/>
<circle cx="460.1" cy="90.9" r="1.65"/>
<circle cx="466.3" cy="81.1" r="1.65"/>
<circle cx="493.7" cy="56.5" r="1.65"/>
<circle cx="458.4" cy="92.5" r="1.65"/>
<circle cx="489.3" cy="61.5" r="1.65"/>
<circle cx="472.4" cy="76.4" r="1.65"/>
<circle cx="492.0" cy="63.2" r="1.65"/>
<circle cx="501.5" cy="47.0" r="1.65"/>
<circle cx="456.0" cy="91.9" r="1.65"/>
<circle cx="498.2" cy="56.5" r="1.65"/>
<circle cx="459.2" cy="87.7" r="1.65"/>
<circle cx="486.4" cy="56.3" r="1.65"/>
<circle cx="491.3" cy="54.8" r="1.65"/>
<circle cx="466.7" cy="80.5" r="1.65"/>
<circle cx="474.6" cy="78.6" r="1.65"/>
<circle cx="467.4" cy="78.8" r="1.65"/>
<circle cx="463.7" cy="86.1" r="1.65"/>
<circle cx="475.0" cy="70.3" r="1.65"/>
<circle cx="483.8" cy="65.3" r="1.65"/>
<circle cx="474.3" cy="72.8" r="1.65"/>
<circle cx="466.1" cy="73.1" r="1.65"/>
<circle cx="472.0" cy="75.6" r="1.65"/>
<circle cx="488.5" cy="63.9" r="1.65"/>
<circle cx="472.6" cy="79.5" r="1.65"/>
<circle cx="461.7" cy="91.1" r="1.65"/>
<circle cx="484.0" cy="68.1" r="1.65"/>
<circle cx="461.0" cy="88.2" r="1.65"/>
<circle cx="466.8" cy="83.3" r="1.65"/>
<circle cx="462.3" cy="91.1" r="1.65"/>
<circle cx="499.9" cy="50.3" r="1.65"/>
<circle cx="483.2" cy="69.2" r="1.65"/>
<circle cx="496.3" cy="55.1" r="1.65"/>
<circle cx="477.4" cy="73.0" r="1.65"/>
<circle cx="501.0" cy="47.5" r="1.65"/>
<circle cx="498.1" cy="56.7" r="1.65"/>
<circle cx="474.5" cy="81.3" r="1.65"/>
<circle cx="469.8" cy="87.0" r="1.65"/>
<circle cx="471.3" cy="83.1" r="1.65"/>
<circle cx="501.7" cy="48.2" r="1.65"/>
<circle cx="485.5" cy="67.0" r="1.65"/>
<circle cx="503.3" cy="58.0" r="1.65"/>
<circle cx="492.3" cy="56.3" r="1.65"/>
<circle cx="476.0" cy="73.5" r="1.65"/>
<circle cx="459.7" cy="85.9" r="1.65"/>
<circle cx="490.8" cy="48.6" r="1.65"/>
<circle cx="461.4" cy="89.7" r="1.65"/>
<circle cx="472.5" cy="76.6" r="1.65"/>
<circle cx="484.8" cy="62.0" r="1.65"/>
<circle cx="484.4" cy="77.4" r="1.65"/>
<circle cx="467.2" cy="87.1" r="1.65"/>
<circle cx="503.0" cy="46.3" r="1.65"/>
<circle cx="468.5" cy="74.8" r="1.65"/>
<circle cx="493.6" cy="46.5" r="1.65"/>
<circle cx="497.0" cy="56.4" r="1.65"/>
<circle cx="502.4" cy="45.4" r="1.65"/>
<circle cx="473.9" cy="72.4" r="1.65"/>
<circle cx="478.9" cy="67.4" r="1.65"/>
<circle cx="478.9" cy="66.0" r="1.65"/>
<circle cx="486.0" cy="68.0" r="1.65"/>
<circle cx="484.8" cy="61.9" r="1.65"/>
<circle cx="502.8" cy="52.5" r="1.65"/>
<circle cx="483.6" cy="67.9" r="1.65"/>
<circle cx="468.6" cy="83.0" r="1.65"/>
<circle cx="488.7" cy="59.2" r="1.65"/>
<circle cx="496.0" cy="56.2" r="1.65"/>
<circle cx="476.9" cy="72.3" r="1.65"/>
<circle cx="465.6" cy="84.2" r="1.65"/>
<circle cx="457.1" cy="93.1" r="1.65"/>
<circle cx="457.6" cy="90.9" r="1.65"/>
<circle cx="496.1" cy="64.2" r="1.65"/>
<circle cx="476.1" cy="84.7" r="1.65"/>
<circle cx="471.2" cy="85.7" r="1.65"/>
<circle cx="464.9" cy="87.1" r="1.65"/>
<circle cx="470.5" cy="74.1" r="1.65"/>
<circle cx="500.9" cy="52.4" r="1.65"/>
<circle cx="503.6" cy="51.5" r="1.65"/>
<circle cx="495.8" cy="58.2" r="1.65"/>
<circle cx="502.3" cy="57.7" r="1.65"/>
<circle cx="476.6" cy="72.8" r="1.65"/>
<circle cx="464.7" cy="92.4" r="1.65"/>
<circle cx="501.0" cy="47.8" r="1.65"/>
<circle cx="475.4" cy="81.4" r="1.65"/>
<circle cx="463.3" cy="83.1" r="1.65"/>
<circle cx="497.1" cy="47.2" r="1.65"/>
<circle cx="498.2" cy="51.4" r="1.65"/>
<circle cx="498.3" cy="49.2" r="1.65"/>
<circle cx="493.9" cy="61.5" r="1.65"/>
<circle cx="473.6" cy="76.7" r="1.65"/>
<circle cx="499.6" cy="53.0" r="1.65"/>
<circle cx="471.2" cy="81.8" r="1.65"/>
<circle cx="478.4" cy="67.2" r="1.65"/>
<circle cx="465.0" cy="90.0" r="1.65"/>
<circle cx="486.1" cy="58.9" r="1.65"/>
<circle cx="487.5" cy="58.6" r="1.65"/>
<circle cx="497.5" cy="54.3" r="1.65"/>
<circle cx="502.4" cy="40.9" r="1.65"/>
<circle cx="479.4" cy="79.1" r="1.65"/>
<circle cx="465.7" cy="89.1" r="1.65"/>
<circle cx="464.5" cy="82.5" r="1.65"/>
<circle cx="458.6" cy="88.5" r="1.65"/>
<circle cx="484.6" cy="67.9" r="1.65"/>
<circle cx="496.2" cy="50.5" r="1.65"/>
<circle cx="473.5" cy="76.8" r="1.65"/>
<circle cx="480.7" cy="63.9" r="1.65"/>
<circle cx="476.7" cy="72.0" r="1.65"/>
<circle cx="465.1" cy="80.5" r="1.65"/>
<circle cx="502.6" cy="49.7" r="1.65"/>
<circle cx="484.7" cy="69.0" r="1.65"/>
<circle cx="477.1" cy="76.5" r="1.65"/>
<circle cx="501.9" cy="53.7" r="1.65"/>
<circle cx="496.1" cy="50.5" r="1.65"/>
<circle cx="501.1" cy="60.2" r="1.65"/>
<circle cx="492.8" cy="66.0" r="1.65"/>
<circle cx="457.8" cy="93.1" r="1.65"/>
<circle cx="481.3" cy="70.6" r="1.65"/>
<circle cx="500.9" cy="45.0" r="1.65"/>
<circle cx="456.6" cy="84.5" r="1.65"/>
<circle cx="484.6" cy="66.6" r="1.65"/>
<circle cx="486.0" cy="62.1" r="1.65"/>
<circle cx="468.2" cy="82.2" r="1.65"/>
<circle cx="503.2" cy="48.3" r="1.65"/>
<circle cx="457.2" cy="92.3" r="1.65"/>
<circle cx="482.8" cy="64.3" r="1.65"/>
<circle cx="473.6" cy="71.4" r="1.65"/>
<circle cx="497.2" cy="55.0" r="1.65"/>
<circle cx="486.3" cy="66.8" r="1.65"/>
<circle cx="494.7" cy="50.2" r="1.65"/>
<circle cx="460.2" cy="85.2" r="1.65"/>
<circle cx="498.6" cy="55.2" r="1.65"/>
<circle cx="476.8" cy="67.9" r="1.65"/>
<circle cx="482.9" cy="61.3" r="1.65"/>
<circle cx="483.2" cy="61.0" r="1.65"/>
<circle cx="484.2" cy="70.3" r="1.65"/>
<circle cx="491.7" cy="51.7" r="1.65"/>
<circle cx="468.0" cy="83.4" r="1.65"/>
<circle cx="480.1" cy="76.4" r="1.65"/>
<circle cx="474.3" cy="72.4" r="1.65"/>
<circle cx="486.1" cy="66.3" r="1.65"/>
<circle cx="493.9" cy="57.6" r="1.65"/>
<circle cx="458.6" cy="93.8" r="1.65"/>
<circle cx="476.1" cy="69.7" r="1.65"/>
<circle cx="463.0" cy="86.0" r="1.65"/>
<circle cx="485.9" cy="61.8" r="1.65"/>
<circle cx="486.6" cy="61.8" r="1.65"/>
<circle cx="466.6" cy="85.0" r="1.65"/>
<circle cx="501.4" cy="46.2" r="1.65"/>
<circle cx="466.5" cy="87.9" r="1.65"/>
<circle cx="481.8" cy="67.1" r="1.65"/>
<circle cx="456.7" cy="93.4" r="1.65"/>
<circle cx="487.0" cy="58.7" r="1.65"/>
<circle cx="466.2" cy="91.0" r="1.65"/>
<circle cx="484.9" cy="69.5" r="1.65"/>
<circle cx="459.9" cy="93.9" r="1.65"/>
<circle cx="461.5" cy="81.6" r="1.65"/>
<circle cx="462.0" cy="95.2" r="1.65"/>
<circle cx="492.6" cy="59.0" r="1.65"/>
<circle cx="498.7" cy="51.3" r="1.65"/>
<circle cx="471.0" cy="81.0" r="1.65"/>
<circle cx="475.0" cy="72.7" r="1.65"/>
<circle cx="479.9" cy="74.7" r="1.65"/>
<circle cx="472.0" cy="71.7" r="1.65"/>
<circle cx="470.8" cy="82.0" r="1.65"/>
<circle cx="479.8" cy="68.8" r="1.65"/>
<circle cx="491.9" cy="62.8" r="1.65"/>
<circle cx="486.2" cy="54.6" r="1.65"/>
<circle cx="477.7" cy="74.0" r="1.65"/>
<circle cx="475.4" cy="83.6" r="1.65"/>
<circle cx="462.0" cy="85.1" r="1.65"/>
<circle cx="493.0" cy="49.0" r="1.65"/>
<circle cx="470.5" cy="77.2" r="1.65"/>
<circle cx="473.5" cy="80.0" r="1.65"/>
<circle cx="464.7" cy="88.1" r="1.65"/>
<circle cx="472.8" cy="80.6" r="1.65"/>
<circle cx="495.6" cy="51.9" r="1.65"/>
<circle cx="488.0" cy="61.7" r="1.65"/>
<circle cx="491.5" cy="50.0" r="1.65"/>
<circle cx="495.1" cy="54.4" r="1.65"/>
<circle cx="500.7" cy="58.7" r="1.65"/>
<circle cx="500.3" cy="51.1" r="1.65"/>
<circle cx="478.6" cy="65.4" r="1.65"/>
<circle cx="460.7" cy="91.1" r="1.65"/>
<circle cx="471.9" cy="78.8" r="1.65"/>
<circle cx="475.2" cy="77.7" r="1.65"/>
<circle cx="479.5" cy="78.3" r="1.65"/>
<circle cx="492.5" cy="53.2" r="1.65"/>
<circle cx="501.6" cy="56.9" r="1.65"/>
<circle cx="483.3" cy="67.8" r="1.65"/>
<circle cx="482.7" cy="71.1" r="1.65"/>
<circle cx="480.6" cy="70.7" r="1.65"/>
<circle cx="490.4" cy="68.4" r="1.65"/>
<circle cx="470.3" cy="81.3" r="1.65"/>
<circle cx="496.9" cy="55.4" r="1.65"/>
<circle cx="484.8" cy="74.5" r="1.65"/>
<circle cx="464.9" cy="87.7" r="1.65"/>
<circle cx="469.7" cy="74.0" r="1.65"/>
<circle cx="474.9" cy="71.3" r="1.65"/>
<circle cx="473.2" cy="80.2" r="1.65"/>
<circle cx="497.6" cy="47.0" r="1.65"/>
<circle cx="468.5" cy="80.9" r="1.65"/>
<circle cx="501.7" cy="47.6" r="1.65"/>
<circle cx="484.4" cy="61.3" r="1.65"/>
<circle cx="487.5" cy="65.6" r="1.65"/>
<circle cx="498.7" cy="56.5" r="1.65"/>
<circle cx="493.5" cy="54.2" r="1.65"/>
<circle cx="470.9" cy="82.8" r="1.65"/>
<circle cx="464.6" cy="83.0" r="1.65"/>
<circle cx="487.1" cy="71.2" r="1.65"/>
<circle cx="470.8" cy="74.5" r="1.65"/>
<circle cx="491.8" cy="60.5" r="1.65"/>
<circle cx="467.9" cy="87.0" r="1.65"/>
<circle cx="522.9" cy="19.1" r="1.65"/>
<circle cx="540.2" cy="9.2" r="1.65"/>
<circle cx="545.0" cy="2.6" r="1.65"/>
<circle cx="523.9" cy="32.1" r="1.65"/>
<circle cx="525.7" cy="29.6" r="1.65"/>
<circle cx="523.4" cy="25.3" r="1.65"/>
<circle cx="541.7" cy="16.0" r="1.65"/>
<circle cx="506.0" cy="40.5" r="1.65"/>
<circle cx="510.0" cy="32.1" r="1.65"/>
<circle cx="521.3" cy="19.3" r="1.65"/>
<circle cx="522.0" cy="25.4" r="1.65"/>
<circle cx="523.7" cy="20.9" r="1.65"/>
<circle cx="525.4" cy="29.1" r="1.65"/>
<circle cx="528.6" cy="21.0" r="1.65"/>
<circle cx="542.2" cy="5.4" r="1.65"/>
<circle cx="538.3" cy="17.6" r="1.65"/>
<circle cx="535.3" cy="17.8" r="1.65"/>
<circle cx="504.9" cy="48.2" r="1.65"/>
<circle cx="518.2" cy="33.0" r="1.65"/>
<circle cx="503.5" cy="51.1" r="1.65"/>
<circle cx="504.7" cy="42.0" r="1.65"/>
<circle cx="506.6" cy="48.6" r="1.65"/>
<circle cx="504.4" cy="50.3" r="1.65"/>
<circle cx="535.3" cy="16.1" r="1.65"/>
<circle cx="503.5" cy="52.8" r="1.65"/>
<circle cx="507.3" cy="37.2" r="1.65"/>
<circle cx="518.3" cy="36.6" r="1.65"/>
<circle cx="537.2" cy="11.9" r="1.65"/>
<circle cx="533.7" cy="19.6" r="1.65"/>
<circle cx="517.2" cy="31.5" r="1.65"/>
<circle cx="522.6" cy="30.7" r="1.65"/>
<circle cx="526.7" cy="18.5" r="1.65"/>
<circle cx="533.8" cy="16.3" r="1.65"/>
<circle cx="513.9" cy="40.6" r="1.65"/>
<circle cx="545.9" cy="8.2" r="1.65"/>
<circle cx="503.3" cy="45.8" r="1.65"/>
<circle cx="506.4" cy="55.1" r="1.65"/>
<circle cx="506.9" cy="42.2" r="1.65"/>
<circle cx="532.0" cy="22.5" r="1.65"/>
<circle cx="517.7" cy="35.3" r="1.65"/>
<circle cx="504.1" cy="47.0" r="1.65"/>
<circle cx="507.4" cy="49.1" r="1.65"/>
<circle cx="511.1" cy="33.4" r="1.65"/>
<circle cx="503.3" cy="33.7" r="1.65"/>
<circle cx="506.7" cy="36.3" r="1.65"/>
<circle cx="530.5" cy="24.3" r="1.65"/>
<circle cx="502.4" cy="58.5" r="1.65"/>
<circle cx="541.7" cy="3.2" r="1.65"/>
<circle cx="529.0" cy="32.7" r="1.65"/>
<circle cx="547.8" cy="-9.2" r="1.65"/>
<circle cx="511.1" cy="49.5" r="1.65"/>
<circle cx="514.9" cy="41.2" r="1.65"/>
<circle cx="537.9" cy="8.7" r="1.65"/>
<circle cx="547.0" cy="8.1" r="1.65"/>
<circle cx="503.1" cy="55.8" r="1.65"/>
<circle cx="513.2" cy="43.9" r="1.65"/>
<circle cx="520.3" cy="25.8" r="1.65"/>
<circle cx="501.2" cy="48.8" r="1.65"/>
<circle cx="508.3" cy="37.4" r="1.65"/>
<circle cx="506.5" cy="51.8" r="1.65"/>
<circle cx="529.3" cy="18.3" r="1.65"/>
<circle cx="538.7" cy="3.4" r="1.65"/>
<circle cx="523.4" cy="16.5" r="1.65"/>
<circle cx="502.3" cy="52.6" r="1.65"/>
<circle cx="529.4" cy="27.2" r="1.65"/>
<circle cx="541.5" cy="6.9" r="1.65"/>
<circle cx="537.9" cy="7.1" r="1.65"/>
<circle cx="544.5" cy="-5.1" r="1.65"/>
<circle cx="524.0" cy="22.4" r="1.65"/>
<circle cx="524.9" cy="17.0" r="1.65"/>
<circle cx="509.1" cy="36.8" r="1.65"/>
<circle cx="518.0" cy="37.5" r="1.65"/>
<circle cx="529.9" cy="19.8" r="1.65"/>
<circle cx="549.2" cy="-7.8" r="1.65"/>
<circle cx="537.4" cy="7.8" r="1.65"/>
<circle cx="541.7" cy="16.3" r="1.65"/>
<circle cx="531.5" cy="22.3" r="1.65"/>
<circle cx="535.6" cy="19.8" r="1.65"/>
<circle cx="517.8" cy="42.7" r="1.65"/>
<circle cx="541.7" cy="7.9" r="1.65"/>
<circle cx="509.2" cy="51.8" r="1.65"/>
<circle cx="528.4" cy="25.9" r="1.65"/>
<circle cx="524.5" cy="23.5" r="1.65"/>
<circle cx="525.7" cy="31.6" r="1.65"/>
<circle cx="526.0" cy="27.9" r="1.65"/>
<circle cx="536.8" cy="2.9" r="1.65"/>
<circle cx="509.2" cy="48.6" r="1.65"/>
<circle cx="531.0" cy="15.8" r="1.65"/>
<circle cx="522.0" cy="28.0" r="1.65"/>
<circle cx="532.3" cy="17.9" r="1.65"/>
<circle cx="539.5" cy="21.0" r="1.65"/>
<circle cx="508.8" cy="42.4" r="1.65"/>
<circle cx="544.3" cy="5.3" r="1.65"/>
<circle cx="529.4" cy="33.0" r="1.65"/>
<circle cx="516.5" cy="38.4" r="1.65"/>
<circle cx="501.8" cy="50.0" r="1.65"/>
<circle cx="505.3" cy="47.7" r="1.65"/>
<circle cx="514.4" cy="46.2" r="1.65"/>
<circle cx="530.9" cy="19.4" r="1.65"/>
<circle cx="544.1" cy="10.9" r="1.65"/>
<circle cx="543.5" cy="9.6" r="1.65"/>
<circle cx="548.6" cy="7.5" r="1.65"/>
<circle cx="532.9" cy="21.3" r="1.65"/>
<circle cx="509.9" cy="38.6" r="1.65"/>
<circle cx="510.4" cy="36.8" r="1.65"/>
<circle cx="502.7" cy="47.5" r="1.65"/>
<circle cx="528.7" cy="19.0" r="1.65"/>
<circle cx="514.1" cy="46.8" r="1.65"/>
<circle cx="515.1" cy="40.0" r="1.65"/>
<circle cx="548.9" cy="-6.4" r="1.65"/>
<circle cx="543.0" cy="0.9" r="1.65"/>
<circle cx="542.8" cy="-1.5" r="1.65"/>
<circle cx="542.5" cy="0.2" r="1.65"/>
<circle cx="530.9" cy="18.9" r="1.65"/>
<circle cx="533.2" cy="14.3" r="1.65"/>
<circle cx="533.6" cy="12.7" r="1.65"/>
<circle cx="514.8" cy="40.2" r="1.65"/>
<circle cx="541.3" cy="8.8" r="1.65"/>
<circle cx="515.0" cy="45.9" r="1.65"/>
<circle cx="533.6" cy="24.5" r="1.65"/>
<circle cx="534.5" cy="24.7" r="1.65"/>
<circle cx="504.2" cy="40.0" r="1.65"/>
<circle cx="503.6" cy="63.1" r="1.65"/>
<circle cx="521.1" cy="41.3" r="1.65"/>
<circle cx="524.5" cy="16.1" r="1.65"/>
<circle cx="541.7" cy="25.4" r="1.65"/>
<circle cx="548.7" cy="-18.2" r="1.65"/>
<circle cx="541.1" cy="5.2" r="1.65"/>
<circle cx="510.1" cy="31.3" r="1.65"/>
<circle cx="543.1" cy="0.9" r="1.65"/>
<circle cx="539.6" cy="6.0" r="1.65"/>
<circle cx="507.3" cy="43.5" r="1.65"/>
<circle cx="533.4" cy="4.8" r="1.65"/>
<circle cx="529.6" cy="29.9" r="1.65"/>
<circle cx="528.6" cy="30.8" r="1.65"/>
<circle cx="515.5" cy="37.2" r="1.65"/>
<circle cx="526.6" cy="22.8" r="1.65"/>
<circle cx="518.0" cy="36.4" r="1.65"/>
<circle cx="527.3" cy="13.1" r="1.65"/>
<circle cx="528.7" cy="38.3" r="1.65"/>
<circle cx="548.2" cy="0.1" r="1.65"/>
<circle cx="546.2" cy="15.2" r="1.65"/>
<circle cx="530.9" cy="24.6" r="1.65"/>
<circle cx="523.2" cy="30.7" r="1.65"/>
<circle cx="537.9" cy="-4.6" r="1.65"/>
<circle cx="538.2" cy="26.7" r="1.65"/>
<circle cx="502.3" cy="27.8" r="1.65"/>
<circle cx="512.3" cy="39.0" r="1.65"/>
<circle cx="522.4" cy="25.4" r="1.65"/>
<circle cx="544.6" cy="16.3" r="1.65"/>
<circle cx="532.1" cy="12.9" r="1.65"/>
<circle cx="526.0" cy="13.4" r="1.65"/>
<circle cx="543.9" cy="-7.4" r="1.65"/>
<circle cx="520.7" cy="19.9" r="1.65"/>
<circle cx="538.3" cy="-6.9" r="1.65"/>
<circle cx="540.5" cy="2.6" r="1.65"/>
<circle cx="512.2" cy="36.4" r="1.65"/>
<circle cx="512.2" cy="42.5" r="1.65"/>
<circle cx="508.3" cy="52.0" r="1.65"/>
<circle cx="513.8" cy="29.4" r="1.65"/>
<circle cx="542.6" cy="8.0" r="1.65"/>
<circle cx="513.9" cy="26.6" r="1.65"/>
<circle cx="529.4" cy="20.2" r="1.65"/>
<circle cx="530.0" cy="28.5" r="1.65"/>
<circle cx="502.3" cy="47.1" r="1.65"/>
<circle cx="536.4" cy="13.0" r="1.65"/>
<circle cx="537.2" cy="7.0" r="1.65"/>
<circle cx="540.6" cy="8.4" r="1.65"/>
<circle cx="518.6" cy="20.3" r="1.65"/>
<circle cx="503.2" cy="54.4" r="1.65"/>
<circle cx="529.6" cy="35.6" r="1.65"/>
<circle cx="526.2" cy="17.7" r="1.65"/>
<circle cx="534.1" cy="7.7" r="1.65"/>
<circle cx="516.9" cy="42.1" r="1.65"/>
<circle cx="504.4" cy="47.9" r="1.65"/>
<circle cx="545.1" cy="21.2" r="1.65"/>
<circle cx="501.2" cy="58.2" r="1.65"/>
<circle cx="538.1" cy="16.0" r="1.65"/>
<circle cx="524.6" cy="35.5" r="1.65"/>
<circle cx="514.7" cy="40.2" r="1.65"/>
<circle cx="524.3" cy="14.2" r="1.65"/>
<circle cx="524.3" cy="37.1" r="1.65"/>
<circle cx="526.1" cy="31.3" r="1.65"/>
<circle cx="515.0" cy="34.4" r="1.65"/>
<circle cx="548.0" cy="6.0" r="1.65"/>
<circle cx="509.9" cy="41.2" r="1.65"/>
<circle cx="531.8" cy="14.5" r="1.65"/>
<circle cx="525.4" cy="9.9" r="1.65"/>
<circle cx="504.7" cy="40.3" r="1.65"/>
<circle cx="514.6" cy="31.2" r="1.65"/>
<circle cx="535.5" cy="7.9" r="1.65"/>
<circle cx="528.6" cy="13.3" r="1.65"/>
<circle cx="539.4" cy="13.7" r="1.65"/>
<circle cx="528.4" cy="11.1" r="1.65"/>
<circle cx="546.9" cy="0.5" r="1.65"/>
<circle cx="521.1" cy="51.5" r="1.65"/>
<circle cx="513.0" cy="39.6" r="1.65"/>
<circle cx="511.1" cy="25.8" r="1.65"/>
<circle cx="513.9" cy="49.1" r="1.65"/>
<circle cx="520.4" cy="19.0" r="1.65"/>
<circle cx="521.2" cy="37.1" r="1.65"/>
<circle cx="547.2" cy="13.6" r="1.65"/>
<circle cx="535.6" cy="3.7" r="1.65"/>
<circle cx="512.0" cy="27.1" r="1.65"/>
<circle cx="504.7" cy="38.2" r="1.65"/>
<circle cx="545.5" cy="20.9" r="1.65"/>
<circle cx="511.9" cy="46.8" r="1.65"/>
<circle cx="536.6" cy="18.4" r="1.65"/>
<circle cx="529.2" cy="20.4" r="1.65"/>
<circle cx="529.8" cy="34.3" r="1.65"/>
<circle cx="524.4" cy="34.6" r="1.65"/>
<circle cx="522.2" cy="20.7" r="1.65"/>
<circle cx="518.9" cy="33.0" r="1.65"/>
<circle cx="513.2" cy="41.3" r="1.65"/>
<circle cx="539.7" cy="10.4" r="1.65"/>
<circle cx="536.5" cy="13.2" r="1.65"/>
<circle cx="515.8" cy="37.4" r="1.65"/>
<circle cx="516.0" cy="35.8" r="1.65"/>
<circle cx="541.4" cy="10.3" r="1.65"/>
<circle cx="503.8" cy="28.2" r="1.65"/>
<circle cx="541.5" cy="10.8" r="1.65"/>
<circle cx="507.2" cy="47.9" r="1.65"/>
<circle cx="521.1" cy="40.4" r="1.65"/>
<circle cx="512.0" cy="24.8" r="1.65"/>
<circle cx="524.8" cy="36.7" r="1.65"/>
<circle cx="525.8" cy="32.2" r="1.65"/>
<circle cx="505.1" cy="37.7" r="1.65"/>
<circle cx="529.5" cy="13.6" r="1.65"/>
<circle cx="517.0" cy="16.6" r="1.65"/>
<circle cx="547.1" cy="-16.7" r="1.65"/>
<circle cx="325.5" cy="156.9" r="1.65"/>
<circle cx="327.9" cy="163.2" r="1.65"/>
<circle cx="325.0" cy="173.1" r="1.65"/>
<circle cx="329.8" cy="171.2" r="1.65"/>
<circle cx="338.6" cy="155.0" r="1.65"/>
<circle cx="340.2" cy="166.4" r="1.65"/>
<circle cx="340.2" cy="173.6" r="1.65"/>
<circle cx="339.4" cy="178.4" r="1.65"/>
<circle cx="345.8" cy="136.9" r="1.65"/>
<circle cx="347.4" cy="138.5" r="1.65"/>
<circle cx="357.6" cy="154.2" r="1.65"/>
<circle cx="351.5" cy="159.2" r="1.65"/>
<circle cx="353.3" cy="161.6" r="1.65"/>
<circle cx="356.3" cy="160.8" r="1.65"/>
<circle cx="361.9" cy="159.8" r="1.65"/>
<circle cx="357.6" cy="172.5" r="1.65"/>
<circle cx="351.5" cy="174.4" r="1.65"/>
<circle cx="348.0" cy="177.0" r="1.65"/>
<circle cx="351.5" cy="178.4" r="1.65"/>
<circle cx="374.5" cy="136.1" r="1.65"/>
<circle cx="375.0" cy="148.6" r="1.65"/>
<circle cx="378.5" cy="150.5" r="1.65"/>
<circle cx="367.3" cy="161.6" r="1.65"/>
<circle cx="365.4" cy="164.0" r="1.65"/>
<circle cx="333.8" cy="110.1" r="1.65"/>
<circle cx="351.5" cy="92.0" r="1.65"/>
<circle cx="374.5" cy="96.6" r="1.65"/>
<circle cx="380.6" cy="102.7" r="1.65"/>
<circle cx="356.3" cy="121.3" r="1.65"/>
<circle cx="365.1" cy="117.5" r="1.65"/>
<circle cx="372.3" cy="120.5" r="1.65"/>
<circle cx="383.8" cy="124.2" r="1.65"/>
<circle cx="390.5" cy="118.6" r="1.65"/>
<circle cx="395.9" cy="126.8" r="1.65"/>
<circle cx="395.9" cy="110.4" r="1.65"/>
<circle cx="398.3" cy="109.6" r="1.65"/>
<circle cx="398.3" cy="111.7" r="1.65"/>
<circle cx="398.3" cy="104.0" r="1.65"/>
<circle cx="402.3" cy="100.0" r="1.65"/>
<circle cx="404.7" cy="113.6" r="1.65"/>
<circle cx="409.3" cy="129.5" r="1.65"/>
<circle cx="340.2" cy="54.6" r="1.65"/>
<circle cx="327.9" cy="65.7" r="1.65"/>
<circle cx="340.2" cy="72.6" r="1.65"/>
<circle cx="395.4" cy="63.1" r="1.65"/>
<circle cx="421.3" cy="152.3" r="1.65"/>
<circle cx="421.3" cy="166.4" r="1.65"/>
<circle cx="417.0" cy="168.5" r="1.65"/>
<circle cx="413.0" cy="176.2" r="1.65"/>
<circle cx="398.8" cy="162.4" r="1.65"/>
<circle cx="398.8" cy="166.7" r="1.65"/>
<circle cx="398.0" cy="168.5" r="1.65"/>
<circle cx="409.3" cy="159.0" r="1.65"/>
<circle cx="413.6" cy="152.1" r="1.65"/>
<circle cx="421.9" cy="107.4" r="1.65"/>
<circle cx="436.6" cy="101.9" r="1.65"/>
<circle cx="441.9" cy="100.3" r="1.65"/>
<circle cx="446.5" cy="95.0" r="1.65"/>
<circle cx="450.8" cy="90.2" r="1.65"/>
<circle cx="454.2" cy="85.9" r="1.65"/>
<circle cx="444.6" cy="123.4" r="1.65"/>
<circle cx="450.0" cy="118.6" r="1.65"/>
<circle cx="471.9" cy="95.8" r="1.65"/>
<circle cx="481.5" cy="85.4" r="1.65"/>
<circle cx="475.1" cy="90.2" r="1.65"/>
<circle cx="423.5" cy="73.4" r="1.65"/>
<circle cx="487.2" cy="42.1" r="1.65"/>
<circle cx="481.3" cy="54.8" r="1.65"/>
<circle cx="463.1" cy="68.9" r="1.65"/>
<circle cx="502.9" cy="73.7" r="1.65"/>
<circle cx="501.3" cy="79.6" r="1.65"/>
<circle cx="495.2" cy="88.1" r="1.65"/>
<circle cx="516.6" cy="74.5" r="1.65"/>
<circle cx="526.5" cy="91.8" r="1.65"/>
<circle cx="508.8" cy="62.8" r="1.65"/>
<circle cx="526.5" cy="57.8" r="1.65"/>
<circle cx="531.6" cy="60.7" r="1.65"/>
<circle cx="530.0" cy="64.7" r="1.65"/>
<circle cx="539.9" cy="62.0" r="1.65"/>
<circle cx="541.5" cy="64.9" r="1.65"/>
<circle cx="537.2" cy="71.1" r="1.65"/>
<circle cx="542.8" cy="71.1" r="1.65"/>
<circle cx="532.9" cy="75.8" r="1.65"/>
<circle cx="538.8" cy="76.6" r="1.65"/>
<circle cx="540.4" cy="74.5" r="1.65"/>
<circle cx="500.8" cy="30.9" r="1.65"/>
<circle cx="502.9" cy="33.3" r="1.65"/>
<circle cx="515.8" cy="16.1" r="1.65"/>
<circle cx="519.5" cy="18.5" r="1.65"/>
<circle cx="523.8" cy="12.6" r="1.65"/>
<circle cx="528.9" cy="8.4" r="1.65"/>
<circle cx="534.3" cy="8.6" r="1.65"/>
<circle cx="539.4" cy="38.4" r="1.65"/>
<circle cx="540.4" cy="42.6" r="1.65"/>
<circle cx="542.8" cy="44.8" r="1.65"/>
<circle cx="539.6" cy="47.9" r="1.65"/>
<circle cx="537.7" cy="51.7" r="1.65"/>
<circle cx="529.4" cy="50.9" r="1.65"/>
<circle cx="520.3" cy="45.8" r="1.65"/>
<circle cx="524.6" cy="37.6" r="1.65"/>
<circle cx="512.9" cy="113.6" r="1.65"/>
<circle cx="537.2" cy="113.6" r="1.65"/>
<circle cx="541.5" cy="115.4" r="1.65"/>
<circle cx="495.5" cy="144.4" r="1.65"/>
<circle cx="495.5" cy="149.4" r="1.65"/>
<circle cx="505.9" cy="148.1" r="1.65"/>
<circle cx="516.6" cy="144.1" r="1.65"/>
<circle cx="495.5" cy="159.8" r="1.65"/>
<circle cx="531.6" cy="159.5" r="1.65"/>
<circle cx="403.7" cy="136.1" r="1.65"/>
</g>
<g clip-path="url(#c316)"><line x1="327.6" y1="221.1" x2="546.6" y2="3.8" stroke="#e81010" stroke-width="1.5"/></g>
<rect x="316.4" y="6.5" width="227.5" height="225.8" fill="none" stroke="#d4d4d4" stroke-width="1"/>
<line x1="316.40" y1="232.3" x2="316.40" y2="233.9" stroke="#444" stroke-width="0.8"/>
<text x="316.40" y="244.7" font-size="12" style="stroke-width:0.12px" text-anchor="middle">0</text>
<line x1="369.93" y1="232.3" x2="369.93" y2="233.9" stroke="#444" stroke-width="0.8"/>
<text x="369.93" y="244.7" font-size="12" style="stroke-width:0.12px" text-anchor="middle">2</text>
<line x1="423.46" y1="232.3" x2="423.46" y2="233.9" stroke="#444" stroke-width="0.8"/>
<text x="423.46" y="244.7" font-size="12" style="stroke-width:0.12px" text-anchor="middle">4</text>
<line x1="476.99" y1="232.3" x2="476.99" y2="233.9" stroke="#444" stroke-width="0.8"/>
<text x="476.99" y="244.7" font-size="12" style="stroke-width:0.12px" text-anchor="middle">6</text>
<line x1="530.52" y1="232.3" x2="530.52" y2="233.9" stroke="#444" stroke-width="0.8"/>
<text x="530.52" y="244.7" font-size="12" style="stroke-width:0.12px" text-anchor="middle">8</text>
<line x1="314.79999999999995" y1="232.30" x2="316.4" y2="232.30" stroke="#444" stroke-width="0.8"/>
<text x="312.79999999999995" y="236.40" font-size="11.8" style="stroke-width:0.12px" text-anchor="end">0</text>
<line x1="314.79999999999995" y1="205.74" x2="316.4" y2="205.74" stroke="#444" stroke-width="0.8"/>
<text x="312.79999999999995" y="209.84" font-size="11.8" style="stroke-width:0.12px" text-anchor="end">1</text>
<line x1="314.79999999999995" y1="179.17" x2="316.4" y2="179.17" stroke="#444" stroke-width="0.8"/>
<text x="312.79999999999995" y="183.27" font-size="11.8" style="stroke-width:0.12px" text-anchor="end">2</text>
<line x1="314.79999999999995" y1="152.61" x2="316.4" y2="152.61" stroke="#444" stroke-width="0.8"/>
<text x="312.79999999999995" y="156.71" font-size="11.8" style="stroke-width:0.12px" text-anchor="end">3</text>
<line x1="314.79999999999995" y1="126.04" x2="316.4" y2="126.04" stroke="#444" stroke-width="0.8"/>
<text x="312.79999999999995" y="130.14" font-size="11.8" style="stroke-width:0.12px" text-anchor="end">4</text>
<line x1="314.79999999999995" y1="99.48" x2="316.4" y2="99.48" stroke="#444" stroke-width="0.8"/>
<text x="312.79999999999995" y="103.58" font-size="11.8" style="stroke-width:0.12px" text-anchor="end">5</text>
<line x1="314.79999999999995" y1="72.91" x2="316.4" y2="72.91" stroke="#444" stroke-width="0.8"/>
<text x="312.79999999999995" y="77.01" font-size="11.8" style="stroke-width:0.12px" text-anchor="end">6</text>
<line x1="314.79999999999995" y1="46.35" x2="316.4" y2="46.35" stroke="#444" stroke-width="0.8"/>
<text x="312.79999999999995" y="50.45" font-size="11.8" style="stroke-width:0.12px" text-anchor="end">7</text>
<line x1="314.79999999999995" y1="19.78" x2="316.4" y2="19.78" stroke="#444" stroke-width="0.8"/>
<text x="312.79999999999995" y="23.88" font-size="11.8" style="stroke-width:0.12px" text-anchor="end">8</text>
<text x="430" y="257.4" font-size="12.65" text-anchor="middle">Ground Truth in m</text>
<text transform="translate(302.2,119.4) rotate(-90)" font-size="12.5" text-anchor="middle">Prediction in m</text>
<text y="282.9" font-size="12.2" fill="#111" style="stroke:none"><tspan x="366.4" font-weight="bold" textLength="14.3" lengthAdjust="spacingAndGlyphs">(b)</tspan> <tspan x="383.7" textLength="126.1" lengthAdjust="spacingAndGlyphs">Simulation environment</tspan></text>
</svg></body></html>
